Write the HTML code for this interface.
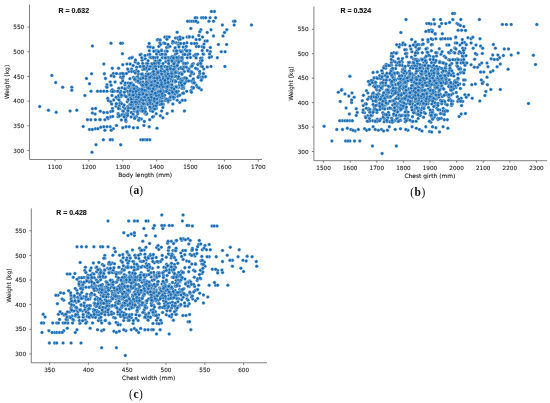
<!DOCTYPE html>
<html lang="en"><head><meta charset="utf-8"><title>Scatter plots of weight against body measurements</title>
<style>
html,body{margin:0;padding:0;background:#fff}
body{width:550px;height:403px;overflow:hidden}
svg{display:block}
.pt circle{fill:#186cb4;stroke:#fff;stroke-width:.3}
.ax{fill:none;stroke:#727272;stroke-width:.9}
.tk text{font-family:"DejaVu Sans","Liberation Sans",sans-serif;font-size:5.7px;fill:#222;stroke:#222;stroke-width:.1}
.tk text.lb{font-size:5.95px}
.r{font-family:"Liberation Sans","DejaVu Sans",sans-serif;font-weight:bold;font-size:7px;fill:#111;stroke:#111;stroke-width:.12}
.cap{font-family:"Liberation Serif","DejaVu Serif",serif;font-size:11.5px;fill:#111}
</style></head><body>
<svg width="550" height="403" viewBox="0 0 550 403">
<rect width="550" height="403" fill="#fff"/>
<g class="pl" id="plot-a">
<g class="pt">
<circle cx="175.5" cy="65.6" r="1.73"/><circle cx="174.3" cy="95.2" r="1.73"/><circle cx="136.5" cy="107.6" r="1.73"/><circle cx="155.4" cy="88.7" r="1.73"/><circle cx="179.8" cy="102.4" r="1.73"/><circle cx="152.2" cy="107.0" r="1.73"/><circle cx="164.8" cy="74.0" r="1.73"/><circle cx="163.5" cy="57.5" r="1.73"/><circle cx="129.2" cy="126.7" r="1.73"/><circle cx="158.4" cy="66.6" r="1.73"/><circle cx="159.9" cy="71.5" r="1.73"/><circle cx="171.2" cy="57.3" r="1.73"/><circle cx="143.4" cy="96.7" r="1.73"/><circle cx="120.7" cy="91.2" r="1.73"/><circle cx="164.8" cy="37.1" r="1.73"/><circle cx="160.2" cy="80.9" r="1.73"/><circle cx="161.1" cy="82.9" r="1.73"/><circle cx="149.5" cy="86.5" r="1.73"/><circle cx="166.7" cy="47.4" r="1.73"/><circle cx="139.7" cy="96.9" r="1.73"/><circle cx="189.0" cy="51.3" r="1.73"/><circle cx="152.2" cy="57.2" r="1.73"/><circle cx="148.1" cy="54.7" r="1.73"/><circle cx="162.0" cy="84.8" r="1.73"/><circle cx="170.1" cy="100.0" r="1.73"/><circle cx="168.6" cy="47.0" r="1.73"/><circle cx="192.8" cy="82.7" r="1.73"/><circle cx="142.9" cy="104.3" r="1.73"/><circle cx="39.7" cy="106.6" r="1.73"/><circle cx="103.8" cy="64.1" r="1.73"/><circle cx="153.3" cy="68.6" r="1.73"/><circle cx="146.0" cy="97.1" r="1.73"/><circle cx="217.3" cy="57.7" r="1.73"/><circle cx="159.7" cy="80.9" r="1.73"/><circle cx="152.2" cy="91.8" r="1.73"/><circle cx="162.9" cy="117.8" r="1.73"/><circle cx="174.8" cy="81.9" r="1.73"/><circle cx="138.3" cy="80.4" r="1.73"/><circle cx="168.9" cy="66.9" r="1.73"/><circle cx="137.2" cy="104.1" r="1.73"/><circle cx="171.2" cy="87.1" r="1.73"/><circle cx="153.3" cy="69.4" r="1.73"/><circle cx="150.2" cy="101.8" r="1.73"/><circle cx="130.2" cy="64.1" r="1.73"/><circle cx="168.9" cy="90.3" r="1.73"/><circle cx="191.1" cy="66.6" r="1.73"/><circle cx="175.5" cy="38.1" r="1.73"/><circle cx="135.0" cy="77.4" r="1.73"/><circle cx="120.4" cy="102.3" r="1.73"/><circle cx="135.2" cy="99.1" r="1.73"/><circle cx="118.2" cy="113.5" r="1.73"/><circle cx="112.0" cy="95.5" r="1.73"/><circle cx="168.4" cy="87.3" r="1.73"/><circle cx="175.5" cy="71.5" r="1.73"/><circle cx="125.9" cy="117.0" r="1.73"/><circle cx="165.9" cy="71.2" r="1.73"/><circle cx="172.6" cy="81.4" r="1.73"/><circle cx="164.6" cy="98.2" r="1.73"/><circle cx="153.2" cy="95.6" r="1.73"/><circle cx="119.8" cy="74.1" r="1.73"/><circle cx="127.0" cy="96.7" r="1.73"/><circle cx="161.4" cy="71.7" r="1.73"/><circle cx="136.6" cy="67.2" r="1.73"/><circle cx="86.5" cy="78.6" r="1.73"/><circle cx="147.7" cy="91.8" r="1.73"/><circle cx="176.4" cy="60.6" r="1.73"/><circle cx="157.8" cy="51.3" r="1.73"/><circle cx="48.4" cy="110.2" r="1.73"/><circle cx="177.3" cy="72.0" r="1.73"/><circle cx="180.0" cy="50.8" r="1.73"/><circle cx="136.6" cy="100.2" r="1.73"/><circle cx="162.2" cy="57.7" r="1.73"/><circle cx="200.3" cy="76.9" r="1.73"/><circle cx="173.8" cy="89.3" r="1.73"/><circle cx="143.8" cy="104.2" r="1.73"/><circle cx="97.5" cy="91.2" r="1.73"/><circle cx="129.9" cy="104.6" r="1.73"/><circle cx="177.8" cy="63.5" r="1.73"/><circle cx="134.7" cy="86.8" r="1.73"/><circle cx="164.1" cy="91.8" r="1.73"/><circle cx="143.9" cy="125.6" r="1.73"/><circle cx="151.8" cy="73.0" r="1.73"/><circle cx="152.5" cy="93.5" r="1.73"/><circle cx="201.9" cy="78.8" r="1.73"/><circle cx="137.8" cy="63.3" r="1.73"/><circle cx="110.2" cy="82.0" r="1.73"/><circle cx="163.5" cy="76.2" r="1.73"/><circle cx="151.5" cy="68.6" r="1.73"/><circle cx="135.0" cy="89.0" r="1.73"/><circle cx="152.0" cy="63.6" r="1.73"/><circle cx="168.1" cy="102.0" r="1.73"/><circle cx="181.7" cy="73.0" r="1.73"/><circle cx="169.6" cy="84.4" r="1.73"/><circle cx="182.9" cy="80.7" r="1.73"/><circle cx="135.1" cy="106.6" r="1.73"/><circle cx="189.9" cy="21.2" r="1.73"/><circle cx="148.2" cy="74.0" r="1.73"/><circle cx="149.6" cy="95.5" r="1.73"/><circle cx="113.7" cy="100.0" r="1.73"/><circle cx="113.3" cy="73.6" r="1.73"/><circle cx="146.3" cy="114.0" r="1.73"/><circle cx="181.8" cy="83.0" r="1.73"/><circle cx="199.8" cy="73.6" r="1.73"/><circle cx="185.5" cy="77.4" r="1.73"/><circle cx="142.2" cy="60.2" r="1.73"/><circle cx="107.3" cy="112.5" r="1.73"/><circle cx="124.8" cy="114.4" r="1.73"/><circle cx="183.5" cy="63.5" r="1.73"/><circle cx="147.9" cy="63.5" r="1.73"/><circle cx="154.8" cy="61.1" r="1.73"/><circle cx="215.6" cy="17.7" r="1.73"/><circle cx="142.9" cy="81.9" r="1.73"/><circle cx="154.4" cy="91.8" r="1.73"/><circle cx="173.7" cy="59.7" r="1.73"/><circle cx="161.8" cy="66.8" r="1.73"/><circle cx="142.5" cy="74.0" r="1.73"/><circle cx="169.5" cy="91.0" r="1.73"/><circle cx="202.2" cy="46.8" r="1.73"/><circle cx="180.2" cy="37.5" r="1.73"/><circle cx="160.6" cy="74.5" r="1.73"/><circle cx="224.5" cy="32.4" r="1.73"/><circle cx="176.3" cy="66.5" r="1.73"/><circle cx="138.0" cy="102.2" r="1.73"/><circle cx="154.4" cy="99.7" r="1.73"/><circle cx="148.7" cy="77.0" r="1.73"/><circle cx="159.5" cy="100.2" r="1.73"/><circle cx="196.6" cy="43.4" r="1.73"/><circle cx="145.0" cy="113.9" r="1.73"/><circle cx="224.9" cy="66.4" r="1.73"/><circle cx="169.9" cy="46.4" r="1.73"/><circle cx="150.4" cy="80.9" r="1.73"/><circle cx="153.6" cy="93.2" r="1.73"/><circle cx="169.7" cy="98.2" r="1.73"/><circle cx="144.9" cy="84.8" r="1.73"/><circle cx="100.3" cy="111.2" r="1.73"/><circle cx="107.7" cy="98.2" r="1.73"/><circle cx="139.0" cy="108.6" r="1.73"/><circle cx="132.8" cy="96.8" r="1.73"/><circle cx="56.2" cy="112.3" r="1.73"/><circle cx="127.8" cy="106.8" r="1.73"/><circle cx="165.8" cy="61.7" r="1.73"/><circle cx="162.6" cy="96.2" r="1.73"/><circle cx="131.3" cy="88.8" r="1.73"/><circle cx="192.4" cy="88.1" r="1.73"/><circle cx="174.6" cy="91.5" r="1.73"/><circle cx="141.2" cy="93.5" r="1.73"/><circle cx="175.1" cy="91.0" r="1.73"/><circle cx="165.1" cy="51.3" r="1.73"/><circle cx="158.3" cy="97.0" r="1.73"/><circle cx="156.5" cy="78.6" r="1.73"/><circle cx="173.4" cy="59.2" r="1.73"/><circle cx="159.8" cy="85.0" r="1.73"/><circle cx="140.7" cy="103.9" r="1.73"/><circle cx="143.0" cy="102.6" r="1.73"/><circle cx="218.4" cy="44.5" r="1.73"/><circle cx="177.6" cy="38.1" r="1.73"/><circle cx="131.4" cy="93.1" r="1.73"/><circle cx="160.0" cy="54.2" r="1.73"/><circle cx="124.6" cy="95.5" r="1.73"/><circle cx="156.3" cy="84.9" r="1.73"/><circle cx="163.9" cy="87.1" r="1.73"/><circle cx="140.8" cy="139.8" r="1.73"/><circle cx="137.9" cy="91.1" r="1.73"/><circle cx="166.5" cy="82.9" r="1.73"/><circle cx="153.4" cy="58.1" r="1.73"/><circle cx="104.3" cy="73.8" r="1.73"/><circle cx="172.0" cy="61.7" r="1.73"/><circle cx="173.3" cy="79.9" r="1.73"/><circle cx="175.1" cy="76.6" r="1.73"/><circle cx="155.1" cy="74.1" r="1.73"/><circle cx="137.9" cy="99.7" r="1.73"/><circle cx="201.5" cy="17.7" r="1.73"/><circle cx="107.0" cy="91.2" r="1.73"/><circle cx="173.0" cy="94.7" r="1.73"/><circle cx="153.3" cy="87.3" r="1.73"/><circle cx="151.9" cy="86.8" r="1.73"/><circle cx="116.5" cy="125.6" r="1.73"/><circle cx="131.6" cy="69.1" r="1.73"/><circle cx="160.4" cy="83.1" r="1.73"/><circle cx="143.0" cy="96.7" r="1.73"/><circle cx="182.3" cy="51.1" r="1.73"/><circle cx="105.5" cy="78.4" r="1.73"/><circle cx="145.2" cy="58.7" r="1.73"/><circle cx="151.2" cy="66.6" r="1.73"/><circle cx="132.3" cy="106.4" r="1.73"/><circle cx="142.8" cy="69.5" r="1.73"/><circle cx="151.8" cy="95.2" r="1.73"/><circle cx="180.3" cy="78.4" r="1.73"/><circle cx="164.4" cy="76.7" r="1.73"/><circle cx="183.8" cy="87.0" r="1.73"/><circle cx="181.7" cy="68.1" r="1.73"/><circle cx="151.5" cy="93.3" r="1.73"/><circle cx="156.4" cy="85.8" r="1.73"/><circle cx="91.0" cy="91.2" r="1.73"/><circle cx="187.3" cy="63.1" r="1.73"/><circle cx="156.2" cy="50.7" r="1.73"/><circle cx="156.5" cy="83.3" r="1.73"/><circle cx="188.1" cy="68.7" r="1.73"/><circle cx="251.5" cy="25.0" r="1.73"/><circle cx="172.4" cy="71.5" r="1.73"/><circle cx="175.0" cy="69.1" r="1.73"/><circle cx="166.5" cy="80.6" r="1.73"/><circle cx="149.5" cy="106.7" r="1.73"/><circle cx="163.7" cy="82.9" r="1.73"/><circle cx="173.5" cy="69.5" r="1.73"/><circle cx="190.8" cy="28.4" r="1.73"/><circle cx="158.3" cy="76.5" r="1.73"/><circle cx="162.9" cy="91.4" r="1.73"/><circle cx="157.2" cy="78.2" r="1.73"/><circle cx="139.9" cy="103.6" r="1.73"/><circle cx="170.7" cy="70.0" r="1.73"/><circle cx="103.8" cy="126.7" r="1.73"/><circle cx="202.1" cy="57.9" r="1.73"/><circle cx="147.9" cy="91.2" r="1.73"/><circle cx="108.1" cy="118.7" r="1.73"/><circle cx="159.7" cy="99.7" r="1.73"/><circle cx="138.5" cy="82.6" r="1.73"/><circle cx="146.8" cy="97.6" r="1.73"/><circle cx="177.2" cy="32.3" r="1.73"/><circle cx="149.6" cy="94.2" r="1.73"/><circle cx="157.7" cy="83.2" r="1.73"/><circle cx="181.3" cy="85.0" r="1.73"/><circle cx="145.9" cy="84.5" r="1.73"/><circle cx="153.5" cy="69.2" r="1.73"/><circle cx="174.4" cy="97.3" r="1.73"/><circle cx="145.5" cy="113.6" r="1.73"/><circle cx="149.8" cy="91.3" r="1.73"/><circle cx="127.4" cy="110.5" r="1.73"/><circle cx="156.4" cy="99.9" r="1.73"/><circle cx="134.3" cy="110.9" r="1.73"/><circle cx="146.5" cy="114.0" r="1.73"/><circle cx="136.3" cy="81.4" r="1.73"/><circle cx="154.1" cy="72.1" r="1.73"/><circle cx="84.9" cy="95.5" r="1.73"/><circle cx="133.7" cy="95.8" r="1.73"/><circle cx="149.1" cy="80.9" r="1.73"/><circle cx="210.3" cy="47.6" r="1.73"/><circle cx="144.5" cy="66.9" r="1.73"/><circle cx="153.7" cy="93.6" r="1.73"/><circle cx="161.6" cy="98.2" r="1.73"/><circle cx="135.2" cy="62.1" r="1.73"/><circle cx="141.4" cy="118.9" r="1.73"/><circle cx="161.6" cy="50.0" r="1.73"/><circle cx="150.1" cy="57.2" r="1.73"/><circle cx="143.5" cy="108.5" r="1.73"/><circle cx="126.4" cy="113.5" r="1.73"/><circle cx="155.2" cy="96.7" r="1.73"/><circle cx="226.8" cy="29.7" r="1.73"/><circle cx="190.3" cy="75.7" r="1.73"/><circle cx="150.1" cy="104.2" r="1.73"/><circle cx="103.8" cy="112.5" r="1.73"/><circle cx="129.5" cy="58.2" r="1.73"/><circle cx="121.1" cy="73.6" r="1.73"/><circle cx="110.8" cy="111.5" r="1.73"/><circle cx="126.0" cy="90.8" r="1.73"/><circle cx="142.0" cy="97.7" r="1.73"/><circle cx="193.3" cy="63.7" r="1.73"/><circle cx="162.7" cy="66.1" r="1.73"/><circle cx="167.0" cy="84.9" r="1.73"/><circle cx="184.3" cy="54.2" r="1.73"/><circle cx="163.1" cy="83.2" r="1.73"/><circle cx="148.0" cy="95.3" r="1.73"/><circle cx="119.9" cy="108.7" r="1.73"/><circle cx="162.4" cy="69.5" r="1.73"/><circle cx="172.0" cy="78.7" r="1.73"/><circle cx="192.0" cy="21.2" r="1.73"/><circle cx="148.7" cy="81.4" r="1.73"/><circle cx="147.4" cy="78.7" r="1.73"/><circle cx="124.8" cy="108.4" r="1.73"/><circle cx="183.4" cy="85.0" r="1.73"/><circle cx="104.9" cy="130.3" r="1.73"/><circle cx="165.5" cy="71.0" r="1.73"/><circle cx="120.9" cy="96.7" r="1.73"/><circle cx="175.0" cy="91.3" r="1.73"/><circle cx="122.4" cy="43.2" r="1.73"/><circle cx="70.1" cy="111.1" r="1.73"/><circle cx="170.3" cy="93.2" r="1.73"/><circle cx="143.0" cy="75.5" r="1.73"/><circle cx="166.8" cy="100.6" r="1.73"/><circle cx="106.3" cy="86.8" r="1.73"/><circle cx="158.6" cy="66.6" r="1.73"/><circle cx="126.0" cy="126.7" r="1.73"/><circle cx="158.9" cy="71.0" r="1.73"/><circle cx="166.1" cy="51.0" r="1.73"/><circle cx="189.9" cy="50.7" r="1.73"/><circle cx="203.7" cy="54.2" r="1.73"/><circle cx="152.4" cy="95.2" r="1.73"/><circle cx="164.7" cy="54.3" r="1.73"/><circle cx="156.9" cy="102.2" r="1.73"/><circle cx="143.5" cy="86.9" r="1.73"/><circle cx="139.8" cy="95.2" r="1.73"/><circle cx="165.3" cy="74.0" r="1.73"/><circle cx="149.2" cy="126.7" r="1.73"/><circle cx="167.4" cy="71.5" r="1.73"/><circle cx="162.2" cy="76.0" r="1.73"/><circle cx="160.3" cy="94.7" r="1.73"/><circle cx="136.2" cy="106.4" r="1.73"/><circle cx="153.1" cy="84.4" r="1.73"/><circle cx="108.3" cy="100.6" r="1.73"/><circle cx="120.7" cy="77.2" r="1.73"/><circle cx="132.9" cy="91.4" r="1.73"/><circle cx="163.7" cy="93.1" r="1.73"/><circle cx="152.7" cy="87.8" r="1.73"/><circle cx="138.0" cy="106.6" r="1.73"/><circle cx="91.6" cy="73.8" r="1.73"/><circle cx="155.2" cy="93.1" r="1.73"/><circle cx="151.4" cy="81.0" r="1.73"/><circle cx="173.6" cy="64.0" r="1.73"/><circle cx="95.4" cy="128.8" r="1.73"/><circle cx="176.0" cy="86.6" r="1.73"/><circle cx="157.7" cy="80.4" r="1.73"/><circle cx="149.0" cy="99.2" r="1.73"/><circle cx="143.6" cy="110.5" r="1.73"/><circle cx="157.1" cy="100.0" r="1.73"/><circle cx="160.2" cy="89.8" r="1.73"/><circle cx="153.5" cy="116.6" r="1.73"/><circle cx="210.3" cy="51.8" r="1.73"/><circle cx="145.0" cy="55.6" r="1.73"/><circle cx="123.4" cy="106.8" r="1.73"/><circle cx="213.5" cy="21.2" r="1.73"/><circle cx="155.6" cy="60.9" r="1.73"/><circle cx="124.9" cy="84.9" r="1.73"/><circle cx="135.9" cy="78.8" r="1.73"/><circle cx="142.1" cy="76.6" r="1.73"/><circle cx="174.0" cy="50.8" r="1.73"/><circle cx="158.2" cy="97.2" r="1.73"/><circle cx="95.1" cy="114.1" r="1.73"/><circle cx="116.3" cy="103.9" r="1.73"/><circle cx="163.7" cy="42.9" r="1.73"/><circle cx="149.5" cy="100.2" r="1.73"/><circle cx="155.7" cy="98.7" r="1.73"/><circle cx="201.3" cy="89.8" r="1.73"/><circle cx="113.3" cy="128.8" r="1.73"/><circle cx="124.4" cy="116.9" r="1.73"/><circle cx="177.1" cy="60.5" r="1.73"/><circle cx="142.7" cy="63.6" r="1.73"/><circle cx="76.8" cy="110.2" r="1.73"/><circle cx="147.8" cy="93.2" r="1.73"/><circle cx="153.5" cy="104.4" r="1.73"/><circle cx="157.3" cy="57.5" r="1.73"/><circle cx="182.9" cy="38.1" r="1.73"/><circle cx="193.9" cy="55.7" r="1.73"/><circle cx="122.6" cy="111.0" r="1.73"/><circle cx="168.4" cy="85.0" r="1.73"/><circle cx="158.5" cy="101.7" r="1.73"/><circle cx="159.1" cy="83.9" r="1.73"/><circle cx="170.1" cy="74.0" r="1.73"/><circle cx="199.7" cy="71.4" r="1.73"/><circle cx="172.0" cy="75.5" r="1.73"/><circle cx="111.1" cy="85.3" r="1.73"/><circle cx="145.0" cy="107.5" r="1.73"/><circle cx="221.3" cy="51.8" r="1.73"/><circle cx="135.6" cy="78.4" r="1.73"/><circle cx="151.7" cy="84.9" r="1.73"/><circle cx="183.5" cy="54.1" r="1.73"/><circle cx="173.7" cy="98.7" r="1.73"/><circle cx="173.4" cy="93.7" r="1.73"/><circle cx="132.9" cy="87.1" r="1.73"/><circle cx="170.7" cy="96.2" r="1.73"/><circle cx="150.1" cy="94.8" r="1.73"/><circle cx="197.3" cy="69.0" r="1.73"/><circle cx="169.6" cy="92.9" r="1.73"/><circle cx="142.5" cy="66.5" r="1.73"/><circle cx="119.4" cy="115.5" r="1.73"/><circle cx="161.7" cy="84.9" r="1.73"/><circle cx="177.2" cy="76.6" r="1.73"/><circle cx="166.7" cy="76.8" r="1.73"/><circle cx="141.7" cy="74.1" r="1.73"/><circle cx="122.0" cy="87.8" r="1.73"/><circle cx="146.4" cy="63.5" r="1.73"/><circle cx="159.7" cy="102.4" r="1.73"/><circle cx="170.5" cy="77.9" r="1.73"/><circle cx="150.6" cy="110.7" r="1.73"/><circle cx="156.3" cy="88.1" r="1.73"/><circle cx="182.0" cy="60.7" r="1.73"/><circle cx="140.5" cy="107.1" r="1.73"/><circle cx="160.7" cy="54.6" r="1.73"/><circle cx="144.9" cy="92.3" r="1.73"/><circle cx="192.8" cy="37.1" r="1.73"/><circle cx="157.2" cy="39.9" r="1.73"/><circle cx="146.6" cy="102.3" r="1.73"/><circle cx="117.8" cy="98.7" r="1.73"/><circle cx="151.9" cy="102.3" r="1.73"/><circle cx="161.2" cy="88.8" r="1.73"/><circle cx="146.5" cy="91.3" r="1.73"/><circle cx="157.6" cy="80.4" r="1.73"/><circle cx="127.8" cy="87.2" r="1.73"/><circle cx="178.9" cy="68.8" r="1.73"/><circle cx="167.1" cy="69.5" r="1.73"/><circle cx="167.1" cy="37.1" r="1.73"/><circle cx="194.1" cy="21.2" r="1.73"/><circle cx="177.9" cy="96.2" r="1.73"/><circle cx="156.2" cy="113.7" r="1.73"/><circle cx="203.4" cy="17.7" r="1.73"/><circle cx="156.4" cy="78.9" r="1.73"/><circle cx="167.1" cy="81.9" r="1.73"/><circle cx="118.6" cy="68.3" r="1.73"/><circle cx="158.1" cy="39.5" r="1.73"/><circle cx="210.1" cy="17.7" r="1.73"/><circle cx="199.6" cy="39.4" r="1.73"/><circle cx="157.2" cy="89.8" r="1.73"/><circle cx="182.6" cy="67.1" r="1.73"/><circle cx="172.3" cy="90.8" r="1.73"/><circle cx="173.8" cy="74.5" r="1.73"/><circle cx="182.5" cy="57.5" r="1.73"/><circle cx="198.8" cy="63.5" r="1.73"/><circle cx="139.2" cy="99.6" r="1.73"/><circle cx="169.2" cy="37.1" r="1.73"/><circle cx="137.7" cy="76.6" r="1.73"/><circle cx="123.3" cy="111.3" r="1.73"/><circle cx="125.8" cy="89.0" r="1.73"/><circle cx="185.0" cy="100.3" r="1.73"/><circle cx="211.0" cy="29.7" r="1.73"/><circle cx="179.8" cy="78.3" r="1.73"/><circle cx="193.6" cy="73.8" r="1.73"/><circle cx="120.1" cy="92.7" r="1.73"/><circle cx="155.2" cy="66.6" r="1.73"/><circle cx="148.8" cy="102.1" r="1.73"/><circle cx="173.0" cy="76.2" r="1.73"/><circle cx="140.3" cy="81.9" r="1.73"/><circle cx="133.4" cy="77.4" r="1.73"/><circle cx="142.3" cy="106.6" r="1.73"/><circle cx="195.6" cy="54.4" r="1.73"/><circle cx="139.8" cy="103.5" r="1.73"/><circle cx="133.1" cy="99.7" r="1.73"/><circle cx="127.3" cy="101.7" r="1.73"/><circle cx="128.8" cy="93.2" r="1.73"/><circle cx="125.8" cy="117.9" r="1.73"/><circle cx="162.3" cy="90.8" r="1.73"/><circle cx="111.2" cy="130.3" r="1.73"/><circle cx="62.7" cy="87.3" r="1.73"/><circle cx="163.3" cy="104.0" r="1.73"/><circle cx="178.5" cy="60.2" r="1.73"/><circle cx="112.5" cy="108.5" r="1.73"/><circle cx="170.5" cy="58.1" r="1.73"/><circle cx="176.1" cy="42.8" r="1.73"/><circle cx="154.2" cy="102.4" r="1.73"/><circle cx="122.4" cy="53.7" r="1.73"/><circle cx="141.8" cy="78.2" r="1.73"/><circle cx="151.2" cy="57.7" r="1.73"/><circle cx="133.1" cy="102.4" r="1.73"/><circle cx="185.7" cy="78.5" r="1.73"/><circle cx="103.4" cy="139.8" r="1.73"/><circle cx="128.9" cy="95.2" r="1.73"/><circle cx="183.2" cy="54.5" r="1.73"/><circle cx="138.4" cy="80.6" r="1.73"/><circle cx="187.1" cy="37.1" r="1.73"/><circle cx="159.5" cy="79.1" r="1.73"/><circle cx="187.3" cy="50.5" r="1.73"/><circle cx="200.9" cy="29.7" r="1.73"/><circle cx="156.0" cy="92.7" r="1.73"/><circle cx="165.5" cy="75.0" r="1.73"/><circle cx="179.0" cy="73.5" r="1.73"/><circle cx="168.3" cy="81.4" r="1.73"/><circle cx="128.9" cy="71.4" r="1.73"/><circle cx="136.4" cy="70.5" r="1.73"/><circle cx="156.2" cy="95.4" r="1.73"/><circle cx="165.6" cy="78.4" r="1.73"/><circle cx="156.2" cy="104.1" r="1.73"/><circle cx="145.3" cy="76.5" r="1.73"/><circle cx="174.7" cy="63.1" r="1.73"/><circle cx="125.3" cy="82.9" r="1.73"/><circle cx="142.5" cy="74.2" r="1.73"/><circle cx="136.0" cy="97.2" r="1.73"/><circle cx="180.1" cy="58.0" r="1.73"/><circle cx="132.3" cy="57.3" r="1.73"/><circle cx="178.7" cy="39.4" r="1.73"/><circle cx="174.8" cy="71.7" r="1.73"/><circle cx="209.5" cy="54.1" r="1.73"/><circle cx="133.2" cy="97.1" r="1.73"/><circle cx="190.4" cy="57.5" r="1.73"/><circle cx="153.8" cy="85.0" r="1.73"/><circle cx="156.3" cy="102.1" r="1.73"/><circle cx="156.3" cy="63.6" r="1.73"/><circle cx="162.9" cy="94.7" r="1.73"/><circle cx="161.4" cy="102.1" r="1.73"/><circle cx="147.5" cy="63.5" r="1.73"/><circle cx="146.8" cy="87.0" r="1.73"/><circle cx="139.1" cy="98.2" r="1.73"/><circle cx="134.7" cy="90.8" r="1.73"/><circle cx="186.7" cy="91.3" r="1.73"/><circle cx="166.7" cy="76.4" r="1.73"/><circle cx="100.0" cy="119.6" r="1.73"/><circle cx="111.2" cy="91.2" r="1.73"/><circle cx="137.9" cy="104.0" r="1.73"/><circle cx="172.0" cy="77.0" r="1.73"/><circle cx="163.9" cy="85.3" r="1.73"/><circle cx="122.8" cy="78.8" r="1.73"/><circle cx="181.3" cy="60.8" r="1.73"/><circle cx="120.7" cy="43.2" r="1.73"/><circle cx="165.1" cy="100.4" r="1.73"/><circle cx="133.9" cy="93.3" r="1.73"/><circle cx="133.5" cy="87.0" r="1.73"/><circle cx="162.3" cy="89.8" r="1.73"/><circle cx="158.8" cy="46.4" r="1.73"/><circle cx="142.4" cy="95.1" r="1.73"/><circle cx="192.7" cy="88.5" r="1.73"/><circle cx="168.0" cy="81.1" r="1.73"/><circle cx="179.8" cy="37.1" r="1.73"/><circle cx="171.5" cy="93.2" r="1.73"/><circle cx="178.6" cy="87.3" r="1.73"/><circle cx="122.7" cy="114.3" r="1.73"/><circle cx="170.5" cy="97.0" r="1.73"/><circle cx="222.4" cy="25.0" r="1.73"/><circle cx="161.5" cy="69.1" r="1.73"/><circle cx="153.2" cy="99.7" r="1.73"/><circle cx="132.7" cy="104.4" r="1.73"/><circle cx="182.4" cy="93.4" r="1.73"/><circle cx="171.3" cy="75.9" r="1.73"/><circle cx="175.6" cy="50.8" r="1.73"/><circle cx="136.8" cy="80.7" r="1.73"/><circle cx="140.8" cy="101.6" r="1.73"/><circle cx="146.1" cy="92.9" r="1.73"/><circle cx="146.4" cy="80.9" r="1.73"/><circle cx="172.5" cy="43.1" r="1.73"/><circle cx="183.2" cy="47.1" r="1.73"/><circle cx="178.7" cy="43.0" r="1.73"/><circle cx="178.9" cy="56.7" r="1.73"/><circle cx="168.0" cy="44.4" r="1.73"/><circle cx="178.2" cy="44.9" r="1.73"/><circle cx="118.8" cy="97.2" r="1.73"/><circle cx="112.7" cy="111.0" r="1.73"/><circle cx="169.7" cy="81.2" r="1.73"/><circle cx="197.5" cy="54.2" r="1.73"/><circle cx="145.0" cy="139.8" r="1.73"/><circle cx="136.8" cy="111.5" r="1.73"/><circle cx="141.0" cy="54.3" r="1.73"/><circle cx="158.4" cy="104.1" r="1.73"/><circle cx="147.4" cy="66.4" r="1.73"/><circle cx="146.7" cy="113.7" r="1.73"/><circle cx="194.5" cy="43.4" r="1.73"/><circle cx="175.4" cy="54.2" r="1.73"/><circle cx="149.1" cy="91.8" r="1.73"/><circle cx="90.8" cy="119.7" r="1.73"/><circle cx="180.6" cy="57.9" r="1.73"/><circle cx="202.2" cy="50.6" r="1.73"/><circle cx="174.3" cy="87.3" r="1.73"/><circle cx="176.8" cy="50.8" r="1.73"/><circle cx="124.1" cy="74.0" r="1.73"/><circle cx="174.3" cy="66.7" r="1.73"/><circle cx="152.7" cy="99.6" r="1.73"/><circle cx="116.1" cy="106.3" r="1.73"/><circle cx="141.2" cy="109.5" r="1.73"/><circle cx="148.2" cy="46.8" r="1.73"/><circle cx="183.8" cy="83.9" r="1.73"/><circle cx="180.4" cy="79.4" r="1.73"/><circle cx="155.1" cy="78.2" r="1.73"/><circle cx="149.7" cy="119.8" r="1.73"/><circle cx="183.8" cy="63.2" r="1.73"/><circle cx="180.3" cy="73.0" r="1.73"/><circle cx="150.5" cy="91.6" r="1.73"/><circle cx="170.3" cy="57.7" r="1.73"/><circle cx="203.8" cy="69.0" r="1.73"/><circle cx="207.3" cy="50.5" r="1.73"/><circle cx="153.0" cy="66.3" r="1.73"/><circle cx="153.7" cy="57.9" r="1.73"/><circle cx="180.7" cy="67.6" r="1.73"/><circle cx="141.8" cy="106.5" r="1.73"/><circle cx="155.7" cy="88.6" r="1.73"/><circle cx="147.0" cy="70.5" r="1.73"/><circle cx="177.2" cy="100.3" r="1.73"/><circle cx="186.9" cy="42.8" r="1.73"/><circle cx="144.3" cy="67.6" r="1.73"/><circle cx="92.4" cy="108.8" r="1.73"/><circle cx="149.8" cy="139.8" r="1.73"/><circle cx="151.2" cy="97.4" r="1.73"/><circle cx="145.5" cy="108.8" r="1.73"/><circle cx="156.4" cy="74.1" r="1.73"/><circle cx="121.6" cy="115.0" r="1.73"/><circle cx="159.1" cy="63.6" r="1.73"/><circle cx="157.6" cy="79.4" r="1.73"/><circle cx="149.8" cy="83.1" r="1.73"/><circle cx="119.9" cy="103.6" r="1.73"/><circle cx="184.3" cy="71.5" r="1.73"/><circle cx="152.9" cy="91.0" r="1.73"/><circle cx="165.6" cy="57.4" r="1.73"/><circle cx="159.1" cy="95.3" r="1.73"/><circle cx="170.6" cy="93.2" r="1.73"/><circle cx="122.4" cy="77.9" r="1.73"/><circle cx="171.2" cy="66.1" r="1.73"/><circle cx="150.1" cy="81.4" r="1.73"/><circle cx="175.0" cy="93.7" r="1.73"/><circle cx="141.7" cy="91.3" r="1.73"/><circle cx="207.3" cy="67.1" r="1.73"/><circle cx="131.0" cy="100.2" r="1.73"/><circle cx="158.4" cy="60.5" r="1.73"/><circle cx="151.6" cy="99.7" r="1.73"/><circle cx="112.3" cy="139.8" r="1.73"/><circle cx="107.0" cy="84.7" r="1.73"/><circle cx="191.2" cy="80.9" r="1.73"/><circle cx="100.7" cy="91.2" r="1.73"/><circle cx="170.8" cy="80.7" r="1.73"/><circle cx="183.6" cy="78.3" r="1.73"/><circle cx="110.6" cy="116.9" r="1.73"/><circle cx="165.0" cy="57.5" r="1.73"/><circle cx="203.0" cy="76.7" r="1.73"/><circle cx="176.8" cy="53.3" r="1.73"/><circle cx="131.3" cy="112.5" r="1.73"/><circle cx="163.0" cy="63.6" r="1.73"/><circle cx="175.5" cy="81.4" r="1.73"/><circle cx="169.6" cy="93.2" r="1.73"/><circle cx="158.5" cy="73.0" r="1.73"/><circle cx="155.1" cy="94.2" r="1.73"/><circle cx="177.9" cy="78.5" r="1.73"/><circle cx="193.5" cy="80.9" r="1.73"/><circle cx="190.1" cy="71.5" r="1.73"/><circle cx="128.1" cy="82.9" r="1.73"/><circle cx="139.1" cy="110.0" r="1.73"/><circle cx="147.1" cy="139.8" r="1.73"/><circle cx="107.0" cy="87.3" r="1.73"/><circle cx="147.0" cy="94.2" r="1.73"/><circle cx="148.6" cy="79.9" r="1.73"/><circle cx="200.6" cy="58.2" r="1.73"/><circle cx="146.0" cy="69.0" r="1.73"/><circle cx="139.3" cy="118.4" r="1.73"/><circle cx="176.5" cy="50.9" r="1.73"/><circle cx="138.4" cy="74.0" r="1.73"/><circle cx="154.3" cy="71.2" r="1.73"/><circle cx="160.3" cy="115.7" r="1.73"/><circle cx="71.8" cy="87.3" r="1.73"/><circle cx="150.3" cy="47.0" r="1.73"/><circle cx="156.6" cy="71.3" r="1.73"/><circle cx="174.1" cy="62.6" r="1.73"/><circle cx="169.6" cy="66.6" r="1.73"/><circle cx="135.5" cy="59.9" r="1.73"/><circle cx="138.2" cy="108.1" r="1.73"/><circle cx="128.8" cy="87.3" r="1.73"/><circle cx="136.4" cy="116.4" r="1.73"/><circle cx="127.6" cy="113.5" r="1.73"/><circle cx="124.8" cy="88.8" r="1.73"/><circle cx="143.6" cy="76.5" r="1.73"/><circle cx="194.9" cy="83.0" r="1.73"/><circle cx="137.9" cy="107.0" r="1.73"/><circle cx="148.9" cy="78.6" r="1.73"/><circle cx="156.7" cy="102.1" r="1.73"/><circle cx="157.9" cy="51.0" r="1.73"/><circle cx="173.4" cy="97.2" r="1.73"/><circle cx="155.1" cy="80.7" r="1.73"/><circle cx="167.8" cy="81.0" r="1.73"/><circle cx="152.8" cy="77.9" r="1.73"/><circle cx="158.0" cy="91.0" r="1.73"/><circle cx="160.1" cy="78.9" r="1.73"/><circle cx="168.4" cy="61.0" r="1.73"/><circle cx="168.5" cy="60.6" r="1.73"/><circle cx="181.3" cy="68.6" r="1.73"/><circle cx="154.4" cy="75.5" r="1.73"/><circle cx="144.5" cy="91.3" r="1.73"/><circle cx="201.3" cy="66.2" r="1.73"/><circle cx="138.3" cy="63.6" r="1.73"/><circle cx="145.6" cy="99.6" r="1.73"/><circle cx="183.5" cy="88.4" r="1.73"/><circle cx="166.7" cy="88.6" r="1.73"/><circle cx="173.1" cy="80.8" r="1.73"/><circle cx="178.7" cy="62.1" r="1.73"/><circle cx="182.0" cy="88.3" r="1.73"/><circle cx="164.7" cy="84.8" r="1.73"/><circle cx="139.5" cy="82.6" r="1.73"/><circle cx="139.0" cy="78.7" r="1.73"/><circle cx="149.2" cy="78.9" r="1.73"/><circle cx="153.8" cy="98.2" r="1.73"/><circle cx="175.1" cy="47.8" r="1.73"/><circle cx="173.8" cy="42.3" r="1.73"/><circle cx="157.6" cy="78.9" r="1.73"/><circle cx="147.4" cy="104.3" r="1.73"/><circle cx="129.3" cy="85.8" r="1.73"/><circle cx="179.4" cy="84.9" r="1.73"/><circle cx="163.3" cy="90.8" r="1.73"/><circle cx="124.5" cy="115.5" r="1.73"/><circle cx="203.1" cy="54.1" r="1.73"/><circle cx="176.1" cy="86.3" r="1.73"/><circle cx="168.1" cy="86.3" r="1.73"/><circle cx="197.7" cy="22.3" r="1.73"/><circle cx="172.0" cy="71.9" r="1.73"/><circle cx="127.7" cy="69.1" r="1.73"/><circle cx="118.0" cy="116.8" r="1.73"/><circle cx="196.6" cy="85.5" r="1.73"/><circle cx="135.6" cy="91.1" r="1.73"/><circle cx="188.9" cy="69.0" r="1.73"/><circle cx="160.0" cy="97.1" r="1.73"/><circle cx="156.7" cy="81.0" r="1.73"/><circle cx="149.6" cy="78.1" r="1.73"/><circle cx="146.3" cy="96.7" r="1.73"/><circle cx="185.7" cy="81.9" r="1.73"/><circle cx="127.9" cy="91.3" r="1.73"/><circle cx="161.6" cy="84.4" r="1.73"/><circle cx="155.8" cy="66.4" r="1.73"/><circle cx="156.8" cy="102.6" r="1.73"/><circle cx="163.6" cy="80.9" r="1.73"/><circle cx="163.0" cy="76.9" r="1.73"/><circle cx="141.8" cy="74.2" r="1.73"/><circle cx="178.2" cy="57.5" r="1.73"/><circle cx="161.4" cy="50.8" r="1.73"/><circle cx="173.9" cy="63.8" r="1.73"/><circle cx="156.8" cy="97.0" r="1.73"/><circle cx="182.3" cy="58.7" r="1.73"/><circle cx="147.7" cy="83.4" r="1.73"/><circle cx="156.6" cy="78.6" r="1.73"/><circle cx="148.5" cy="97.5" r="1.73"/><circle cx="136.6" cy="87.0" r="1.73"/><circle cx="201.3" cy="80.3" r="1.73"/><circle cx="192.1" cy="87.3" r="1.73"/><circle cx="137.8" cy="113.8" r="1.73"/><circle cx="174.8" cy="76.5" r="1.73"/><circle cx="100.7" cy="127.3" r="1.73"/><circle cx="142.1" cy="103.1" r="1.73"/><circle cx="100.0" cy="119.7" r="1.73"/><circle cx="169.1" cy="66.7" r="1.73"/><circle cx="182.0" cy="74.2" r="1.73"/><circle cx="187.6" cy="21.2" r="1.73"/><circle cx="233.6" cy="21.2" r="1.73"/><circle cx="140.8" cy="78.9" r="1.73"/><circle cx="96.0" cy="144.8" r="1.73"/><circle cx="195.8" cy="56.7" r="1.73"/><circle cx="137.6" cy="88.6" r="1.73"/><circle cx="167.0" cy="81.4" r="1.73"/><circle cx="153.0" cy="104.2" r="1.73"/><circle cx="171.7" cy="90.8" r="1.73"/><circle cx="170.3" cy="78.9" r="1.73"/><circle cx="141.1" cy="91.3" r="1.73"/><circle cx="121.8" cy="103.7" r="1.73"/><circle cx="139.1" cy="101.6" r="1.73"/><circle cx="203.4" cy="73.6" r="1.73"/><circle cx="126.0" cy="121.4" r="1.73"/><circle cx="137.6" cy="127.7" r="1.73"/><circle cx="122.8" cy="127.7" r="1.73"/><circle cx="187.2" cy="57.8" r="1.73"/><circle cx="182.5" cy="86.8" r="1.73"/><circle cx="176.9" cy="87.3" r="1.73"/><circle cx="144.5" cy="109.0" r="1.73"/><circle cx="133.3" cy="93.2" r="1.73"/><circle cx="132.6" cy="85.3" r="1.73"/><circle cx="158.6" cy="91.2" r="1.73"/><circle cx="159.7" cy="60.7" r="1.73"/><circle cx="158.5" cy="86.8" r="1.73"/><circle cx="159.8" cy="42.7" r="1.73"/><circle cx="146.1" cy="68.1" r="1.73"/><circle cx="124.3" cy="92.3" r="1.73"/><circle cx="161.6" cy="111.0" r="1.73"/><circle cx="138.0" cy="95.2" r="1.73"/><circle cx="159.2" cy="90.8" r="1.73"/><circle cx="120.7" cy="144.8" r="1.73"/><circle cx="131.6" cy="84.9" r="1.73"/><circle cx="198.8" cy="35.5" r="1.73"/><circle cx="156.7" cy="85.3" r="1.73"/><circle cx="152.0" cy="108.1" r="1.73"/><circle cx="142.3" cy="87.1" r="1.73"/><circle cx="154.5" cy="80.9" r="1.73"/><circle cx="158.7" cy="76.0" r="1.73"/><circle cx="159.4" cy="77.9" r="1.73"/><circle cx="156.8" cy="77.0" r="1.73"/><circle cx="150.0" cy="102.6" r="1.73"/><circle cx="110.7" cy="101.7" r="1.73"/><circle cx="133.1" cy="114.2" r="1.73"/><circle cx="177.0" cy="86.9" r="1.73"/><circle cx="151.2" cy="91.5" r="1.73"/><circle cx="133.8" cy="89.1" r="1.73"/><circle cx="150.3" cy="66.2" r="1.73"/><circle cx="192.2" cy="64.6" r="1.73"/><circle cx="175.3" cy="81.3" r="1.73"/><circle cx="184.9" cy="78.1" r="1.73"/><circle cx="142.3" cy="88.7" r="1.73"/><circle cx="146.6" cy="96.2" r="1.73"/><circle cx="152.3" cy="83.6" r="1.73"/><circle cx="110.2" cy="126.7" r="1.73"/><circle cx="156.2" cy="78.6" r="1.73"/><circle cx="153.8" cy="71.5" r="1.73"/><circle cx="114.4" cy="91.2" r="1.73"/><circle cx="180.2" cy="50.9" r="1.73"/><circle cx="118.8" cy="88.3" r="1.73"/><circle cx="161.6" cy="71.7" r="1.73"/><circle cx="143.3" cy="104.2" r="1.73"/><circle cx="156.6" cy="84.6" r="1.73"/><circle cx="130.8" cy="91.3" r="1.73"/><circle cx="155.5" cy="88.7" r="1.73"/><circle cx="131.7" cy="57.8" r="1.73"/><circle cx="197.7" cy="87.3" r="1.73"/><circle cx="136.3" cy="102.1" r="1.73"/><circle cx="160.2" cy="39.9" r="1.73"/><circle cx="187.8" cy="54.7" r="1.73"/><circle cx="173.7" cy="56.7" r="1.73"/><circle cx="175.3" cy="80.7" r="1.73"/><circle cx="179.1" cy="44.9" r="1.73"/><circle cx="143.1" cy="93.2" r="1.73"/><circle cx="165.3" cy="86.9" r="1.73"/><circle cx="189.8" cy="54.0" r="1.73"/><circle cx="151.8" cy="86.3" r="1.73"/><circle cx="172.0" cy="60.8" r="1.73"/><circle cx="166.1" cy="99.2" r="1.73"/><circle cx="134.8" cy="117.0" r="1.73"/><circle cx="167.1" cy="113.6" r="1.73"/><circle cx="131.7" cy="83.1" r="1.73"/><circle cx="141.8" cy="57.7" r="1.73"/><circle cx="146.4" cy="73.9" r="1.73"/><circle cx="154.6" cy="83.1" r="1.73"/><circle cx="129.9" cy="78.7" r="1.73"/><circle cx="190.9" cy="90.8" r="1.73"/><circle cx="129.7" cy="95.0" r="1.73"/><circle cx="103.8" cy="91.2" r="1.73"/><circle cx="205.1" cy="40.9" r="1.73"/><circle cx="136.2" cy="104.1" r="1.73"/><circle cx="199.8" cy="31.8" r="1.73"/><circle cx="136.6" cy="99.7" r="1.73"/><circle cx="147.7" cy="95.4" r="1.73"/><circle cx="148.1" cy="60.8" r="1.73"/><circle cx="168.6" cy="63.5" r="1.73"/><circle cx="172.8" cy="41.4" r="1.73"/><circle cx="135.9" cy="93.5" r="1.73"/><circle cx="181.8" cy="57.8" r="1.73"/><circle cx="154.0" cy="101.8" r="1.73"/><circle cx="112.3" cy="68.3" r="1.73"/><circle cx="155.1" cy="57.6" r="1.73"/><circle cx="149.9" cy="86.3" r="1.73"/><circle cx="126.5" cy="73.5" r="1.73"/><circle cx="157.9" cy="96.9" r="1.73"/><circle cx="156.4" cy="85.0" r="1.73"/><circle cx="153.2" cy="47.8" r="1.73"/><circle cx="181.9" cy="74.0" r="1.73"/><circle cx="207.2" cy="40.9" r="1.73"/><circle cx="126.1" cy="96.7" r="1.73"/><circle cx="149.4" cy="96.9" r="1.73"/><circle cx="136.7" cy="95.3" r="1.73"/><circle cx="179.4" cy="82.6" r="1.73"/><circle cx="114.0" cy="76.5" r="1.73"/><circle cx="131.6" cy="96.8" r="1.73"/><circle cx="153.6" cy="71.4" r="1.73"/><circle cx="92.0" cy="152.2" r="1.73"/><circle cx="118.3" cy="114.5" r="1.73"/><circle cx="170.6" cy="78.4" r="1.73"/><circle cx="141.4" cy="84.6" r="1.73"/><circle cx="186.3" cy="46.4" r="1.73"/><circle cx="148.0" cy="99.3" r="1.73"/><circle cx="134.7" cy="118.4" r="1.73"/><circle cx="132.9" cy="84.7" r="1.73"/><circle cx="167.8" cy="57.6" r="1.73"/><circle cx="154.6" cy="85.1" r="1.73"/><circle cx="133.2" cy="65.6" r="1.73"/><circle cx="160.9" cy="102.1" r="1.73"/><circle cx="150.2" cy="93.7" r="1.73"/><circle cx="165.3" cy="66.7" r="1.73"/><circle cx="116.5" cy="73.6" r="1.73"/><circle cx="148.4" cy="98.2" r="1.73"/><circle cx="155.0" cy="88.8" r="1.73"/><circle cx="110.2" cy="139.8" r="1.73"/><circle cx="92.4" cy="113.0" r="1.73"/><circle cx="71.8" cy="90.2" r="1.73"/><circle cx="185.4" cy="49.8" r="1.73"/><circle cx="234.2" cy="25.0" r="1.73"/><circle cx="141.1" cy="98.7" r="1.73"/><circle cx="146.0" cy="95.2" r="1.73"/><circle cx="188.1" cy="70.9" r="1.73"/><circle cx="144.9" cy="112.5" r="1.73"/><circle cx="142.9" cy="139.8" r="1.73"/><circle cx="95.6" cy="108.4" r="1.73"/><circle cx="175.6" cy="71.4" r="1.73"/><circle cx="157.4" cy="95.3" r="1.73"/><circle cx="191.6" cy="73.5" r="1.73"/><circle cx="191.4" cy="43.4" r="1.73"/><circle cx="149.1" cy="94.7" r="1.73"/><circle cx="153.0" cy="87.3" r="1.73"/><circle cx="134.8" cy="78.4" r="1.73"/><circle cx="145.7" cy="78.4" r="1.73"/><circle cx="150.3" cy="108.5" r="1.73"/><circle cx="145.9" cy="90.3" r="1.73"/><circle cx="163.1" cy="78.9" r="1.73"/><circle cx="186.7" cy="80.9" r="1.73"/><circle cx="164.7" cy="95.3" r="1.73"/><circle cx="203.9" cy="47.4" r="1.73"/><circle cx="132.8" cy="91.5" r="1.73"/><circle cx="189.0" cy="36.5" r="1.73"/><circle cx="157.7" cy="87.1" r="1.73"/><circle cx="127.0" cy="64.1" r="1.73"/><circle cx="136.3" cy="97.0" r="1.73"/><circle cx="175.6" cy="72.5" r="1.73"/><circle cx="186.6" cy="50.9" r="1.73"/><circle cx="156.5" cy="54.1" r="1.73"/><circle cx="144.3" cy="121.4" r="1.73"/><circle cx="172.1" cy="56.7" r="1.73"/><circle cx="154.3" cy="105.6" r="1.73"/><circle cx="166.5" cy="69.5" r="1.73"/><circle cx="152.0" cy="63.9" r="1.73"/><circle cx="196.4" cy="46.6" r="1.73"/><circle cx="155.2" cy="82.9" r="1.73"/><circle cx="169.4" cy="93.7" r="1.73"/><circle cx="181.8" cy="80.8" r="1.73"/><circle cx="150.8" cy="66.5" r="1.73"/><circle cx="149.9" cy="73.9" r="1.73"/><circle cx="163.9" cy="91.8" r="1.73"/><circle cx="172.3" cy="69.2" r="1.73"/><circle cx="141.8" cy="94.2" r="1.73"/><circle cx="167.0" cy="67.1" r="1.73"/><circle cx="172.0" cy="76.3" r="1.73"/><circle cx="127.6" cy="115.5" r="1.73"/><circle cx="211.0" cy="66.4" r="1.73"/><circle cx="202.5" cy="37.1" r="1.73"/><circle cx="104.9" cy="119.7" r="1.73"/><circle cx="183.4" cy="93.1" r="1.73"/><circle cx="176.2" cy="76.3" r="1.73"/><circle cx="160.1" cy="103.1" r="1.73"/><circle cx="134.7" cy="108.7" r="1.73"/><circle cx="183.0" cy="69.1" r="1.73"/><circle cx="111.2" cy="75.7" r="1.73"/><circle cx="161.2" cy="66.4" r="1.73"/><circle cx="180.9" cy="82.7" r="1.73"/><circle cx="133.7" cy="85.3" r="1.73"/><circle cx="130.3" cy="83.4" r="1.73"/><circle cx="168.1" cy="74.1" r="1.73"/><circle cx="148.7" cy="76.5" r="1.73"/><circle cx="119.3" cy="106.1" r="1.73"/><circle cx="154.1" cy="106.3" r="1.73"/><circle cx="130.6" cy="98.2" r="1.73"/><circle cx="160.1" cy="101.8" r="1.73"/><circle cx="128.3" cy="99.6" r="1.73"/><circle cx="158.2" cy="91.6" r="1.73"/><circle cx="154.4" cy="63.4" r="1.73"/><circle cx="180.8" cy="43.4" r="1.73"/><circle cx="196.1" cy="58.0" r="1.73"/><circle cx="176.0" cy="86.9" r="1.73"/><circle cx="138.6" cy="120.2" r="1.73"/><circle cx="155.3" cy="66.8" r="1.73"/><circle cx="151.8" cy="82.4" r="1.73"/><circle cx="147.1" cy="95.2" r="1.73"/><circle cx="149.9" cy="74.2" r="1.73"/><circle cx="162.1" cy="74.5" r="1.73"/><circle cx="155.0" cy="85.1" r="1.73"/><circle cx="130.1" cy="90.8" r="1.73"/><circle cx="139.2" cy="93.0" r="1.73"/><circle cx="124.1" cy="105.1" r="1.73"/><circle cx="200.5" cy="60.8" r="1.73"/><circle cx="205.5" cy="76.7" r="1.73"/><circle cx="177.1" cy="93.0" r="1.73"/><circle cx="131.8" cy="71.5" r="1.73"/><circle cx="139.4" cy="94.8" r="1.73"/><circle cx="205.7" cy="17.7" r="1.73"/><circle cx="156.5" cy="108.1" r="1.73"/><circle cx="151.7" cy="88.9" r="1.73"/><circle cx="149.8" cy="54.3" r="1.73"/><circle cx="142.6" cy="91.8" r="1.73"/><circle cx="166.8" cy="89.0" r="1.73"/><circle cx="112.3" cy="89.8" r="1.73"/><circle cx="152.1" cy="91.8" r="1.73"/><circle cx="138.5" cy="110.8" r="1.73"/><circle cx="160.6" cy="71.5" r="1.73"/><circle cx="51.9" cy="75.5" r="1.73"/><circle cx="159.5" cy="94.7" r="1.73"/><circle cx="124.1" cy="116.8" r="1.73"/><circle cx="183.4" cy="93.3" r="1.73"/><circle cx="144.3" cy="90.3" r="1.73"/><circle cx="198.5" cy="76.3" r="1.73"/><circle cx="156.8" cy="99.1" r="1.73"/><circle cx="156.8" cy="81.1" r="1.73"/><circle cx="141.7" cy="108.7" r="1.73"/><circle cx="165.1" cy="57.7" r="1.73"/><circle cx="150.0" cy="107.1" r="1.73"/><circle cx="160.3" cy="90.8" r="1.73"/><circle cx="141.7" cy="111.3" r="1.73"/><circle cx="166.7" cy="99.2" r="1.73"/><circle cx="197.8" cy="64.6" r="1.73"/><circle cx="195.6" cy="68.3" r="1.73"/><circle cx="157.2" cy="57.3" r="1.73"/><circle cx="142.7" cy="111.3" r="1.73"/><circle cx="121.1" cy="83.1" r="1.73"/><circle cx="141.3" cy="99.6" r="1.73"/><circle cx="151.7" cy="76.3" r="1.73"/><circle cx="168.1" cy="100.6" r="1.73"/><circle cx="161.3" cy="81.9" r="1.73"/><circle cx="130.8" cy="108.1" r="1.73"/><circle cx="152.1" cy="94.7" r="1.73"/><circle cx="136.1" cy="103.8" r="1.73"/><circle cx="145.1" cy="104.0" r="1.73"/><circle cx="122.7" cy="81.1" r="1.73"/><circle cx="134.1" cy="71.6" r="1.73"/><circle cx="226.6" cy="44.5" r="1.73"/><circle cx="167.4" cy="69.5" r="1.73"/><circle cx="171.8" cy="87.8" r="1.73"/><circle cx="165.6" cy="54.5" r="1.73"/><circle cx="158.6" cy="51.8" r="1.73"/><circle cx="144.4" cy="84.4" r="1.73"/><circle cx="149.2" cy="43.4" r="1.73"/><circle cx="144.2" cy="69.1" r="1.73"/><circle cx="162.4" cy="95.7" r="1.73"/><circle cx="184.4" cy="110.9" r="1.73"/><circle cx="151.0" cy="95.1" r="1.73"/><circle cx="168.3" cy="78.4" r="1.73"/><circle cx="139.3" cy="89.3" r="1.73"/><circle cx="177.3" cy="65.6" r="1.73"/><circle cx="196.0" cy="21.2" r="1.73"/><circle cx="160.3" cy="104.6" r="1.73"/><circle cx="214.4" cy="11.5" r="1.73"/><circle cx="172.0" cy="76.4" r="1.73"/><circle cx="131.4" cy="99.4" r="1.73"/><circle cx="111.7" cy="104.1" r="1.73"/><circle cx="146.3" cy="76.0" r="1.73"/><circle cx="159.3" cy="85.0" r="1.73"/><circle cx="89.5" cy="129.4" r="1.73"/><circle cx="184.5" cy="66.9" r="1.73"/><circle cx="191.8" cy="72.0" r="1.73"/><circle cx="141.9" cy="89.4" r="1.73"/><circle cx="211.4" cy="11.5" r="1.73"/><circle cx="181.1" cy="51.8" r="1.73"/><circle cx="225.1" cy="51.8" r="1.73"/><circle cx="175.8" cy="81.4" r="1.73"/><circle cx="152.7" cy="111.5" r="1.73"/><circle cx="160.6" cy="80.4" r="1.73"/><circle cx="115.1" cy="81.9" r="1.73"/><circle cx="235.0" cy="21.2" r="1.73"/><circle cx="167.2" cy="81.1" r="1.73"/><circle cx="172.5" cy="92.3" r="1.73"/><circle cx="97.9" cy="128.8" r="1.73"/><circle cx="157.0" cy="86.3" r="1.73"/><circle cx="169.6" cy="76.3" r="1.73"/><circle cx="194.2" cy="82.8" r="1.73"/><circle cx="146.5" cy="82.4" r="1.73"/><circle cx="154.6" cy="78.0" r="1.73"/><circle cx="164.4" cy="71.5" r="1.73"/><circle cx="167.8" cy="78.5" r="1.73"/><circle cx="152.3" cy="88.8" r="1.73"/><circle cx="152.9" cy="84.8" r="1.73"/><circle cx="178.6" cy="76.7" r="1.73"/><circle cx="158.6" cy="95.3" r="1.73"/><circle cx="171.9" cy="76.4" r="1.73"/><circle cx="95.4" cy="119.7" r="1.73"/><circle cx="107.0" cy="126.7" r="1.73"/><circle cx="134.3" cy="88.8" r="1.73"/><circle cx="144.7" cy="97.1" r="1.73"/><circle cx="182.3" cy="100.3" r="1.73"/><circle cx="119.3" cy="115.9" r="1.73"/><circle cx="207.2" cy="32.4" r="1.73"/><circle cx="137.7" cy="90.3" r="1.73"/><circle cx="151.3" cy="97.2" r="1.73"/><circle cx="112.7" cy="116.6" r="1.73"/><circle cx="151.3" cy="76.3" r="1.73"/><circle cx="184.6" cy="83.4" r="1.73"/><circle cx="145.3" cy="111.5" r="1.73"/><circle cx="119.0" cy="99.9" r="1.73"/><circle cx="131.2" cy="104.5" r="1.73"/><circle cx="136.8" cy="102.4" r="1.73"/><circle cx="138.2" cy="71.5" r="1.73"/><circle cx="157.0" cy="128.2" r="1.73"/><circle cx="153.7" cy="89.8" r="1.73"/><circle cx="156.2" cy="95.4" r="1.73"/><circle cx="178.9" cy="46.9" r="1.73"/><circle cx="174.0" cy="89.0" r="1.73"/><circle cx="111.0" cy="43.2" r="1.73"/><circle cx="167.2" cy="86.8" r="1.73"/><circle cx="137.9" cy="81.1" r="1.73"/><circle cx="157.1" cy="92.7" r="1.73"/><circle cx="123.2" cy="76.5" r="1.73"/><circle cx="143.2" cy="100.6" r="1.73"/><circle cx="133.9" cy="102.2" r="1.73"/><circle cx="149.8" cy="88.8" r="1.73"/><circle cx="166.1" cy="57.7" r="1.73"/><circle cx="150.1" cy="66.7" r="1.73"/><circle cx="125.7" cy="120.0" r="1.73"/><circle cx="165.3" cy="58.0" r="1.73"/><circle cx="182.0" cy="85.3" r="1.73"/><circle cx="135.5" cy="101.9" r="1.73"/><circle cx="132.1" cy="95.4" r="1.73"/><circle cx="179.6" cy="95.3" r="1.73"/><circle cx="158.7" cy="62.6" r="1.73"/><circle cx="128.4" cy="108.3" r="1.73"/><circle cx="165.8" cy="82.7" r="1.73"/><circle cx="158.6" cy="91.5" r="1.73"/><circle cx="121.4" cy="119.9" r="1.73"/><circle cx="156.8" cy="87.0" r="1.73"/><circle cx="149.3" cy="69.0" r="1.73"/><circle cx="155.3" cy="102.1" r="1.73"/><circle cx="159.5" cy="86.5" r="1.73"/><circle cx="87.4" cy="119.7" r="1.73"/><circle cx="155.2" cy="93.2" r="1.73"/><circle cx="122.7" cy="73.5" r="1.73"/><circle cx="142.6" cy="85.2" r="1.73"/><circle cx="92.4" cy="46.1" r="1.73"/><circle cx="171.9" cy="84.8" r="1.73"/><circle cx="143.7" cy="66.2" r="1.73"/><circle cx="146.5" cy="94.8" r="1.73"/><circle cx="154.2" cy="100.6" r="1.73"/><circle cx="154.0" cy="86.8" r="1.73"/><circle cx="137.3" cy="111.1" r="1.73"/><circle cx="165.5" cy="91.2" r="1.73"/><circle cx="154.9" cy="57.8" r="1.73"/><circle cx="159.2" cy="77.4" r="1.73"/><circle cx="156.0" cy="108.5" r="1.73"/><circle cx="189.2" cy="37.1" r="1.73"/><circle cx="186.6" cy="78.4" r="1.73"/><circle cx="166.6" cy="91.5" r="1.73"/><circle cx="117.6" cy="91.2" r="1.73"/><circle cx="153.8" cy="80.9" r="1.73"/><circle cx="155.7" cy="84.6" r="1.73"/><circle cx="160.9" cy="71.3" r="1.73"/><circle cx="173.5" cy="69.2" r="1.73"/><circle cx="184.0" cy="43.4" r="1.73"/><circle cx="153.8" cy="51.3" r="1.73"/><circle cx="135.9" cy="91.3" r="1.73"/><circle cx="160.4" cy="101.6" r="1.73"/><circle cx="133.3" cy="95.1" r="1.73"/><circle cx="161.8" cy="74.3" r="1.73"/><circle cx="163.3" cy="84.5" r="1.73"/><circle cx="196.1" cy="39.6" r="1.73"/><circle cx="135.3" cy="73.0" r="1.73"/><circle cx="213.5" cy="36.0" r="1.73"/><circle cx="107.4" cy="117.4" r="1.73"/><circle cx="162.1" cy="93.6" r="1.73"/><circle cx="153.7" cy="74.1" r="1.73"/><circle cx="162.0" cy="101.6" r="1.73"/><circle cx="163.0" cy="104.3" r="1.73"/><circle cx="118.7" cy="95.7" r="1.73"/><circle cx="191.4" cy="92.3" r="1.73"/><circle cx="196.8" cy="17.7" r="1.73"/><circle cx="83.2" cy="126.5" r="1.73"/><circle cx="128.1" cy="110.8" r="1.73"/><circle cx="165.3" cy="82.9" r="1.73"/><circle cx="148.4" cy="88.3" r="1.73"/><circle cx="167.1" cy="51.3" r="1.73"/><circle cx="133.4" cy="127.7" r="1.73"/><circle cx="144.6" cy="104.1" r="1.73"/><circle cx="140.0" cy="66.6" r="1.73"/><circle cx="157.2" cy="83.2" r="1.73"/><circle cx="143.0" cy="93.7" r="1.73"/><circle cx="155.0" cy="81.2" r="1.73"/><circle cx="195.2" cy="17.7" r="1.73"/><circle cx="133.6" cy="109.0" r="1.73"/><circle cx="178.1" cy="91.3" r="1.73"/><circle cx="157.7" cy="83.0" r="1.73"/><circle cx="176.6" cy="57.6" r="1.73"/><circle cx="162.9" cy="107.6" r="1.73"/><circle cx="142.6" cy="110.8" r="1.73"/><circle cx="192.2" cy="66.1" r="1.73"/><circle cx="200.8" cy="63.4" r="1.73"/><circle cx="89.5" cy="83.7" r="1.73"/><circle cx="153.1" cy="88.9" r="1.73"/><circle cx="202.4" cy="66.8" r="1.73"/><circle cx="149.5" cy="100.2" r="1.73"/><circle cx="138.4" cy="97.3" r="1.73"/><circle cx="160.4" cy="91.4" r="1.73"/><circle cx="162.7" cy="86.7" r="1.73"/><circle cx="188.7" cy="80.9" r="1.73"/><circle cx="156.4" cy="103.9" r="1.73"/><circle cx="171.7" cy="73.5" r="1.73"/><circle cx="112.7" cy="91.6" r="1.73"/><circle cx="121.1" cy="96.2" r="1.73"/><circle cx="170.3" cy="68.6" r="1.73"/><circle cx="208.9" cy="21.2" r="1.73"/><circle cx="156.0" cy="68.9" r="1.73"/><circle cx="157.2" cy="78.3" r="1.73"/><circle cx="165.0" cy="80.4" r="1.73"/><circle cx="204.0" cy="44.0" r="1.73"/><circle cx="186.3" cy="67.1" r="1.73"/><circle cx="149.1" cy="69.1" r="1.73"/><circle cx="156.3" cy="105.6" r="1.73"/><circle cx="161.6" cy="82.7" r="1.73"/><circle cx="157.9" cy="72.5" r="1.73"/><circle cx="55.7" cy="82.6" r="1.73"/><circle cx="176.5" cy="91.6" r="1.73"/><circle cx="160.0" cy="60.3" r="1.73"/><circle cx="162.1" cy="54.2" r="1.73"/><circle cx="193.5" cy="87.8" r="1.73"/><circle cx="143.4" cy="103.7" r="1.73"/><circle cx="153.3" cy="57.4" r="1.73"/><circle cx="180.2" cy="39.3" r="1.73"/><circle cx="169.0" cy="93.3" r="1.73"/><circle cx="168.1" cy="82.4" r="1.73"/><circle cx="153.4" cy="71.5" r="1.73"/><circle cx="172.9" cy="104.1" r="1.73"/><circle cx="151.5" cy="85.1" r="1.73"/><circle cx="173.3" cy="57.9" r="1.73"/><circle cx="172.4" cy="110.9" r="1.73"/><circle cx="116.1" cy="97.2" r="1.73"/><circle cx="148.2" cy="74.3" r="1.73"/><circle cx="161.7" cy="104.0" r="1.73"/><circle cx="211.4" cy="56.7" r="1.73"/><circle cx="160.6" cy="44.4" r="1.73"/><circle cx="156.7" cy="85.8" r="1.73"/><circle cx="209.3" cy="57.6" r="1.73"/><circle cx="140.1" cy="54.8" r="1.73"/><circle cx="166.9" cy="39.3" r="1.73"/><circle cx="152.5" cy="116.9" r="1.73"/><circle cx="134.6" cy="79.4" r="1.73"/><circle cx="92.4" cy="129.4" r="1.73"/><circle cx="165.0" cy="43.4" r="1.73"/><circle cx="161.6" cy="73.9" r="1.73"/><circle cx="146.3" cy="84.7" r="1.73"/><circle cx="122.8" cy="64.7" r="1.73"/><circle cx="154.6" cy="109.0" r="1.73"/><circle cx="154.3" cy="98.7" r="1.73"/><circle cx="143.0" cy="78.0" r="1.73"/><circle cx="137.5" cy="112.0" r="1.73"/><circle cx="121.4" cy="95.1" r="1.73"/><circle cx="223.0" cy="36.0" r="1.73"/><circle cx="118.6" cy="108.1" r="1.73"/><circle cx="198.8" cy="46.5" r="1.73"/><circle cx="199.2" cy="88.1" r="1.73"/><circle cx="150.0" cy="77.4" r="1.73"/><circle cx="202.1" cy="60.5" r="1.73"/><circle cx="198.1" cy="77.4" r="1.73"/><circle cx="152.0" cy="91.4" r="1.73"/><circle cx="116.4" cy="103.7" r="1.73"/><circle cx="131.1" cy="116.9" r="1.73"/><circle cx="185.7" cy="63.4" r="1.73"/><circle cx="157.2" cy="103.1" r="1.73"/><circle cx="184.8" cy="54.5" r="1.73"/><circle cx="118.5" cy="108.5" r="1.73"/><circle cx="193.3" cy="78.9" r="1.73"/><circle cx="149.3" cy="50.7" r="1.73"/><circle cx="143.3" cy="103.7" r="1.73"/><circle cx="161.4" cy="84.6" r="1.73"/><circle cx="131.7" cy="102.2" r="1.73"/><circle cx="134.2" cy="108.6" r="1.73"/>
</g>
<path class="ax" d="M29.5 4.6V159.5H262.0M55.00 159.5v2M88.88 159.5v2M122.76 159.5v2M156.64 159.5v2M190.52 159.5v2M224.40 159.5v2M258.28 159.5v2M29.5 150.50h-2M29.5 125.82h-2M29.5 101.14h-2M29.5 76.46h-2M29.5 51.78h-2M29.5 27.10h-2"/>
<g class="tk">
<text x="55.0" y="168.8" text-anchor="middle">1100</text>
<text x="88.9" y="168.8" text-anchor="middle">1200</text>
<text x="122.8" y="168.8" text-anchor="middle">1300</text>
<text x="156.6" y="168.8" text-anchor="middle">1400</text>
<text x="190.5" y="168.8" text-anchor="middle">1500</text>
<text x="224.4" y="168.8" text-anchor="middle">1600</text>
<text x="258.3" y="168.8" text-anchor="middle">1700</text>
<text x="24.2" y="152.6" text-anchor="end">300</text>
<text x="24.2" y="127.9" text-anchor="end">350</text>
<text x="24.2" y="103.2" text-anchor="end">400</text>
<text x="24.2" y="78.6" text-anchor="end">450</text>
<text x="24.2" y="53.9" text-anchor="end">500</text>
<text x="24.2" y="29.2" text-anchor="end">550</text>
<text class="lb" x="145.2" y="176.8" text-anchor="middle">Body length (mm)</text>
<text class="lb" transform="translate(8.7 82.0) rotate(-90)" text-anchor="middle">Weight (kg)</text>
</g>
<text class="r" x="58.5" y="13.2">R = 0.632</text>
<text class="cap" x="136.3" y="194.1" text-anchor="middle" letter-spacing="0">(<tspan font-weight="bold">a</tspan>)</text>
</g>
<g class="pl" id="plot-b">
<g class="pt">
<circle cx="381.1" cy="84.0" r="1.73"/><circle cx="453.1" cy="73.3" r="1.73"/><circle cx="444.4" cy="75.9" r="1.73"/><circle cx="421.6" cy="91.4" r="1.73"/><circle cx="460.8" cy="19.6" r="1.73"/><circle cx="413.2" cy="86.6" r="1.73"/><circle cx="412.6" cy="88.4" r="1.73"/><circle cx="393.1" cy="85.0" r="1.73"/><circle cx="396.8" cy="112.1" r="1.73"/><circle cx="446.5" cy="74.8" r="1.73"/><circle cx="391.2" cy="84.4" r="1.73"/><circle cx="432.3" cy="44.4" r="1.73"/><circle cx="384.8" cy="75.7" r="1.73"/><circle cx="499.6" cy="57.7" r="1.73"/><circle cx="374.2" cy="107.0" r="1.73"/><circle cx="380.5" cy="119.3" r="1.73"/><circle cx="416.8" cy="113.9" r="1.73"/><circle cx="428.0" cy="52.4" r="1.73"/><circle cx="456.7" cy="82.5" r="1.73"/><circle cx="448.8" cy="84.3" r="1.73"/><circle cx="383.7" cy="80.1" r="1.73"/><circle cx="391.7" cy="118.3" r="1.73"/><circle cx="367.7" cy="115.8" r="1.73"/><circle cx="430.1" cy="88.2" r="1.73"/><circle cx="418.4" cy="112.5" r="1.73"/><circle cx="394.9" cy="73.0" r="1.73"/><circle cx="388.6" cy="97.1" r="1.73"/><circle cx="389.1" cy="97.2" r="1.73"/><circle cx="400.5" cy="63.1" r="1.73"/><circle cx="406.5" cy="98.7" r="1.73"/><circle cx="438.0" cy="103.6" r="1.73"/><circle cx="414.2" cy="75.8" r="1.73"/><circle cx="400.6" cy="64.5" r="1.73"/><circle cx="391.3" cy="69.4" r="1.73"/><circle cx="434.0" cy="96.6" r="1.73"/><circle cx="419.5" cy="110.1" r="1.73"/><circle cx="434.4" cy="70.8" r="1.73"/><circle cx="437.0" cy="84.3" r="1.73"/><circle cx="409.3" cy="72.8" r="1.73"/><circle cx="354.1" cy="97.2" r="1.73"/><circle cx="408.8" cy="90.2" r="1.73"/><circle cx="456.8" cy="65.4" r="1.73"/><circle cx="414.3" cy="84.5" r="1.73"/><circle cx="422.7" cy="88.4" r="1.73"/><circle cx="458.9" cy="53.3" r="1.73"/><circle cx="471.8" cy="84.7" r="1.73"/><circle cx="382.1" cy="153.5" r="1.73"/><circle cx="458.7" cy="68.4" r="1.73"/><circle cx="415.2" cy="55.2" r="1.73"/><circle cx="438.7" cy="97.1" r="1.73"/><circle cx="456.2" cy="92.6" r="1.73"/><circle cx="426.9" cy="23.6" r="1.73"/><circle cx="422.6" cy="86.5" r="1.73"/><circle cx="426.8" cy="90.4" r="1.73"/><circle cx="346.1" cy="108.1" r="1.73"/><circle cx="460.2" cy="60.0" r="1.73"/><circle cx="446.1" cy="68.4" r="1.73"/><circle cx="450.6" cy="88.5" r="1.73"/><circle cx="428.0" cy="41.7" r="1.73"/><circle cx="411.6" cy="86.7" r="1.73"/><circle cx="422.3" cy="52.8" r="1.73"/><circle cx="383.4" cy="96.5" r="1.73"/><circle cx="416.6" cy="92.7" r="1.73"/><circle cx="383.2" cy="85.5" r="1.73"/><circle cx="396.9" cy="90.4" r="1.73"/><circle cx="424.3" cy="112.4" r="1.73"/><circle cx="381.0" cy="106.5" r="1.73"/><circle cx="482.3" cy="53.5" r="1.73"/><circle cx="443.1" cy="113.6" r="1.73"/><circle cx="393.9" cy="76.2" r="1.73"/><circle cx="425.8" cy="126.7" r="1.73"/><circle cx="440.5" cy="62.5" r="1.73"/><circle cx="413.8" cy="80.4" r="1.73"/><circle cx="422.2" cy="59.6" r="1.73"/><circle cx="425.2" cy="93.1" r="1.73"/><circle cx="411.6" cy="73.3" r="1.73"/><circle cx="386.6" cy="64.5" r="1.73"/><circle cx="373.6" cy="111.4" r="1.73"/><circle cx="413.9" cy="86.1" r="1.73"/><circle cx="406.5" cy="83.6" r="1.73"/><circle cx="383.8" cy="98.8" r="1.73"/><circle cx="427.5" cy="65.5" r="1.73"/><circle cx="425.8" cy="69.4" r="1.73"/><circle cx="461.6" cy="30.3" r="1.73"/><circle cx="411.7" cy="92.8" r="1.73"/><circle cx="416.5" cy="98.6" r="1.73"/><circle cx="415.3" cy="102.1" r="1.73"/><circle cx="476.0" cy="45.1" r="1.73"/><circle cx="404.9" cy="75.8" r="1.73"/><circle cx="368.8" cy="121.2" r="1.73"/><circle cx="400.5" cy="76.1" r="1.73"/><circle cx="408.3" cy="65.5" r="1.73"/><circle cx="447.5" cy="82.2" r="1.73"/><circle cx="375.2" cy="120.8" r="1.73"/><circle cx="412.0" cy="121.4" r="1.73"/><circle cx="425.0" cy="104.1" r="1.73"/><circle cx="414.1" cy="78.2" r="1.73"/><circle cx="417.8" cy="103.3" r="1.73"/><circle cx="535.5" cy="64.5" r="1.73"/><circle cx="419.5" cy="129.4" r="1.73"/><circle cx="400.6" cy="97.2" r="1.73"/><circle cx="391.5" cy="73.5" r="1.73"/><circle cx="445.8" cy="23.6" r="1.73"/><circle cx="430.2" cy="115.3" r="1.73"/><circle cx="379.0" cy="86.6" r="1.73"/><circle cx="444.4" cy="56.3" r="1.73"/><circle cx="409.2" cy="72.3" r="1.73"/><circle cx="445.9" cy="78.4" r="1.73"/><circle cx="399.7" cy="44.7" r="1.73"/><circle cx="436.5" cy="56.1" r="1.73"/><circle cx="445.9" cy="92.4" r="1.73"/><circle cx="414.6" cy="97.7" r="1.73"/><circle cx="434.2" cy="117.3" r="1.73"/><circle cx="351.6" cy="102.4" r="1.73"/><circle cx="422.7" cy="105.5" r="1.73"/><circle cx="442.4" cy="82.4" r="1.73"/><circle cx="457.0" cy="23.6" r="1.73"/><circle cx="443.7" cy="100.7" r="1.73"/><circle cx="458.4" cy="68.8" r="1.73"/><circle cx="378.9" cy="98.9" r="1.73"/><circle cx="454.8" cy="47.9" r="1.73"/><circle cx="426.3" cy="98.1" r="1.73"/><circle cx="426.8" cy="67.9" r="1.73"/><circle cx="443.1" cy="82.4" r="1.73"/><circle cx="428.6" cy="82.3" r="1.73"/><circle cx="385.8" cy="101.0" r="1.73"/><circle cx="358.3" cy="129.4" r="1.73"/><circle cx="389.3" cy="126.7" r="1.73"/><circle cx="431.4" cy="84.4" r="1.73"/><circle cx="428.2" cy="90.3" r="1.73"/><circle cx="386.9" cy="103.6" r="1.73"/><circle cx="447.9" cy="38.8" r="1.73"/><circle cx="418.8" cy="44.5" r="1.73"/><circle cx="428.1" cy="103.8" r="1.73"/><circle cx="445.6" cy="104.1" r="1.73"/><circle cx="409.5" cy="70.9" r="1.73"/><circle cx="369.3" cy="84.7" r="1.73"/><circle cx="435.4" cy="105.1" r="1.73"/><circle cx="420.5" cy="68.6" r="1.73"/><circle cx="463.5" cy="56.3" r="1.73"/><circle cx="437.1" cy="86.0" r="1.73"/><circle cx="336.8" cy="129.4" r="1.73"/><circle cx="423.9" cy="98.6" r="1.73"/><circle cx="385.8" cy="85.0" r="1.73"/><circle cx="460.1" cy="67.9" r="1.73"/><circle cx="450.0" cy="65.0" r="1.73"/><circle cx="405.8" cy="94.8" r="1.73"/><circle cx="448.2" cy="72.3" r="1.73"/><circle cx="474.7" cy="59.2" r="1.73"/><circle cx="452.8" cy="101.3" r="1.73"/><circle cx="406.0" cy="104.0" r="1.73"/><circle cx="385.1" cy="105.9" r="1.73"/><circle cx="429.8" cy="82.7" r="1.73"/><circle cx="411.7" cy="39.4" r="1.73"/><circle cx="431.8" cy="117.3" r="1.73"/><circle cx="383.8" cy="99.0" r="1.73"/><circle cx="406.0" cy="19.6" r="1.73"/><circle cx="384.1" cy="66.4" r="1.73"/><circle cx="412.0" cy="106.0" r="1.73"/><circle cx="382.0" cy="88.8" r="1.73"/><circle cx="423.1" cy="82.4" r="1.73"/><circle cx="394.2" cy="74.8" r="1.73"/><circle cx="398.2" cy="96.6" r="1.73"/><circle cx="413.5" cy="86.4" r="1.73"/><circle cx="428.3" cy="88.9" r="1.73"/><circle cx="430.7" cy="84.5" r="1.73"/><circle cx="429.7" cy="80.6" r="1.73"/><circle cx="430.9" cy="122.2" r="1.73"/><circle cx="471.1" cy="43.0" r="1.73"/><circle cx="416.1" cy="105.6" r="1.73"/><circle cx="424.6" cy="105.5" r="1.73"/><circle cx="392.4" cy="95.3" r="1.73"/><circle cx="449.8" cy="53.1" r="1.73"/><circle cx="414.8" cy="44.7" r="1.73"/><circle cx="386.3" cy="94.6" r="1.73"/><circle cx="438.8" cy="91.9" r="1.73"/><circle cx="441.0" cy="54.2" r="1.73"/><circle cx="487.0" cy="77.2" r="1.73"/><circle cx="429.8" cy="73.3" r="1.73"/><circle cx="433.4" cy="82.6" r="1.73"/><circle cx="409.7" cy="62.2" r="1.73"/><circle cx="399.3" cy="91.4" r="1.73"/><circle cx="452.1" cy="84.7" r="1.73"/><circle cx="415.6" cy="101.1" r="1.73"/><circle cx="412.5" cy="74.8" r="1.73"/><circle cx="402.6" cy="44.7" r="1.73"/><circle cx="375.7" cy="82.3" r="1.73"/><circle cx="457.7" cy="101.6" r="1.73"/><circle cx="439.2" cy="78.7" r="1.73"/><circle cx="483.2" cy="82.0" r="1.73"/><circle cx="413.1" cy="65.4" r="1.73"/><circle cx="400.7" cy="105.1" r="1.73"/><circle cx="387.4" cy="130.3" r="1.73"/><circle cx="417.6" cy="101.5" r="1.73"/><circle cx="427.6" cy="71.0" r="1.73"/><circle cx="409.0" cy="79.6" r="1.73"/><circle cx="412.7" cy="63.0" r="1.73"/><circle cx="435.4" cy="78.7" r="1.73"/><circle cx="458.5" cy="24.4" r="1.73"/><circle cx="426.1" cy="65.5" r="1.73"/><circle cx="389.5" cy="96.6" r="1.73"/><circle cx="422.3" cy="84.7" r="1.73"/><circle cx="406.2" cy="82.6" r="1.73"/><circle cx="425.7" cy="71.0" r="1.73"/><circle cx="408.5" cy="62.4" r="1.73"/><circle cx="455.3" cy="48.2" r="1.73"/><circle cx="416.4" cy="66.0" r="1.73"/><circle cx="393.6" cy="110.0" r="1.73"/><circle cx="428.4" cy="75.4" r="1.73"/><circle cx="422.9" cy="68.6" r="1.73"/><circle cx="473.2" cy="48.2" r="1.73"/><circle cx="415.9" cy="73.2" r="1.73"/><circle cx="406.8" cy="53.5" r="1.73"/><circle cx="415.2" cy="90.4" r="1.73"/><circle cx="442.7" cy="38.8" r="1.73"/><circle cx="431.5" cy="99.1" r="1.73"/><circle cx="402.2" cy="82.5" r="1.73"/><circle cx="432.5" cy="119.2" r="1.73"/><circle cx="460.5" cy="72.8" r="1.73"/><circle cx="429.9" cy="56.1" r="1.73"/><circle cx="425.6" cy="92.8" r="1.73"/><circle cx="428.6" cy="55.2" r="1.73"/><circle cx="418.7" cy="108.0" r="1.73"/><circle cx="347.3" cy="128.2" r="1.73"/><circle cx="403.6" cy="81.1" r="1.73"/><circle cx="443.0" cy="82.7" r="1.73"/><circle cx="380.8" cy="103.2" r="1.73"/><circle cx="427.8" cy="91.9" r="1.73"/><circle cx="443.4" cy="79.2" r="1.73"/><circle cx="407.9" cy="130.3" r="1.73"/><circle cx="479.6" cy="64.7" r="1.73"/><circle cx="405.5" cy="53.7" r="1.73"/><circle cx="497.1" cy="66.8" r="1.73"/><circle cx="430.1" cy="86.4" r="1.73"/><circle cx="390.2" cy="96.9" r="1.73"/><circle cx="435.5" cy="96.6" r="1.73"/><circle cx="423.9" cy="84.6" r="1.73"/><circle cx="422.1" cy="89.4" r="1.73"/><circle cx="430.3" cy="77.7" r="1.73"/><circle cx="372.6" cy="94.5" r="1.73"/><circle cx="441.9" cy="62.5" r="1.73"/><circle cx="402.2" cy="62.3" r="1.73"/><circle cx="428.4" cy="92.9" r="1.73"/><circle cx="462.3" cy="39.6" r="1.73"/><circle cx="401.8" cy="105.6" r="1.73"/><circle cx="435.2" cy="103.1" r="1.73"/><circle cx="420.5" cy="80.3" r="1.73"/><circle cx="411.7" cy="66.4" r="1.73"/><circle cx="419.6" cy="104.2" r="1.73"/><circle cx="433.5" cy="80.1" r="1.73"/><circle cx="444.9" cy="78.2" r="1.73"/><circle cx="418.3" cy="96.7" r="1.73"/><circle cx="450.0" cy="99.2" r="1.73"/><circle cx="476.8" cy="54.6" r="1.73"/><circle cx="518.2" cy="53.1" r="1.73"/><circle cx="435.4" cy="79.9" r="1.73"/><circle cx="432.1" cy="67.4" r="1.73"/><circle cx="410.3" cy="98.4" r="1.73"/><circle cx="415.6" cy="92.4" r="1.73"/><circle cx="431.1" cy="24.0" r="1.73"/><circle cx="429.0" cy="23.6" r="1.73"/><circle cx="401.6" cy="60.9" r="1.73"/><circle cx="440.8" cy="84.7" r="1.73"/><circle cx="415.4" cy="83.1" r="1.73"/><circle cx="418.0" cy="97.7" r="1.73"/><circle cx="379.0" cy="94.3" r="1.73"/><circle cx="405.8" cy="91.4" r="1.73"/><circle cx="412.0" cy="98.2" r="1.73"/><circle cx="448.7" cy="52.5" r="1.73"/><circle cx="404.8" cy="69.9" r="1.73"/><circle cx="397.2" cy="97.1" r="1.73"/><circle cx="482.3" cy="83.4" r="1.73"/><circle cx="399.3" cy="109.8" r="1.73"/><circle cx="418.7" cy="100.2" r="1.73"/><circle cx="435.6" cy="86.3" r="1.73"/><circle cx="377.9" cy="96.7" r="1.73"/><circle cx="425.1" cy="90.7" r="1.73"/><circle cx="418.1" cy="68.4" r="1.73"/><circle cx="401.4" cy="93.8" r="1.73"/><circle cx="451.3" cy="100.9" r="1.73"/><circle cx="434.9" cy="68.3" r="1.73"/><circle cx="376.3" cy="101.5" r="1.73"/><circle cx="389.9" cy="96.8" r="1.73"/><circle cx="373.1" cy="80.1" r="1.73"/><circle cx="395.3" cy="103.3" r="1.73"/><circle cx="432.6" cy="62.5" r="1.73"/><circle cx="399.8" cy="75.2" r="1.73"/><circle cx="452.4" cy="84.6" r="1.73"/><circle cx="364.4" cy="112.7" r="1.73"/><circle cx="424.9" cy="58.1" r="1.73"/><circle cx="437.3" cy="70.8" r="1.73"/><circle cx="410.2" cy="95.0" r="1.73"/><circle cx="363.3" cy="105.6" r="1.73"/><circle cx="438.3" cy="88.2" r="1.73"/><circle cx="397.0" cy="109.9" r="1.73"/><circle cx="384.7" cy="105.4" r="1.73"/><circle cx="431.7" cy="95.8" r="1.73"/><circle cx="379.5" cy="90.4" r="1.73"/><circle cx="444.6" cy="77.7" r="1.73"/><circle cx="400.7" cy="80.1" r="1.73"/><circle cx="392.6" cy="69.9" r="1.73"/><circle cx="391.7" cy="92.8" r="1.73"/><circle cx="423.5" cy="117.3" r="1.73"/><circle cx="384.3" cy="118.6" r="1.73"/><circle cx="405.2" cy="121.7" r="1.73"/><circle cx="413.0" cy="62.3" r="1.73"/><circle cx="388.6" cy="89.9" r="1.73"/><circle cx="424.1" cy="112.4" r="1.73"/><circle cx="411.9" cy="103.1" r="1.73"/><circle cx="421.2" cy="109.5" r="1.73"/><circle cx="403.7" cy="90.2" r="1.73"/><circle cx="409.7" cy="101.2" r="1.73"/><circle cx="397.9" cy="89.0" r="1.73"/><circle cx="405.9" cy="114.9" r="1.73"/><circle cx="404.4" cy="97.2" r="1.73"/><circle cx="420.7" cy="78.1" r="1.73"/><circle cx="408.8" cy="88.7" r="1.73"/><circle cx="436.4" cy="79.8" r="1.73"/><circle cx="381.6" cy="78.2" r="1.73"/><circle cx="366.4" cy="90.7" r="1.73"/><circle cx="414.8" cy="112.6" r="1.73"/><circle cx="396.7" cy="44.7" r="1.73"/><circle cx="492.7" cy="55.0" r="1.73"/><circle cx="415.5" cy="93.3" r="1.73"/><circle cx="420.9" cy="81.1" r="1.73"/><circle cx="402.5" cy="58.6" r="1.73"/><circle cx="380.2" cy="86.3" r="1.73"/><circle cx="407.5" cy="119.7" r="1.73"/><circle cx="449.5" cy="22.5" r="1.73"/><circle cx="418.2" cy="118.4" r="1.73"/><circle cx="399.9" cy="84.5" r="1.73"/><circle cx="393.3" cy="60.9" r="1.73"/><circle cx="363.0" cy="112.3" r="1.73"/><circle cx="393.8" cy="115.3" r="1.73"/><circle cx="429.6" cy="131.5" r="1.73"/><circle cx="465.4" cy="113.6" r="1.73"/><circle cx="446.8" cy="82.1" r="1.73"/><circle cx="480.6" cy="46.1" r="1.73"/><circle cx="445.0" cy="94.7" r="1.73"/><circle cx="446.9" cy="45.1" r="1.73"/><circle cx="440.7" cy="100.9" r="1.73"/><circle cx="404.5" cy="78.3" r="1.73"/><circle cx="396.5" cy="65.3" r="1.73"/><circle cx="456.0" cy="87.5" r="1.73"/><circle cx="431.1" cy="96.3" r="1.73"/><circle cx="453.9" cy="83.6" r="1.73"/><circle cx="455.3" cy="86.1" r="1.73"/><circle cx="437.9" cy="70.7" r="1.73"/><circle cx="401.0" cy="77.2" r="1.73"/><circle cx="381.3" cy="97.0" r="1.73"/><circle cx="385.7" cy="97.7" r="1.73"/><circle cx="444.7" cy="111.9" r="1.73"/><circle cx="432.5" cy="110.2" r="1.73"/><circle cx="441.7" cy="79.9" r="1.73"/><circle cx="398.5" cy="90.5" r="1.73"/><circle cx="341.8" cy="89.4" r="1.73"/><circle cx="351.6" cy="99.9" r="1.73"/><circle cx="431.4" cy="96.7" r="1.73"/><circle cx="427.1" cy="48.2" r="1.73"/><circle cx="433.8" cy="19.6" r="1.73"/><circle cx="370.1" cy="111.4" r="1.73"/><circle cx="399.5" cy="107.7" r="1.73"/><circle cx="411.3" cy="88.5" r="1.73"/><circle cx="407.5" cy="98.5" r="1.73"/><circle cx="465.2" cy="79.9" r="1.73"/><circle cx="421.9" cy="79.9" r="1.73"/><circle cx="352.0" cy="92.9" r="1.73"/><circle cx="375.6" cy="84.5" r="1.73"/><circle cx="394.3" cy="78.3" r="1.73"/><circle cx="383.9" cy="99.0" r="1.73"/><circle cx="398.5" cy="88.6" r="1.73"/><circle cx="448.7" cy="59.8" r="1.73"/><circle cx="397.0" cy="106.0" r="1.73"/><circle cx="440.2" cy="94.3" r="1.73"/><circle cx="377.3" cy="119.3" r="1.73"/><circle cx="324.1" cy="126.3" r="1.73"/><circle cx="383.8" cy="107.0" r="1.73"/><circle cx="404.8" cy="78.7" r="1.73"/><circle cx="392.7" cy="75.7" r="1.73"/><circle cx="456.7" cy="80.1" r="1.73"/><circle cx="439.8" cy="110.1" r="1.73"/><circle cx="382.1" cy="105.3" r="1.73"/><circle cx="415.8" cy="88.3" r="1.73"/><circle cx="395.7" cy="105.6" r="1.73"/><circle cx="372.6" cy="120.8" r="1.73"/><circle cx="382.0" cy="108.3" r="1.73"/><circle cx="433.4" cy="56.7" r="1.73"/><circle cx="436.4" cy="73.6" r="1.73"/><circle cx="421.9" cy="98.2" r="1.73"/><circle cx="432.8" cy="112.5" r="1.73"/><circle cx="440.7" cy="100.2" r="1.73"/><circle cx="403.5" cy="88.4" r="1.73"/><circle cx="365.3" cy="116.8" r="1.73"/><circle cx="426.6" cy="94.8" r="1.73"/><circle cx="405.8" cy="98.5" r="1.73"/><circle cx="464.9" cy="48.6" r="1.73"/><circle cx="436.3" cy="115.1" r="1.73"/><circle cx="381.5" cy="129.4" r="1.73"/><circle cx="376.9" cy="89.9" r="1.73"/><circle cx="455.9" cy="48.9" r="1.73"/><circle cx="449.7" cy="70.5" r="1.73"/><circle cx="418.1" cy="90.0" r="1.73"/><circle cx="457.2" cy="59.1" r="1.73"/><circle cx="449.7" cy="65.7" r="1.73"/><circle cx="444.7" cy="101.6" r="1.73"/><circle cx="438.5" cy="85.5" r="1.73"/><circle cx="396.0" cy="102.6" r="1.73"/><circle cx="425.0" cy="65.5" r="1.73"/><circle cx="377.0" cy="121.4" r="1.73"/><circle cx="394.0" cy="80.6" r="1.73"/><circle cx="401.2" cy="101.0" r="1.73"/><circle cx="404.5" cy="88.6" r="1.73"/><circle cx="451.5" cy="105.6" r="1.73"/><circle cx="423.0" cy="95.8" r="1.73"/><circle cx="488.0" cy="66.8" r="1.73"/><circle cx="424.7" cy="93.8" r="1.73"/><circle cx="369.9" cy="120.8" r="1.73"/><circle cx="426.7" cy="92.4" r="1.73"/><circle cx="502.4" cy="24.4" r="1.73"/><circle cx="400.9" cy="32.6" r="1.73"/><circle cx="414.9" cy="109.0" r="1.73"/><circle cx="400.4" cy="86.2" r="1.73"/><circle cx="380.8" cy="105.7" r="1.73"/><circle cx="438.0" cy="119.7" r="1.73"/><circle cx="436.5" cy="103.5" r="1.73"/><circle cx="416.1" cy="66.9" r="1.73"/><circle cx="423.9" cy="62.2" r="1.73"/><circle cx="418.5" cy="70.4" r="1.73"/><circle cx="427.2" cy="96.7" r="1.73"/><circle cx="365.4" cy="103.8" r="1.73"/><circle cx="463.8" cy="50.4" r="1.73"/><circle cx="383.4" cy="101.3" r="1.73"/><circle cx="380.9" cy="86.5" r="1.73"/><circle cx="401.9" cy="86.5" r="1.73"/><circle cx="463.4" cy="56.3" r="1.73"/><circle cx="436.9" cy="84.0" r="1.73"/><circle cx="376.2" cy="88.6" r="1.73"/><circle cx="401.0" cy="83.6" r="1.73"/><circle cx="387.5" cy="120.9" r="1.73"/><circle cx="431.7" cy="132.0" r="1.73"/><circle cx="450.1" cy="85.5" r="1.73"/><circle cx="414.6" cy="44.9" r="1.73"/><circle cx="424.3" cy="91.4" r="1.73"/><circle cx="399.5" cy="75.9" r="1.73"/><circle cx="409.3" cy="100.7" r="1.73"/><circle cx="407.3" cy="118.8" r="1.73"/><circle cx="437.9" cy="103.6" r="1.73"/><circle cx="397.5" cy="117.9" r="1.73"/><circle cx="392.9" cy="90.8" r="1.73"/><circle cx="436.9" cy="108.2" r="1.73"/><circle cx="348.8" cy="96.1" r="1.73"/><circle cx="443.1" cy="126.7" r="1.73"/><circle cx="439.8" cy="79.2" r="1.73"/><circle cx="403.7" cy="88.5" r="1.73"/><circle cx="424.4" cy="83.6" r="1.73"/><circle cx="372.4" cy="146.1" r="1.73"/><circle cx="372.0" cy="115.3" r="1.73"/><circle cx="399.8" cy="116.3" r="1.73"/><circle cx="400.9" cy="105.6" r="1.73"/><circle cx="380.4" cy="78.7" r="1.73"/><circle cx="455.3" cy="43.0" r="1.73"/><circle cx="415.7" cy="46.9" r="1.73"/><circle cx="398.2" cy="103.4" r="1.73"/><circle cx="377.2" cy="105.1" r="1.73"/><circle cx="431.1" cy="29.9" r="1.73"/><circle cx="414.6" cy="96.3" r="1.73"/><circle cx="408.9" cy="75.7" r="1.73"/><circle cx="416.8" cy="59.2" r="1.73"/><circle cx="487.4" cy="84.7" r="1.73"/><circle cx="393.8" cy="52.7" r="1.73"/><circle cx="417.1" cy="68.9" r="1.73"/><circle cx="364.6" cy="128.8" r="1.73"/><circle cx="393.7" cy="100.2" r="1.73"/><circle cx="465.1" cy="63.0" r="1.73"/><circle cx="349.9" cy="120.8" r="1.73"/><circle cx="461.7" cy="60.6" r="1.73"/><circle cx="403.9" cy="68.5" r="1.73"/><circle cx="445.6" cy="66.4" r="1.73"/><circle cx="406.0" cy="85.5" r="1.73"/><circle cx="437.9" cy="118.5" r="1.73"/><circle cx="392.0" cy="101.0" r="1.73"/><circle cx="369.3" cy="118.5" r="1.73"/><circle cx="493.3" cy="44.5" r="1.73"/><circle cx="414.1" cy="91.4" r="1.73"/><circle cx="448.7" cy="100.2" r="1.73"/><circle cx="477.5" cy="67.2" r="1.73"/><circle cx="413.3" cy="45.0" r="1.73"/><circle cx="447.1" cy="82.5" r="1.73"/><circle cx="405.1" cy="99.7" r="1.73"/><circle cx="372.6" cy="95.3" r="1.73"/><circle cx="420.0" cy="82.4" r="1.73"/><circle cx="380.8" cy="108.1" r="1.73"/><circle cx="407.3" cy="94.7" r="1.73"/><circle cx="394.2" cy="90.6" r="1.73"/><circle cx="472.2" cy="98.2" r="1.73"/><circle cx="396.2" cy="90.1" r="1.73"/><circle cx="398.2" cy="83.1" r="1.73"/><circle cx="449.0" cy="45.1" r="1.73"/><circle cx="442.3" cy="68.6" r="1.73"/><circle cx="448.7" cy="86.6" r="1.73"/><circle cx="420.6" cy="102.6" r="1.73"/><circle cx="415.3" cy="42.0" r="1.73"/><circle cx="421.7" cy="94.9" r="1.73"/><circle cx="446.1" cy="78.3" r="1.73"/><circle cx="445.4" cy="68.4" r="1.73"/><circle cx="394.1" cy="93.8" r="1.73"/><circle cx="435.3" cy="34.1" r="1.73"/><circle cx="412.9" cy="121.4" r="1.73"/><circle cx="441.8" cy="86.6" r="1.73"/><circle cx="402.6" cy="88.5" r="1.73"/><circle cx="414.5" cy="89.9" r="1.73"/><circle cx="390.0" cy="121.7" r="1.73"/><circle cx="430.6" cy="74.8" r="1.73"/><circle cx="426.4" cy="68.5" r="1.73"/><circle cx="385.4" cy="101.0" r="1.73"/><circle cx="387.0" cy="104.1" r="1.73"/><circle cx="452.7" cy="93.8" r="1.73"/><circle cx="462.5" cy="72.3" r="1.73"/><circle cx="460.3" cy="25.4" r="1.73"/><circle cx="398.4" cy="58.8" r="1.73"/><circle cx="386.1" cy="64.5" r="1.73"/><circle cx="421.8" cy="101.4" r="1.73"/><circle cx="454.9" cy="80.7" r="1.73"/><circle cx="443.7" cy="88.8" r="1.73"/><circle cx="418.5" cy="92.8" r="1.73"/><circle cx="440.5" cy="113.6" r="1.73"/><circle cx="426.2" cy="61.1" r="1.73"/><circle cx="392.7" cy="105.1" r="1.73"/><circle cx="420.7" cy="88.3" r="1.73"/><circle cx="342.5" cy="120.8" r="1.73"/><circle cx="410.5" cy="68.1" r="1.73"/><circle cx="403.3" cy="100.2" r="1.73"/><circle cx="382.6" cy="73.3" r="1.73"/><circle cx="428.6" cy="85.5" r="1.73"/><circle cx="384.5" cy="113.9" r="1.73"/><circle cx="425.5" cy="89.9" r="1.73"/><circle cx="382.8" cy="112.7" r="1.73"/><circle cx="445.2" cy="38.8" r="1.73"/><circle cx="441.5" cy="88.2" r="1.73"/><circle cx="418.4" cy="84.0" r="1.73"/><circle cx="429.4" cy="121.2" r="1.73"/><circle cx="425.3" cy="73.8" r="1.73"/><circle cx="374.1" cy="77.8" r="1.73"/><circle cx="396.8" cy="92.4" r="1.73"/><circle cx="331.9" cy="141.0" r="1.73"/><circle cx="430.4" cy="112.8" r="1.73"/><circle cx="437.9" cy="105.5" r="1.73"/><circle cx="394.6" cy="108.4" r="1.73"/><circle cx="415.8" cy="82.6" r="1.73"/><circle cx="393.7" cy="81.6" r="1.73"/><circle cx="437.6" cy="82.7" r="1.73"/><circle cx="431.4" cy="84.5" r="1.73"/><circle cx="405.8" cy="129.4" r="1.73"/><circle cx="462.7" cy="48.2" r="1.73"/><circle cx="434.5" cy="80.1" r="1.73"/><circle cx="458.1" cy="30.3" r="1.73"/><circle cx="386.8" cy="115.4" r="1.73"/><circle cx="441.8" cy="86.0" r="1.73"/><circle cx="462.1" cy="60.0" r="1.73"/><circle cx="382.9" cy="95.3" r="1.73"/><circle cx="431.6" cy="115.8" r="1.73"/><circle cx="419.2" cy="115.3" r="1.73"/><circle cx="457.3" cy="96.8" r="1.73"/><circle cx="389.7" cy="86.7" r="1.73"/><circle cx="492.9" cy="70.8" r="1.73"/><circle cx="419.0" cy="92.4" r="1.73"/><circle cx="452.4" cy="104.0" r="1.73"/><circle cx="396.6" cy="105.8" r="1.73"/><circle cx="434.0" cy="72.8" r="1.73"/><circle cx="383.2" cy="105.9" r="1.73"/><circle cx="418.3" cy="110.9" r="1.73"/><circle cx="480.0" cy="38.8" r="1.73"/><circle cx="379.7" cy="75.7" r="1.73"/><circle cx="393.9" cy="78.5" r="1.73"/><circle cx="436.4" cy="99.0" r="1.73"/><circle cx="418.2" cy="79.9" r="1.73"/><circle cx="451.7" cy="63.5" r="1.73"/><circle cx="366.7" cy="130.3" r="1.73"/><circle cx="429.3" cy="80.1" r="1.73"/><circle cx="465.5" cy="30.4" r="1.73"/><circle cx="389.7" cy="101.2" r="1.73"/><circle cx="414.1" cy="110.9" r="1.73"/><circle cx="446.5" cy="94.8" r="1.73"/><circle cx="457.9" cy="74.3" r="1.73"/><circle cx="405.3" cy="98.2" r="1.73"/><circle cx="378.3" cy="130.3" r="1.73"/><circle cx="436.9" cy="78.1" r="1.73"/><circle cx="436.9" cy="52.5" r="1.73"/><circle cx="450.9" cy="94.9" r="1.73"/><circle cx="508.5" cy="48.9" r="1.73"/><circle cx="435.9" cy="38.8" r="1.73"/><circle cx="459.6" cy="84.1" r="1.73"/><circle cx="368.5" cy="108.5" r="1.73"/><circle cx="409.9" cy="76.2" r="1.73"/><circle cx="426.2" cy="92.9" r="1.73"/><circle cx="441.8" cy="76.7" r="1.73"/><circle cx="419.3" cy="98.2" r="1.73"/><circle cx="391.6" cy="53.5" r="1.73"/><circle cx="442.3" cy="33.7" r="1.73"/><circle cx="391.7" cy="75.7" r="1.73"/><circle cx="374.0" cy="109.5" r="1.73"/><circle cx="455.7" cy="37.7" r="1.73"/><circle cx="458.1" cy="101.1" r="1.73"/><circle cx="391.3" cy="62.7" r="1.73"/><circle cx="443.2" cy="88.4" r="1.73"/><circle cx="441.4" cy="68.4" r="1.73"/><circle cx="365.8" cy="117.7" r="1.73"/><circle cx="428.1" cy="101.4" r="1.73"/><circle cx="416.8" cy="66.0" r="1.73"/><circle cx="425.4" cy="103.4" r="1.73"/><circle cx="422.9" cy="82.4" r="1.73"/><circle cx="434.5" cy="102.6" r="1.73"/><circle cx="415.8" cy="97.1" r="1.73"/><circle cx="484.9" cy="95.5" r="1.73"/><circle cx="401.4" cy="101.1" r="1.73"/><circle cx="441.7" cy="85.5" r="1.73"/><circle cx="436.7" cy="53.0" r="1.73"/><circle cx="424.8" cy="104.6" r="1.73"/><circle cx="413.3" cy="95.1" r="1.73"/><circle cx="427.2" cy="82.8" r="1.73"/><circle cx="399.8" cy="115.2" r="1.73"/><circle cx="422.3" cy="65.5" r="1.73"/><circle cx="391.4" cy="56.2" r="1.73"/><circle cx="457.9" cy="79.2" r="1.73"/><circle cx="366.4" cy="104.1" r="1.73"/><circle cx="407.6" cy="115.9" r="1.73"/><circle cx="402.1" cy="71.8" r="1.73"/><circle cx="451.4" cy="104.0" r="1.73"/><circle cx="432.5" cy="30.6" r="1.73"/><circle cx="425.9" cy="48.9" r="1.73"/><circle cx="401.6" cy="75.7" r="1.73"/><circle cx="349.4" cy="114.0" r="1.73"/><circle cx="432.6" cy="39.5" r="1.73"/><circle cx="401.8" cy="65.5" r="1.73"/><circle cx="421.1" cy="59.1" r="1.73"/><circle cx="445.2" cy="68.4" r="1.73"/><circle cx="462.4" cy="56.1" r="1.73"/><circle cx="432.4" cy="62.5" r="1.73"/><circle cx="391.7" cy="90.4" r="1.73"/><circle cx="413.3" cy="112.1" r="1.73"/><circle cx="468.0" cy="37.7" r="1.73"/><circle cx="460.6" cy="68.9" r="1.73"/><circle cx="356.2" cy="108.8" r="1.73"/><circle cx="440.7" cy="39.1" r="1.73"/><circle cx="413.1" cy="68.3" r="1.73"/><circle cx="393.0" cy="86.0" r="1.73"/><circle cx="391.6" cy="73.2" r="1.73"/><circle cx="396.6" cy="118.8" r="1.73"/><circle cx="406.3" cy="115.2" r="1.73"/><circle cx="411.5" cy="57.2" r="1.73"/><circle cx="391.2" cy="59.4" r="1.73"/><circle cx="374.5" cy="83.6" r="1.73"/><circle cx="447.3" cy="105.1" r="1.73"/><circle cx="405.0" cy="118.8" r="1.73"/><circle cx="372.6" cy="93.8" r="1.73"/><circle cx="395.3" cy="109.9" r="1.73"/><circle cx="443.2" cy="108.5" r="1.73"/><circle cx="398.6" cy="107.5" r="1.73"/><circle cx="400.3" cy="115.8" r="1.73"/><circle cx="385.7" cy="82.8" r="1.73"/><circle cx="448.7" cy="96.9" r="1.73"/><circle cx="462.7" cy="101.4" r="1.73"/><circle cx="411.7" cy="107.5" r="1.73"/><circle cx="397.1" cy="73.3" r="1.73"/><circle cx="432.3" cy="70.5" r="1.73"/><circle cx="386.8" cy="77.7" r="1.73"/><circle cx="471.1" cy="64.7" r="1.73"/><circle cx="457.5" cy="66.4" r="1.73"/><circle cx="412.8" cy="77.7" r="1.73"/><circle cx="497.5" cy="59.4" r="1.73"/><circle cx="339.7" cy="120.8" r="1.73"/><circle cx="417.2" cy="108.4" r="1.73"/><circle cx="379.7" cy="103.6" r="1.73"/><circle cx="405.9" cy="73.5" r="1.73"/><circle cx="446.2" cy="80.2" r="1.73"/><circle cx="445.9" cy="110.3" r="1.73"/><circle cx="373.1" cy="104.6" r="1.73"/><circle cx="419.6" cy="96.3" r="1.73"/><circle cx="398.5" cy="94.6" r="1.73"/><circle cx="439.7" cy="61.6" r="1.73"/><circle cx="373.0" cy="100.9" r="1.73"/><circle cx="454.5" cy="13.4" r="1.73"/><circle cx="373.4" cy="92.9" r="1.73"/><circle cx="442.3" cy="96.6" r="1.73"/><circle cx="425.3" cy="100.2" r="1.73"/><circle cx="417.4" cy="49.7" r="1.73"/><circle cx="426.1" cy="70.4" r="1.73"/><circle cx="406.2" cy="49.8" r="1.73"/><circle cx="437.9" cy="78.2" r="1.73"/><circle cx="379.5" cy="120.7" r="1.73"/><circle cx="420.7" cy="112.4" r="1.73"/><circle cx="400.6" cy="110.0" r="1.73"/><circle cx="419.6" cy="85.0" r="1.73"/><circle cx="377.3" cy="72.1" r="1.73"/><circle cx="422.1" cy="44.7" r="1.73"/><circle cx="400.7" cy="120.2" r="1.73"/><circle cx="340.2" cy="101.4" r="1.73"/><circle cx="417.6" cy="79.6" r="1.73"/><circle cx="415.3" cy="77.8" r="1.73"/><circle cx="420.9" cy="112.9" r="1.73"/><circle cx="382.1" cy="70.9" r="1.73"/><circle cx="511.2" cy="55.0" r="1.73"/><circle cx="373.8" cy="86.2" r="1.73"/><circle cx="427.1" cy="92.9" r="1.73"/><circle cx="409.7" cy="79.6" r="1.73"/><circle cx="415.0" cy="105.5" r="1.73"/><circle cx="396.1" cy="93.3" r="1.73"/><circle cx="411.7" cy="81.6" r="1.73"/><circle cx="440.5" cy="19.6" r="1.73"/><circle cx="354.5" cy="141.0" r="1.73"/><circle cx="406.3" cy="90.4" r="1.73"/><circle cx="442.1" cy="51.8" r="1.73"/><circle cx="443.2" cy="82.6" r="1.73"/><circle cx="383.3" cy="105.6" r="1.73"/><circle cx="408.1" cy="95.3" r="1.73"/><circle cx="421.7" cy="109.5" r="1.73"/><circle cx="431.2" cy="71.8" r="1.73"/><circle cx="432.0" cy="113.9" r="1.73"/><circle cx="385.7" cy="68.3" r="1.73"/><circle cx="420.4" cy="65.0" r="1.73"/><circle cx="383.5" cy="114.8" r="1.73"/><circle cx="349.9" cy="141.0" r="1.73"/><circle cx="461.2" cy="53.0" r="1.73"/><circle cx="397.7" cy="111.9" r="1.73"/><circle cx="412.0" cy="51.8" r="1.73"/><circle cx="433.8" cy="85.0" r="1.73"/><circle cx="395.2" cy="129.4" r="1.73"/><circle cx="456.9" cy="43.0" r="1.73"/><circle cx="435.0" cy="61.1" r="1.73"/><circle cx="468.6" cy="95.0" r="1.73"/><circle cx="471.1" cy="38.8" r="1.73"/><circle cx="429.5" cy="100.2" r="1.73"/><circle cx="393.2" cy="90.9" r="1.73"/><circle cx="504.3" cy="48.9" r="1.73"/><circle cx="439.3" cy="48.8" r="1.73"/><circle cx="409.0" cy="101.5" r="1.73"/><circle cx="536.8" cy="24.4" r="1.73"/><circle cx="394.5" cy="73.2" r="1.73"/><circle cx="457.2" cy="82.6" r="1.73"/><circle cx="395.8" cy="84.5" r="1.73"/><circle cx="408.1" cy="115.3" r="1.73"/><circle cx="439.0" cy="80.6" r="1.73"/><circle cx="413.5" cy="59.1" r="1.73"/><circle cx="443.7" cy="88.9" r="1.73"/><circle cx="432.5" cy="126.7" r="1.73"/><circle cx="395.2" cy="88.2" r="1.73"/><circle cx="428.6" cy="98.6" r="1.73"/><circle cx="385.5" cy="75.5" r="1.73"/><circle cx="447.3" cy="119.7" r="1.73"/><circle cx="394.6" cy="110.5" r="1.73"/><circle cx="391.6" cy="83.6" r="1.73"/><circle cx="406.7" cy="56.8" r="1.73"/><circle cx="382.9" cy="101.2" r="1.73"/><circle cx="449.9" cy="65.5" r="1.73"/><circle cx="455.8" cy="37.1" r="1.73"/><circle cx="430.2" cy="59.6" r="1.73"/><circle cx="382.2" cy="104.6" r="1.73"/><circle cx="409.6" cy="75.0" r="1.73"/><circle cx="437.5" cy="85.5" r="1.73"/><circle cx="511.2" cy="24.4" r="1.73"/><circle cx="423.4" cy="73.8" r="1.73"/><circle cx="402.3" cy="84.9" r="1.73"/><circle cx="403.7" cy="98.8" r="1.73"/><circle cx="390.9" cy="108.4" r="1.73"/><circle cx="431.5" cy="62.7" r="1.73"/><circle cx="368.5" cy="110.1" r="1.73"/><circle cx="408.5" cy="103.1" r="1.73"/><circle cx="405.6" cy="92.8" r="1.73"/><circle cx="444.2" cy="63.0" r="1.73"/><circle cx="431.1" cy="38.8" r="1.73"/><circle cx="435.2" cy="91.9" r="1.73"/><circle cx="384.1" cy="121.7" r="1.73"/><circle cx="423.0" cy="104.1" r="1.73"/><circle cx="341.4" cy="90.2" r="1.73"/><circle cx="388.1" cy="92.6" r="1.73"/><circle cx="357.2" cy="112.6" r="1.73"/><circle cx="416.1" cy="121.3" r="1.73"/><circle cx="406.4" cy="96.3" r="1.73"/><circle cx="399.3" cy="96.8" r="1.73"/><circle cx="396.0" cy="115.3" r="1.73"/><circle cx="416.7" cy="107.7" r="1.73"/><circle cx="375.2" cy="129.4" r="1.73"/><circle cx="434.9" cy="87.5" r="1.73"/><circle cx="388.8" cy="91.4" r="1.73"/><circle cx="412.1" cy="88.0" r="1.73"/><circle cx="420.7" cy="80.6" r="1.73"/><circle cx="399.7" cy="108.0" r="1.73"/><circle cx="394.5" cy="120.7" r="1.73"/><circle cx="401.9" cy="75.8" r="1.73"/><circle cx="403.5" cy="79.6" r="1.73"/><circle cx="427.3" cy="96.8" r="1.73"/><circle cx="402.5" cy="115.4" r="1.73"/><circle cx="429.0" cy="31.4" r="1.73"/><circle cx="495.4" cy="48.2" r="1.73"/><circle cx="398.5" cy="78.7" r="1.73"/><circle cx="394.5" cy="107.8" r="1.73"/><circle cx="385.9" cy="90.9" r="1.73"/><circle cx="452.6" cy="13.4" r="1.73"/><circle cx="391.5" cy="71.2" r="1.73"/><circle cx="443.1" cy="110.9" r="1.73"/><circle cx="435.0" cy="95.0" r="1.73"/><circle cx="433.4" cy="59.6" r="1.73"/><circle cx="422.0" cy="130.9" r="1.73"/><circle cx="432.1" cy="31.8" r="1.73"/><circle cx="422.1" cy="82.8" r="1.73"/><circle cx="386.1" cy="66.0" r="1.73"/><circle cx="433.3" cy="71.4" r="1.73"/><circle cx="422.1" cy="81.1" r="1.73"/><circle cx="345.0" cy="120.8" r="1.73"/><circle cx="490.5" cy="72.1" r="1.73"/><circle cx="410.0" cy="120.2" r="1.73"/><circle cx="461.0" cy="63.0" r="1.73"/><circle cx="403.2" cy="86.5" r="1.73"/><circle cx="398.0" cy="121.5" r="1.73"/><circle cx="398.2" cy="73.3" r="1.73"/><circle cx="430.1" cy="96.6" r="1.73"/><circle cx="403.7" cy="107.5" r="1.73"/><circle cx="412.3" cy="103.6" r="1.73"/><circle cx="422.3" cy="79.2" r="1.73"/><circle cx="403.8" cy="86.6" r="1.73"/><circle cx="413.7" cy="112.7" r="1.73"/><circle cx="431.8" cy="112.2" r="1.73"/><circle cx="429.0" cy="84.5" r="1.73"/><circle cx="384.8" cy="98.3" r="1.73"/><circle cx="533.4" cy="55.2" r="1.73"/><circle cx="387.9" cy="90.4" r="1.73"/><circle cx="388.1" cy="108.5" r="1.73"/><circle cx="445.0" cy="111.4" r="1.73"/><circle cx="419.8" cy="81.1" r="1.73"/><circle cx="435.1" cy="33.7" r="1.73"/><circle cx="416.2" cy="68.8" r="1.73"/><circle cx="392.1" cy="84.7" r="1.73"/><circle cx="426.0" cy="85.0" r="1.73"/><circle cx="389.7" cy="108.0" r="1.73"/><circle cx="408.4" cy="77.2" r="1.73"/><circle cx="481.7" cy="63.0" r="1.73"/><circle cx="464.4" cy="42.5" r="1.73"/><circle cx="427.9" cy="39.8" r="1.73"/><circle cx="421.6" cy="76.2" r="1.73"/><circle cx="426.2" cy="75.5" r="1.73"/><circle cx="460.0" cy="45.1" r="1.73"/><circle cx="415.5" cy="99.7" r="1.73"/><circle cx="376.6" cy="77.7" r="1.73"/><circle cx="431.4" cy="74.3" r="1.73"/><circle cx="465.0" cy="65.3" r="1.73"/><circle cx="421.9" cy="90.9" r="1.73"/><circle cx="403.4" cy="115.3" r="1.73"/><circle cx="379.0" cy="86.5" r="1.73"/><circle cx="439.5" cy="132.0" r="1.73"/><circle cx="412.8" cy="86.7" r="1.73"/><circle cx="388.3" cy="86.2" r="1.73"/><circle cx="424.1" cy="59.9" r="1.73"/><circle cx="423.3" cy="103.1" r="1.73"/><circle cx="409.9" cy="80.1" r="1.73"/><circle cx="404.6" cy="81.6" r="1.73"/><circle cx="422.3" cy="90.2" r="1.73"/><circle cx="435.5" cy="94.8" r="1.73"/><circle cx="371.2" cy="80.6" r="1.73"/><circle cx="428.1" cy="68.4" r="1.73"/><circle cx="422.1" cy="94.6" r="1.73"/><circle cx="416.3" cy="128.2" r="1.73"/><circle cx="400.6" cy="85.5" r="1.73"/><circle cx="414.8" cy="82.1" r="1.73"/><circle cx="399.3" cy="90.4" r="1.73"/><circle cx="451.9" cy="70.8" r="1.73"/><circle cx="428.7" cy="30.4" r="1.73"/><circle cx="452.8" cy="87.0" r="1.73"/><circle cx="418.4" cy="76.2" r="1.73"/><circle cx="403.1" cy="43.0" r="1.73"/><circle cx="500.3" cy="89.4" r="1.73"/><circle cx="388.1" cy="93.3" r="1.73"/><circle cx="389.1" cy="115.1" r="1.73"/><circle cx="448.2" cy="75.3" r="1.73"/><circle cx="387.0" cy="91.9" r="1.73"/><circle cx="463.8" cy="59.6" r="1.73"/><circle cx="424.6" cy="80.1" r="1.73"/><circle cx="338.3" cy="92.3" r="1.73"/><circle cx="423.7" cy="95.8" r="1.73"/><circle cx="387.5" cy="76.7" r="1.73"/><circle cx="446.5" cy="82.2" r="1.73"/><circle cx="441.3" cy="118.2" r="1.73"/><circle cx="431.8" cy="104.0" r="1.73"/><circle cx="479.8" cy="100.9" r="1.73"/><circle cx="396.3" cy="88.3" r="1.73"/><circle cx="345.6" cy="141.0" r="1.73"/><circle cx="425.2" cy="90.4" r="1.73"/><circle cx="403.9" cy="87.5" r="1.73"/><circle cx="437.9" cy="96.9" r="1.73"/><circle cx="528.5" cy="103.5" r="1.73"/><circle cx="386.3" cy="80.2" r="1.73"/><circle cx="418.0" cy="90.9" r="1.73"/><circle cx="417.6" cy="84.8" r="1.73"/><circle cx="411.9" cy="101.2" r="1.73"/><circle cx="350.9" cy="129.4" r="1.73"/><circle cx="404.3" cy="83.1" r="1.73"/><circle cx="414.6" cy="65.6" r="1.73"/><circle cx="387.6" cy="96.8" r="1.73"/><circle cx="396.9" cy="52.7" r="1.73"/><circle cx="491.2" cy="58.8" r="1.73"/><circle cx="399.6" cy="115.2" r="1.73"/><circle cx="437.9" cy="95.2" r="1.73"/><circle cx="431.5" cy="90.2" r="1.73"/><circle cx="454.7" cy="81.6" r="1.73"/><circle cx="425.0" cy="73.0" r="1.73"/><circle cx="387.7" cy="103.5" r="1.73"/><circle cx="386.0" cy="103.1" r="1.73"/><circle cx="398.2" cy="73.4" r="1.73"/><circle cx="402.1" cy="115.6" r="1.73"/><circle cx="417.7" cy="85.0" r="1.73"/><circle cx="438.0" cy="109.7" r="1.73"/><circle cx="418.5" cy="60.6" r="1.73"/><circle cx="410.5" cy="94.3" r="1.73"/><circle cx="479.4" cy="19.6" r="1.73"/><circle cx="363.4" cy="95.3" r="1.73"/><circle cx="423.9" cy="96.8" r="1.73"/><circle cx="416.7" cy="94.9" r="1.73"/><circle cx="435.0" cy="62.5" r="1.73"/><circle cx="415.6" cy="98.8" r="1.73"/><circle cx="382.1" cy="87.0" r="1.73"/><circle cx="436.0" cy="95.1" r="1.73"/><circle cx="399.4" cy="88.6" r="1.73"/><circle cx="381.1" cy="88.0" r="1.73"/><circle cx="391.5" cy="65.3" r="1.73"/><circle cx="403.2" cy="99.0" r="1.73"/><circle cx="395.5" cy="62.0" r="1.73"/><circle cx="433.7" cy="75.8" r="1.73"/><circle cx="416.7" cy="51.3" r="1.73"/><circle cx="393.2" cy="121.2" r="1.73"/><circle cx="464.9" cy="94.7" r="1.73"/><circle cx="395.6" cy="80.1" r="1.73"/><circle cx="420.6" cy="73.2" r="1.73"/><circle cx="383.6" cy="130.9" r="1.73"/><circle cx="482.7" cy="48.2" r="1.73"/><circle cx="389.8" cy="96.9" r="1.73"/><circle cx="356.2" cy="115.5" r="1.73"/><circle cx="463.2" cy="62.7" r="1.73"/><circle cx="466.0" cy="55.7" r="1.73"/><circle cx="371.8" cy="115.8" r="1.73"/><circle cx="386.9" cy="73.3" r="1.73"/><circle cx="382.0" cy="76.7" r="1.73"/><circle cx="411.6" cy="73.7" r="1.73"/><circle cx="409.8" cy="93.2" r="1.73"/><circle cx="439.5" cy="90.3" r="1.73"/><circle cx="410.9" cy="48.9" r="1.73"/><circle cx="414.0" cy="88.6" r="1.73"/><circle cx="426.3" cy="62.6" r="1.73"/><circle cx="396.9" cy="103.6" r="1.73"/><circle cx="487.0" cy="63.0" r="1.73"/><circle cx="362.3" cy="100.7" r="1.73"/><circle cx="420.3" cy="82.6" r="1.73"/><circle cx="397.4" cy="92.8" r="1.73"/><circle cx="463.8" cy="72.9" r="1.73"/><circle cx="400.3" cy="78.6" r="1.73"/><circle cx="441.7" cy="103.8" r="1.73"/><circle cx="500.3" cy="64.1" r="1.73"/><circle cx="390.1" cy="65.6" r="1.73"/><circle cx="375.5" cy="109.0" r="1.73"/><circle cx="407.3" cy="94.9" r="1.73"/><circle cx="410.1" cy="73.5" r="1.73"/><circle cx="373.1" cy="72.5" r="1.73"/><circle cx="441.9" cy="75.2" r="1.73"/><circle cx="402.1" cy="65.5" r="1.73"/><circle cx="425.9" cy="101.0" r="1.73"/><circle cx="475.4" cy="84.1" r="1.73"/><circle cx="429.8" cy="75.9" r="1.73"/><circle cx="438.9" cy="97.0" r="1.73"/><circle cx="429.0" cy="73.7" r="1.73"/><circle cx="441.6" cy="23.6" r="1.73"/><circle cx="379.8" cy="109.4" r="1.73"/><circle cx="388.4" cy="112.4" r="1.73"/><circle cx="430.2" cy="66.0" r="1.73"/><circle cx="434.8" cy="98.9" r="1.73"/><circle cx="444.5" cy="75.2" r="1.73"/><circle cx="387.8" cy="117.7" r="1.73"/><circle cx="415.5" cy="78.2" r="1.73"/><circle cx="399.5" cy="62.7" r="1.73"/><circle cx="450.0" cy="68.2" r="1.73"/><circle cx="432.6" cy="77.9" r="1.73"/><circle cx="451.2" cy="75.2" r="1.73"/><circle cx="390.9" cy="71.1" r="1.73"/><circle cx="440.1" cy="94.3" r="1.73"/><circle cx="405.9" cy="110.1" r="1.73"/><circle cx="452.8" cy="19.6" r="1.73"/><circle cx="445.8" cy="57.7" r="1.73"/><circle cx="415.6" cy="84.0" r="1.73"/><circle cx="416.6" cy="71.3" r="1.73"/><circle cx="397.8" cy="63.0" r="1.73"/><circle cx="376.8" cy="86.6" r="1.73"/><circle cx="383.7" cy="92.8" r="1.73"/><circle cx="435.4" cy="83.0" r="1.73"/><circle cx="395.5" cy="88.5" r="1.73"/><circle cx="427.0" cy="77.9" r="1.73"/><circle cx="421.3" cy="78.7" r="1.73"/><circle cx="453.9" cy="52.5" r="1.73"/><circle cx="378.2" cy="93.8" r="1.73"/><circle cx="379.6" cy="99.7" r="1.73"/><circle cx="506.4" cy="24.4" r="1.73"/><circle cx="446.2" cy="92.7" r="1.73"/><circle cx="483.8" cy="72.1" r="1.73"/><circle cx="363.2" cy="110.1" r="1.73"/><circle cx="453.5" cy="88.9" r="1.73"/><circle cx="369.1" cy="97.2" r="1.73"/><circle cx="431.3" cy="44.7" r="1.73"/><circle cx="417.7" cy="53.0" r="1.73"/><circle cx="447.5" cy="95.1" r="1.73"/><circle cx="376.9" cy="112.4" r="1.73"/><circle cx="421.1" cy="67.4" r="1.73"/><circle cx="413.2" cy="62.4" r="1.73"/><circle cx="449.4" cy="80.1" r="1.73"/><circle cx="424.6" cy="90.4" r="1.73"/><circle cx="399.7" cy="65.2" r="1.73"/><circle cx="410.0" cy="92.9" r="1.73"/><circle cx="435.8" cy="52.7" r="1.73"/><circle cx="458.0" cy="85.1" r="1.73"/><circle cx="402.5" cy="69.4" r="1.73"/><circle cx="398.7" cy="94.8" r="1.73"/><circle cx="445.5" cy="71.0" r="1.73"/><circle cx="388.5" cy="91.9" r="1.73"/><circle cx="404.3" cy="68.2" r="1.73"/><circle cx="439.0" cy="82.5" r="1.73"/><circle cx="378.4" cy="78.2" r="1.73"/><circle cx="431.6" cy="93.8" r="1.73"/><circle cx="461.2" cy="98.2" r="1.73"/><circle cx="433.8" cy="106.5" r="1.73"/><circle cx="393.3" cy="88.2" r="1.73"/><circle cx="437.9" cy="75.7" r="1.73"/><circle cx="389.8" cy="80.0" r="1.73"/><circle cx="393.7" cy="113.9" r="1.73"/><circle cx="386.5" cy="89.9" r="1.73"/><circle cx="419.5" cy="48.2" r="1.73"/><circle cx="408.0" cy="112.1" r="1.73"/><circle cx="407.1" cy="80.4" r="1.73"/><circle cx="426.4" cy="93.0" r="1.73"/><circle cx="449.9" cy="60.1" r="1.73"/><circle cx="403.1" cy="99.2" r="1.73"/><circle cx="394.0" cy="79.7" r="1.73"/><circle cx="400.9" cy="101.5" r="1.73"/><circle cx="417.8" cy="86.5" r="1.73"/><circle cx="439.3" cy="67.4" r="1.73"/><circle cx="392.8" cy="56.5" r="1.73"/><circle cx="392.6" cy="77.2" r="1.73"/><circle cx="430.1" cy="82.4" r="1.73"/><circle cx="395.3" cy="103.6" r="1.73"/><circle cx="406.0" cy="86.5" r="1.73"/><circle cx="427.7" cy="68.2" r="1.73"/><circle cx="381.8" cy="70.7" r="1.73"/><circle cx="463.7" cy="80.1" r="1.73"/><circle cx="434.5" cy="81.1" r="1.73"/><circle cx="369.8" cy="109.6" r="1.73"/><circle cx="425.3" cy="60.6" r="1.73"/><circle cx="451.1" cy="50.4" r="1.73"/><circle cx="406.1" cy="107.9" r="1.73"/><circle cx="413.8" cy="62.7" r="1.73"/><circle cx="402.0" cy="115.3" r="1.73"/><circle cx="453.9" cy="76.1" r="1.73"/><circle cx="412.6" cy="91.4" r="1.73"/><circle cx="349.9" cy="76.3" r="1.73"/><circle cx="421.7" cy="74.8" r="1.73"/><circle cx="412.5" cy="116.8" r="1.73"/><circle cx="426.4" cy="78.4" r="1.73"/><circle cx="367.7" cy="99.2" r="1.73"/><circle cx="425.9" cy="72.3" r="1.73"/><circle cx="383.0" cy="108.5" r="1.73"/><circle cx="412.1" cy="126.7" r="1.73"/><circle cx="442.2" cy="72.3" r="1.73"/><circle cx="454.9" cy="59.7" r="1.73"/><circle cx="391.7" cy="75.2" r="1.73"/><circle cx="432.6" cy="91.9" r="1.73"/><circle cx="446.1" cy="64.0" r="1.73"/><circle cx="410.7" cy="101.6" r="1.73"/><circle cx="404.7" cy="49.7" r="1.73"/><circle cx="383.2" cy="117.3" r="1.73"/><circle cx="410.9" cy="94.6" r="1.73"/><circle cx="420.1" cy="80.3" r="1.73"/><circle cx="367.9" cy="92.9" r="1.73"/><circle cx="399.7" cy="86.5" r="1.73"/><circle cx="410.0" cy="94.3" r="1.73"/><circle cx="380.5" cy="99.2" r="1.73"/><circle cx="377.2" cy="78.3" r="1.73"/><circle cx="415.4" cy="52.9" r="1.73"/><circle cx="371.3" cy="98.4" r="1.73"/><circle cx="431.5" cy="70.7" r="1.73"/><circle cx="405.2" cy="111.9" r="1.73"/><circle cx="366.3" cy="108.3" r="1.73"/><circle cx="410.0" cy="46.1" r="1.73"/><circle cx="451.2" cy="87.0" r="1.73"/><circle cx="421.5" cy="73.8" r="1.73"/><circle cx="368.4" cy="81.4" r="1.73"/><circle cx="369.9" cy="84.3" r="1.73"/><circle cx="426.2" cy="104.1" r="1.73"/><circle cx="377.0" cy="110.2" r="1.73"/><circle cx="419.6" cy="64.5" r="1.73"/><circle cx="412.1" cy="110.0" r="1.73"/><circle cx="466.3" cy="97.2" r="1.73"/><circle cx="347.8" cy="141.0" r="1.73"/><circle cx="423.9" cy="84.7" r="1.73"/><circle cx="419.9" cy="67.9" r="1.73"/><circle cx="411.1" cy="88.3" r="1.73"/><circle cx="407.1" cy="77.9" r="1.73"/><circle cx="401.8" cy="98.4" r="1.73"/><circle cx="376.1" cy="95.1" r="1.73"/><circle cx="405.4" cy="115.7" r="1.73"/><circle cx="393.8" cy="100.7" r="1.73"/><circle cx="359.8" cy="141.0" r="1.73"/><circle cx="447.5" cy="110.9" r="1.73"/><circle cx="435.2" cy="115.1" r="1.73"/><circle cx="406.3" cy="120.7" r="1.73"/><circle cx="450.6" cy="89.9" r="1.73"/><circle cx="417.8" cy="103.6" r="1.73"/><circle cx="405.1" cy="44.7" r="1.73"/><circle cx="416.3" cy="77.7" r="1.73"/><circle cx="447.9" cy="128.2" r="1.73"/><circle cx="456.8" cy="62.5" r="1.73"/><circle cx="392.3" cy="122.2" r="1.73"/><circle cx="352.4" cy="120.8" r="1.73"/><circle cx="426.3" cy="98.7" r="1.73"/><circle cx="434.6" cy="68.9" r="1.73"/><circle cx="409.9" cy="103.9" r="1.73"/><circle cx="418.4" cy="87.5" r="1.73"/><circle cx="435.9" cy="127.7" r="1.73"/><circle cx="431.5" cy="84.6" r="1.73"/><circle cx="434.3" cy="73.2" r="1.73"/><circle cx="439.5" cy="118.7" r="1.73"/><circle cx="409.0" cy="93.1" r="1.73"/><circle cx="431.1" cy="115.2" r="1.73"/><circle cx="450.5" cy="38.8" r="1.73"/><circle cx="406.4" cy="107.0" r="1.73"/><circle cx="398.4" cy="98.7" r="1.73"/><circle cx="408.2" cy="100.6" r="1.73"/><circle cx="435.6" cy="84.9" r="1.73"/><circle cx="411.9" cy="91.4" r="1.73"/><circle cx="409.1" cy="62.7" r="1.73"/><circle cx="414.9" cy="59.4" r="1.73"/><circle cx="426.2" cy="56.3" r="1.73"/><circle cx="439.5" cy="62.4" r="1.73"/><circle cx="380.9" cy="83.1" r="1.73"/><circle cx="407.7" cy="81.1" r="1.73"/><circle cx="461.6" cy="105.6" r="1.73"/><circle cx="472.8" cy="37.3" r="1.73"/><circle cx="466.9" cy="63.0" r="1.73"/><circle cx="420.2" cy="115.5" r="1.73"/><circle cx="385.0" cy="114.4" r="1.73"/><circle cx="435.4" cy="88.4" r="1.73"/><circle cx="433.5" cy="71.3" r="1.73"/><circle cx="433.7" cy="65.5" r="1.73"/><circle cx="379.8" cy="106.5" r="1.73"/><circle cx="437.4" cy="67.9" r="1.73"/><circle cx="386.4" cy="114.7" r="1.73"/><circle cx="407.8" cy="96.7" r="1.73"/><circle cx="427.2" cy="52.3" r="1.73"/><circle cx="426.5" cy="93.8" r="1.73"/><circle cx="430.3" cy="90.4" r="1.73"/><circle cx="418.3" cy="114.4" r="1.73"/><circle cx="387.1" cy="121.4" r="1.73"/><circle cx="399.5" cy="76.1" r="1.73"/><circle cx="409.6" cy="92.7" r="1.73"/><circle cx="435.6" cy="87.5" r="1.73"/><circle cx="452.9" cy="59.6" r="1.73"/><circle cx="401.2" cy="115.8" r="1.73"/><circle cx="400.4" cy="101.2" r="1.73"/><circle cx="367.3" cy="121.2" r="1.73"/><circle cx="480.6" cy="72.1" r="1.73"/><circle cx="419.4" cy="83.6" r="1.73"/><circle cx="399.4" cy="62.0" r="1.73"/><circle cx="490.8" cy="89.4" r="1.73"/><circle cx="441.7" cy="78.2" r="1.73"/><circle cx="443.3" cy="70.9" r="1.73"/><circle cx="451.4" cy="90.3" r="1.73"/><circle cx="370.8" cy="115.4" r="1.73"/><circle cx="436.7" cy="66.4" r="1.73"/><circle cx="481.3" cy="79.9" r="1.73"/><circle cx="413.9" cy="90.9" r="1.73"/><circle cx="438.7" cy="74.3" r="1.73"/><circle cx="402.0" cy="98.9" r="1.73"/><circle cx="422.1" cy="108.0" r="1.73"/><circle cx="406.2" cy="72.8" r="1.73"/><circle cx="440.1" cy="82.1" r="1.73"/><circle cx="375.2" cy="121.4" r="1.73"/><circle cx="369.3" cy="129.4" r="1.73"/><circle cx="400.0" cy="82.4" r="1.73"/><circle cx="400.1" cy="120.2" r="1.73"/><circle cx="459.0" cy="99.3" r="1.73"/><circle cx="441.9" cy="101.3" r="1.73"/><circle cx="415.3" cy="88.4" r="1.73"/><circle cx="485.9" cy="91.5" r="1.73"/><circle cx="425.2" cy="82.8" r="1.73"/><circle cx="373.1" cy="126.7" r="1.73"/><circle cx="421.2" cy="96.3" r="1.73"/><circle cx="424.0" cy="108.5" r="1.73"/><circle cx="405.2" cy="82.3" r="1.73"/><circle cx="402.8" cy="102.6" r="1.73"/><circle cx="425.9" cy="71.3" r="1.73"/><circle cx="422.6" cy="39.8" r="1.73"/><circle cx="448.8" cy="94.7" r="1.73"/><circle cx="376.2" cy="98.7" r="1.73"/><circle cx="395.6" cy="68.6" r="1.73"/><circle cx="463.6" cy="52.7" r="1.73"/><circle cx="394.7" cy="103.8" r="1.73"/><circle cx="355.1" cy="130.9" r="1.73"/><circle cx="436.3" cy="83.1" r="1.73"/><circle cx="460.4" cy="88.4" r="1.73"/><circle cx="413.8" cy="96.8" r="1.73"/><circle cx="417.2" cy="92.7" r="1.73"/><circle cx="440.9" cy="83.1" r="1.73"/><circle cx="438.1" cy="73.6" r="1.73"/><circle cx="372.9" cy="112.4" r="1.73"/><circle cx="417.4" cy="44.7" r="1.73"/><circle cx="369.8" cy="112.3" r="1.73"/><circle cx="403.8" cy="73.1" r="1.73"/><circle cx="445.6" cy="83.6" r="1.73"/><circle cx="404.1" cy="103.2" r="1.73"/><circle cx="444.2" cy="95.3" r="1.73"/><circle cx="406.2" cy="96.3" r="1.73"/><circle cx="412.7" cy="85.1" r="1.73"/><circle cx="409.6" cy="96.7" r="1.73"/><circle cx="417.9" cy="93.8" r="1.73"/><circle cx="406.1" cy="90.3" r="1.73"/><circle cx="457.1" cy="63.0" r="1.73"/><circle cx="424.7" cy="65.5" r="1.73"/><circle cx="347.3" cy="120.8" r="1.73"/><circle cx="425.3" cy="113.4" r="1.73"/><circle cx="422.1" cy="87.0" r="1.73"/><circle cx="392.1" cy="120.4" r="1.73"/><circle cx="388.8" cy="65.4" r="1.73"/><circle cx="400.4" cy="107.9" r="1.73"/><circle cx="494.3" cy="59.4" r="1.73"/><circle cx="397.6" cy="72.8" r="1.73"/><circle cx="460.6" cy="101.3" r="1.73"/><circle cx="390.6" cy="96.7" r="1.73"/><circle cx="428.4" cy="107.5" r="1.73"/><circle cx="405.7" cy="86.7" r="1.73"/><circle cx="382.5" cy="82.8" r="1.73"/><circle cx="403.8" cy="93.3" r="1.73"/><circle cx="433.2" cy="92.8" r="1.73"/><circle cx="395.4" cy="90.9" r="1.73"/><circle cx="424.0" cy="94.6" r="1.73"/><circle cx="450.9" cy="82.4" r="1.73"/><circle cx="433.2" cy="90.6" r="1.73"/><circle cx="430.1" cy="110.0" r="1.73"/><circle cx="458.1" cy="59.6" r="1.73"/><circle cx="403.5" cy="98.4" r="1.73"/><circle cx="353.0" cy="130.3" r="1.73"/><circle cx="410.3" cy="101.4" r="1.73"/><circle cx="387.7" cy="89.9" r="1.73"/><circle cx="405.2" cy="66.4" r="1.73"/><circle cx="395.7" cy="98.7" r="1.73"/><circle cx="392.5" cy="68.4" r="1.73"/><circle cx="402.4" cy="108.1" r="1.73"/><circle cx="398.1" cy="84.5" r="1.73"/><circle cx="375.5" cy="82.4" r="1.73"/><circle cx="416.6" cy="79.5" r="1.73"/><circle cx="459.5" cy="51.8" r="1.73"/><circle cx="436.0" cy="60.6" r="1.73"/><circle cx="417.4" cy="63.2" r="1.73"/><circle cx="423.5" cy="103.5" r="1.73"/><circle cx="497.9" cy="55.0" r="1.73"/><circle cx="462.1" cy="43.0" r="1.73"/><circle cx="439.5" cy="26.5" r="1.73"/><circle cx="440.8" cy="75.9" r="1.73"/><circle cx="433.8" cy="73.1" r="1.73"/><circle cx="377.0" cy="94.9" r="1.73"/><circle cx="389.9" cy="73.4" r="1.73"/><circle cx="444.9" cy="75.7" r="1.73"/><circle cx="422.7" cy="94.4" r="1.73"/><circle cx="429.4" cy="82.6" r="1.73"/><circle cx="459.3" cy="68.9" r="1.73"/><circle cx="400.9" cy="109.5" r="1.73"/><circle cx="438.7" cy="94.9" r="1.73"/><circle cx="463.9" cy="84.6" r="1.73"/><circle cx="415.2" cy="95.3" r="1.73"/><circle cx="437.2" cy="87.5" r="1.73"/><circle cx="455.8" cy="82.5" r="1.73"/><circle cx="422.8" cy="86.5" r="1.73"/><circle cx="414.6" cy="82.6" r="1.73"/><circle cx="371.5" cy="96.8" r="1.73"/><circle cx="384.7" cy="109.0" r="1.73"/><circle cx="386.8" cy="120.4" r="1.73"/><circle cx="383.7" cy="67.9" r="1.73"/><circle cx="454.9" cy="53.0" r="1.73"/><circle cx="508.1" cy="69.3" r="1.73"/><circle cx="396.2" cy="53.2" r="1.73"/><circle cx="423.3" cy="44.0" r="1.73"/><circle cx="433.7" cy="98.6" r="1.73"/><circle cx="428.4" cy="65.9" r="1.73"/><circle cx="415.8" cy="59.6" r="1.73"/><circle cx="345.0" cy="94.0" r="1.73"/><circle cx="417.1" cy="61.1" r="1.73"/><circle cx="418.7" cy="49.0" r="1.73"/><circle cx="395.4" cy="92.8" r="1.73"/><circle cx="438.0" cy="68.9" r="1.73"/><circle cx="418.1" cy="95.2" r="1.73"/><circle cx="410.1" cy="92.8" r="1.73"/><circle cx="449.1" cy="73.3" r="1.73"/><circle cx="399.1" cy="46.9" r="1.73"/><circle cx="463.8" cy="26.5" r="1.73"/><circle cx="432.7" cy="101.2" r="1.73"/><circle cx="401.4" cy="95.1" r="1.73"/><circle cx="374.0" cy="96.9" r="1.73"/><circle cx="466.3" cy="44.7" r="1.73"/><circle cx="372.2" cy="82.6" r="1.73"/><circle cx="421.8" cy="60.1" r="1.73"/><circle cx="431.4" cy="50.8" r="1.73"/><circle cx="411.7" cy="85.5" r="1.73"/><circle cx="503.4" cy="55.6" r="1.73"/><circle cx="398.4" cy="83.6" r="1.73"/><circle cx="475.4" cy="53.5" r="1.73"/><circle cx="440.3" cy="75.9" r="1.73"/><circle cx="376.0" cy="97.2" r="1.73"/><circle cx="444.2" cy="114.4" r="1.73"/><circle cx="403.4" cy="69.9" r="1.73"/><circle cx="416.3" cy="83.6" r="1.73"/><circle cx="342.5" cy="129.4" r="1.73"/><circle cx="391.2" cy="82.7" r="1.73"/><circle cx="403.3" cy="105.9" r="1.73"/><circle cx="421.7" cy="70.9" r="1.73"/><circle cx="419.2" cy="90.4" r="1.73"/><circle cx="426.8" cy="85.5" r="1.73"/><circle cx="425.8" cy="31.4" r="1.73"/><circle cx="443.2" cy="63.0" r="1.73"/><circle cx="459.1" cy="116.6" r="1.73"/><circle cx="375.4" cy="100.9" r="1.73"/><circle cx="422.2" cy="59.6" r="1.73"/><circle cx="415.6" cy="92.4" r="1.73"/><circle cx="404.8" cy="98.5" r="1.73"/><circle cx="430.1" cy="81.1" r="1.73"/><circle cx="422.4" cy="85.0" r="1.73"/><circle cx="421.8" cy="71.3" r="1.73"/><circle cx="461.2" cy="114.0" r="1.73"/><circle cx="418.2" cy="90.4" r="1.73"/><circle cx="450.7" cy="82.7" r="1.73"/><circle cx="444.3" cy="119.7" r="1.73"/><circle cx="474.3" cy="67.2" r="1.73"/><circle cx="463.5" cy="50.3" r="1.73"/><circle cx="411.3" cy="80.1" r="1.73"/><circle cx="434.6" cy="24.0" r="1.73"/><circle cx="398.6" cy="121.2" r="1.73"/><circle cx="404.9" cy="71.1" r="1.73"/><circle cx="375.8" cy="105.4" r="1.73"/><circle cx="375.1" cy="87.0" r="1.73"/><circle cx="391.8" cy="81.6" r="1.73"/><circle cx="423.3" cy="78.2" r="1.73"/><circle cx="396.3" cy="146.1" r="1.73"/><circle cx="400.5" cy="128.8" r="1.73"/><circle cx="464.5" cy="69.9" r="1.73"/><circle cx="458.0" cy="78.2" r="1.73"/>
</g>
<path class="ax" d="M313.9 6.6V160.7H547.0M323.60 160.7v2M350.20 160.7v2M376.80 160.7v2M403.40 160.7v2M430.00 160.7v2M456.60 160.7v2M483.20 160.7v2M509.80 160.7v2M536.40 160.7v2M313.9 151.50h-2M313.9 127.06h-2M313.9 102.62h-2M313.9 78.18h-2M313.9 53.74h-2M313.9 29.30h-2"/>
<g class="tk">
<text x="323.6" y="170.0" text-anchor="middle">1500</text>
<text x="350.2" y="170.0" text-anchor="middle">1600</text>
<text x="376.8" y="170.0" text-anchor="middle">1700</text>
<text x="403.4" y="170.0" text-anchor="middle">1800</text>
<text x="430.0" y="170.0" text-anchor="middle">1900</text>
<text x="456.6" y="170.0" text-anchor="middle">2000</text>
<text x="483.2" y="170.0" text-anchor="middle">2100</text>
<text x="509.8" y="170.0" text-anchor="middle">2200</text>
<text x="536.4" y="170.0" text-anchor="middle">2300</text>
<text x="308.6" y="153.6" text-anchor="end">300</text>
<text x="308.6" y="129.2" text-anchor="end">350</text>
<text x="308.6" y="104.7" text-anchor="end">400</text>
<text x="308.6" y="80.3" text-anchor="end">450</text>
<text x="308.6" y="55.8" text-anchor="end">500</text>
<text x="308.6" y="31.4" text-anchor="end">550</text>
<text class="lb" x="429.9" y="178.0" text-anchor="middle">Chest girth (mm)</text>
<text class="lb" transform="translate(293.1 83.6) rotate(-90)" text-anchor="middle">Weight (kg)</text>
</g>
<text class="r" x="340.5" y="13.2">R = 0.524</text>
<text class="cap" x="418.0" y="195.5" text-anchor="middle" letter-spacing="0.55">(<tspan font-weight="bold">b</tspan>)</text>
</g>
<g class="pl" id="plot-c">
<g class="pt">
<circle cx="159.5" cy="287.9" r="1.73"/><circle cx="116.0" cy="307.6" r="1.73"/><circle cx="118.7" cy="288.8" r="1.73"/><circle cx="123.1" cy="298.8" r="1.73"/><circle cx="162.8" cy="228.6" r="1.73"/><circle cx="187.7" cy="305.9" r="1.73"/><circle cx="123.3" cy="294.8" r="1.73"/><circle cx="100.8" cy="320.5" r="1.73"/><circle cx="149.0" cy="258.0" r="1.73"/><circle cx="178.2" cy="306.5" r="1.73"/><circle cx="151.6" cy="288.3" r="1.73"/><circle cx="176.1" cy="280.5" r="1.73"/><circle cx="142.5" cy="266.3" r="1.73"/><circle cx="163.3" cy="286.9" r="1.73"/><circle cx="105.5" cy="320.3" r="1.73"/><circle cx="126.3" cy="286.4" r="1.73"/><circle cx="153.5" cy="280.1" r="1.73"/><circle cx="139.3" cy="298.7" r="1.73"/><circle cx="99.1" cy="306.6" r="1.73"/><circle cx="179.7" cy="305.7" r="1.73"/><circle cx="127.4" cy="261.0" r="1.73"/><circle cx="181.6" cy="271.2" r="1.73"/><circle cx="152.9" cy="296.5" r="1.73"/><circle cx="110.2" cy="300.7" r="1.73"/><circle cx="134.3" cy="286.8" r="1.73"/><circle cx="95.3" cy="287.3" r="1.73"/><circle cx="137.5" cy="221.0" r="1.73"/><circle cx="134.4" cy="235.6" r="1.73"/><circle cx="153.3" cy="228.2" r="1.73"/><circle cx="144.2" cy="285.5" r="1.73"/><circle cx="101.2" cy="295.3" r="1.73"/><circle cx="169.1" cy="286.4" r="1.73"/><circle cx="116.1" cy="298.9" r="1.73"/><circle cx="141.0" cy="267.3" r="1.73"/><circle cx="135.3" cy="283.0" r="1.73"/><circle cx="151.6" cy="329.7" r="1.73"/><circle cx="94.4" cy="311.9" r="1.73"/><circle cx="172.6" cy="298.3" r="1.73"/><circle cx="139.6" cy="248.2" r="1.73"/><circle cx="188.8" cy="225.5" r="1.73"/><circle cx="100.7" cy="307.6" r="1.73"/><circle cx="121.8" cy="288.9" r="1.73"/><circle cx="124.4" cy="305.5" r="1.73"/><circle cx="107.0" cy="291.4" r="1.73"/><circle cx="194.5" cy="286.4" r="1.73"/><circle cx="79.4" cy="285.5" r="1.73"/><circle cx="89.9" cy="308.6" r="1.73"/><circle cx="135.2" cy="288.4" r="1.73"/><circle cx="191.9" cy="250.5" r="1.73"/><circle cx="146.5" cy="308.0" r="1.73"/><circle cx="143.4" cy="285.9" r="1.73"/><circle cx="89.0" cy="287.3" r="1.73"/><circle cx="141.2" cy="272.7" r="1.73"/><circle cx="167.4" cy="286.4" r="1.73"/><circle cx="144.6" cy="317.6" r="1.73"/><circle cx="71.3" cy="296.7" r="1.73"/><circle cx="154.2" cy="288.4" r="1.73"/><circle cx="78.3" cy="310.4" r="1.73"/><circle cx="131.3" cy="317.7" r="1.73"/><circle cx="171.3" cy="316.0" r="1.73"/><circle cx="150.7" cy="298.7" r="1.73"/><circle cx="209.2" cy="285.2" r="1.73"/><circle cx="153.3" cy="329.7" r="1.73"/><circle cx="72.6" cy="322.9" r="1.73"/><circle cx="139.2" cy="308.1" r="1.73"/><circle cx="108.7" cy="309.1" r="1.73"/><circle cx="118.7" cy="310.2" r="1.73"/><circle cx="169.2" cy="333.9" r="1.73"/><circle cx="138.7" cy="303.0" r="1.73"/><circle cx="108.6" cy="264.1" r="1.73"/><circle cx="182.9" cy="250.6" r="1.73"/><circle cx="45.1" cy="317.0" r="1.73"/><circle cx="128.6" cy="267.5" r="1.73"/><circle cx="138.3" cy="284.5" r="1.73"/><circle cx="147.2" cy="286.9" r="1.73"/><circle cx="222.5" cy="272.5" r="1.73"/><circle cx="119.0" cy="267.4" r="1.73"/><circle cx="176.5" cy="314.3" r="1.73"/><circle cx="182.9" cy="315.6" r="1.73"/><circle cx="183.1" cy="214.9" r="1.73"/><circle cx="243.6" cy="271.5" r="1.73"/><circle cx="94.6" cy="312.1" r="1.73"/><circle cx="155.8" cy="299.2" r="1.73"/><circle cx="146.6" cy="314.4" r="1.73"/><circle cx="149.7" cy="285.5" r="1.73"/><circle cx="168.3" cy="250.4" r="1.73"/><circle cx="210.3" cy="249.7" r="1.73"/><circle cx="154.3" cy="275.1" r="1.73"/><circle cx="175.9" cy="314.5" r="1.73"/><circle cx="113.4" cy="287.4" r="1.73"/><circle cx="196.3" cy="289.9" r="1.73"/><circle cx="140.4" cy="261.3" r="1.73"/><circle cx="120.9" cy="304.2" r="1.73"/><circle cx="168.9" cy="295.3" r="1.73"/><circle cx="173.6" cy="294.3" r="1.73"/><circle cx="98.1" cy="306.1" r="1.73"/><circle cx="180.6" cy="305.2" r="1.73"/><circle cx="136.3" cy="289.4" r="1.73"/><circle cx="137.4" cy="298.3" r="1.73"/><circle cx="108.8" cy="303.3" r="1.73"/><circle cx="76.4" cy="310.1" r="1.73"/><circle cx="87.5" cy="314.5" r="1.73"/><circle cx="105.0" cy="288.4" r="1.73"/><circle cx="134.2" cy="292.5" r="1.73"/><circle cx="141.9" cy="274.8" r="1.73"/><circle cx="96.6" cy="297.2" r="1.73"/><circle cx="123.4" cy="303.1" r="1.73"/><circle cx="173.6" cy="272.3" r="1.73"/><circle cx="93.9" cy="284.5" r="1.73"/><circle cx="168.1" cy="292.5" r="1.73"/><circle cx="153.5" cy="285.5" r="1.73"/><circle cx="129.6" cy="292.1" r="1.73"/><circle cx="161.8" cy="214.9" r="1.73"/><circle cx="85.3" cy="307.7" r="1.73"/><circle cx="118.1" cy="314.2" r="1.73"/><circle cx="70.0" cy="274.0" r="1.73"/><circle cx="132.5" cy="295.0" r="1.73"/><circle cx="88.9" cy="281.5" r="1.73"/><circle cx="189.2" cy="286.4" r="1.73"/><circle cx="247.2" cy="256.3" r="1.73"/><circle cx="190.2" cy="293.8" r="1.73"/><circle cx="146.3" cy="259.9" r="1.73"/><circle cx="146.0" cy="275.6" r="1.73"/><circle cx="117.9" cy="309.6" r="1.73"/><circle cx="164.3" cy="225.5" r="1.73"/><circle cx="123.2" cy="298.7" r="1.73"/><circle cx="129.8" cy="275.7" r="1.73"/><circle cx="96.4" cy="279.9" r="1.73"/><circle cx="102.3" cy="286.3" r="1.73"/><circle cx="199.3" cy="240.4" r="1.73"/><circle cx="230.3" cy="247.2" r="1.73"/><circle cx="121.5" cy="307.5" r="1.73"/><circle cx="153.7" cy="305.5" r="1.73"/><circle cx="87.9" cy="275.2" r="1.73"/><circle cx="104.9" cy="307.7" r="1.73"/><circle cx="167.5" cy="286.9" r="1.73"/><circle cx="80.7" cy="282.0" r="1.73"/><circle cx="151.4" cy="293.3" r="1.73"/><circle cx="71.1" cy="343.0" r="1.73"/><circle cx="175.3" cy="305.6" r="1.73"/><circle cx="179.8" cy="282.1" r="1.73"/><circle cx="169.8" cy="254.5" r="1.73"/><circle cx="82.7" cy="287.3" r="1.73"/><circle cx="99.6" cy="269.3" r="1.73"/><circle cx="111.6" cy="306.6" r="1.73"/><circle cx="178.7" cy="298.8" r="1.73"/><circle cx="122.4" cy="289.4" r="1.73"/><circle cx="144.1" cy="292.3" r="1.73"/><circle cx="187.0" cy="298.8" r="1.73"/><circle cx="98.4" cy="281.5" r="1.73"/><circle cx="94.2" cy="314.3" r="1.73"/><circle cx="121.8" cy="271.2" r="1.73"/><circle cx="92.6" cy="322.9" r="1.73"/><circle cx="104.6" cy="291.4" r="1.73"/><circle cx="170.5" cy="288.6" r="1.73"/><circle cx="201.9" cy="264.1" r="1.73"/><circle cx="163.9" cy="267.2" r="1.73"/><circle cx="175.7" cy="283.5" r="1.73"/><circle cx="128.4" cy="281.0" r="1.73"/><circle cx="146.0" cy="301.7" r="1.73"/><circle cx="63.1" cy="322.9" r="1.73"/><circle cx="179.2" cy="276.1" r="1.73"/><circle cx="138.8" cy="258.4" r="1.73"/><circle cx="125.9" cy="314.6" r="1.73"/><circle cx="114.0" cy="306.0" r="1.73"/><circle cx="74.6" cy="297.3" r="1.73"/><circle cx="175.2" cy="286.1" r="1.73"/><circle cx="129.1" cy="255.2" r="1.73"/><circle cx="96.4" cy="286.1" r="1.73"/><circle cx="84.8" cy="310.1" r="1.73"/><circle cx="70.9" cy="294.9" r="1.73"/><circle cx="84.8" cy="270.4" r="1.73"/><circle cx="183.2" cy="259.4" r="1.73"/><circle cx="119.7" cy="279.5" r="1.73"/><circle cx="166.1" cy="305.5" r="1.73"/><circle cx="163.4" cy="294.8" r="1.73"/><circle cx="175.5" cy="307.5" r="1.73"/><circle cx="132.7" cy="296.7" r="1.73"/><circle cx="143.8" cy="293.3" r="1.73"/><circle cx="100.7" cy="270.7" r="1.73"/><circle cx="159.7" cy="292.3" r="1.73"/><circle cx="77.8" cy="312.1" r="1.73"/><circle cx="215.6" cy="285.2" r="1.73"/><circle cx="173.0" cy="250.5" r="1.73"/><circle cx="169.1" cy="270.4" r="1.73"/><circle cx="131.5" cy="283.5" r="1.73"/><circle cx="167.5" cy="290.6" r="1.73"/><circle cx="83.7" cy="317.0" r="1.73"/><circle cx="104.8" cy="255.6" r="1.73"/><circle cx="79.0" cy="282.0" r="1.73"/><circle cx="76.9" cy="290.3" r="1.73"/><circle cx="160.4" cy="288.2" r="1.73"/><circle cx="132.4" cy="273.6" r="1.73"/><circle cx="118.2" cy="291.9" r="1.73"/><circle cx="119.8" cy="278.6" r="1.73"/><circle cx="116.4" cy="287.9" r="1.73"/><circle cx="182.4" cy="221.0" r="1.73"/><circle cx="158.4" cy="262.3" r="1.73"/><circle cx="54.6" cy="332.4" r="1.73"/><circle cx="124.1" cy="313.5" r="1.73"/><circle cx="105.2" cy="320.5" r="1.73"/><circle cx="58.0" cy="295.3" r="1.73"/><circle cx="217.0" cy="226.1" r="1.73"/><circle cx="146.2" cy="290.4" r="1.73"/><circle cx="202.0" cy="273.6" r="1.73"/><circle cx="134.4" cy="232.8" r="1.73"/><circle cx="150.4" cy="254.5" r="1.73"/><circle cx="148.6" cy="299.0" r="1.73"/><circle cx="99.2" cy="314.3" r="1.73"/><circle cx="77.7" cy="297.3" r="1.73"/><circle cx="105.5" cy="299.0" r="1.73"/><circle cx="108.0" cy="246.8" r="1.73"/><circle cx="87.3" cy="305.8" r="1.73"/><circle cx="156.1" cy="300.9" r="1.73"/><circle cx="115.9" cy="282.2" r="1.73"/><circle cx="179.2" cy="281.5" r="1.73"/><circle cx="181.8" cy="240.2" r="1.73"/><circle cx="67.3" cy="328.2" r="1.73"/><circle cx="100.6" cy="246.8" r="1.73"/><circle cx="92.6" cy="273.6" r="1.73"/><circle cx="170.6" cy="292.6" r="1.73"/><circle cx="174.7" cy="250.5" r="1.73"/><circle cx="126.5" cy="296.8" r="1.73"/><circle cx="171.6" cy="308.1" r="1.73"/><circle cx="141.8" cy="280.2" r="1.73"/><circle cx="150.3" cy="255.4" r="1.73"/><circle cx="162.0" cy="284.0" r="1.73"/><circle cx="145.0" cy="279.7" r="1.73"/><circle cx="88.3" cy="313.5" r="1.73"/><circle cx="80.2" cy="262.6" r="1.73"/><circle cx="179.3" cy="286.0" r="1.73"/><circle cx="240.9" cy="268.3" r="1.73"/><circle cx="121.1" cy="260.8" r="1.73"/><circle cx="104.7" cy="292.8" r="1.73"/><circle cx="188.1" cy="321.7" r="1.73"/><circle cx="192.7" cy="299.0" r="1.73"/><circle cx="136.3" cy="269.2" r="1.73"/><circle cx="111.5" cy="271.7" r="1.73"/><circle cx="90.5" cy="305.8" r="1.73"/><circle cx="89.9" cy="298.9" r="1.73"/><circle cx="106.9" cy="282.0" r="1.73"/><circle cx="129.4" cy="272.4" r="1.73"/><circle cx="104.8" cy="258.2" r="1.73"/><circle cx="75.3" cy="332.4" r="1.73"/><circle cx="83.8" cy="277.5" r="1.73"/><circle cx="162.9" cy="292.6" r="1.73"/><circle cx="128.0" cy="288.4" r="1.73"/><circle cx="70.6" cy="292.8" r="1.73"/><circle cx="144.2" cy="312.5" r="1.73"/><circle cx="156.4" cy="289.9" r="1.73"/><circle cx="134.2" cy="286.5" r="1.73"/><circle cx="103.1" cy="273.0" r="1.73"/><circle cx="113.0" cy="272.2" r="1.73"/><circle cx="135.3" cy="300.3" r="1.73"/><circle cx="158.9" cy="275.6" r="1.73"/><circle cx="119.7" cy="296.8" r="1.73"/><circle cx="79.9" cy="323.3" r="1.73"/><circle cx="125.9" cy="309.1" r="1.73"/><circle cx="192.4" cy="226.1" r="1.73"/><circle cx="183.9" cy="288.7" r="1.73"/><circle cx="162.2" cy="255.4" r="1.73"/><circle cx="156.2" cy="314.8" r="1.73"/><circle cx="140.4" cy="254.2" r="1.73"/><circle cx="107.7" cy="268.2" r="1.73"/><circle cx="100.6" cy="298.7" r="1.73"/><circle cx="98.4" cy="320.6" r="1.73"/><circle cx="79.3" cy="320.4" r="1.73"/><circle cx="152.4" cy="268.2" r="1.73"/><circle cx="164.8" cy="307.9" r="1.73"/><circle cx="120.1" cy="285.0" r="1.73"/><circle cx="116.3" cy="276.6" r="1.73"/><circle cx="85.9" cy="272.5" r="1.73"/><circle cx="179.8" cy="275.1" r="1.73"/><circle cx="104.7" cy="270.2" r="1.73"/><circle cx="85.3" cy="319.9" r="1.73"/><circle cx="174.5" cy="264.4" r="1.73"/><circle cx="75.8" cy="314.5" r="1.73"/><circle cx="99.8" cy="290.4" r="1.73"/><circle cx="119.3" cy="288.2" r="1.73"/><circle cx="69.6" cy="311.9" r="1.73"/><circle cx="67.9" cy="322.9" r="1.73"/><circle cx="100.6" cy="307.6" r="1.73"/><circle cx="171.2" cy="257.9" r="1.73"/><circle cx="137.8" cy="296.8" r="1.73"/><circle cx="98.6" cy="277.1" r="1.73"/><circle cx="148.1" cy="315.6" r="1.73"/><circle cx="140.7" cy="328.6" r="1.73"/><circle cx="163.6" cy="300.7" r="1.73"/><circle cx="222.5" cy="261.5" r="1.73"/><circle cx="158.2" cy="272.7" r="1.73"/><circle cx="58.4" cy="314.3" r="1.73"/><circle cx="87.0" cy="277.1" r="1.73"/><circle cx="126.4" cy="317.6" r="1.73"/><circle cx="106.0" cy="300.5" r="1.73"/><circle cx="113.9" cy="331.2" r="1.73"/><circle cx="97.3" cy="314.7" r="1.73"/><circle cx="156.6" cy="247.5" r="1.73"/><circle cx="57.4" cy="303.7" r="1.73"/><circle cx="71.1" cy="307.6" r="1.73"/><circle cx="81.6" cy="246.8" r="1.73"/><circle cx="126.3" cy="281.9" r="1.73"/><circle cx="102.1" cy="288.9" r="1.73"/><circle cx="172.5" cy="282.5" r="1.73"/><circle cx="216.2" cy="256.7" r="1.73"/><circle cx="158.8" cy="249.5" r="1.73"/><circle cx="173.4" cy="267.7" r="1.73"/><circle cx="123.3" cy="277.7" r="1.73"/><circle cx="111.0" cy="284.4" r="1.73"/><circle cx="163.3" cy="285.9" r="1.73"/><circle cx="147.5" cy="291.9" r="1.73"/><circle cx="78.9" cy="284.1" r="1.73"/><circle cx="147.6" cy="275.1" r="1.73"/><circle cx="107.0" cy="284.7" r="1.73"/><circle cx="133.3" cy="281.8" r="1.73"/><circle cx="158.1" cy="245.6" r="1.73"/><circle cx="134.5" cy="302.9" r="1.73"/><circle cx="102.7" cy="246.8" r="1.73"/><circle cx="151.7" cy="301.2" r="1.73"/><circle cx="123.6" cy="277.5" r="1.73"/><circle cx="75.6" cy="307.3" r="1.73"/><circle cx="104.9" cy="290.6" r="1.73"/><circle cx="128.3" cy="297.3" r="1.73"/><circle cx="158.1" cy="281.5" r="1.73"/><circle cx="134.4" cy="275.3" r="1.73"/><circle cx="243.0" cy="260.3" r="1.73"/><circle cx="209.2" cy="256.7" r="1.73"/><circle cx="104.7" cy="303.7" r="1.73"/><circle cx="123.4" cy="265.8" r="1.73"/><circle cx="133.5" cy="300.6" r="1.73"/><circle cx="189.3" cy="267.2" r="1.73"/><circle cx="169.5" cy="269.8" r="1.73"/><circle cx="144.9" cy="329.7" r="1.73"/><circle cx="102.7" cy="275.0" r="1.73"/><circle cx="158.1" cy="303.4" r="1.73"/><circle cx="115.8" cy="302.7" r="1.73"/><circle cx="101.8" cy="277.4" r="1.73"/><circle cx="133.4" cy="305.9" r="1.73"/><circle cx="120.1" cy="291.4" r="1.73"/><circle cx="121.2" cy="298.9" r="1.73"/><circle cx="89.6" cy="305.6" r="1.73"/><circle cx="131.2" cy="329.7" r="1.73"/><circle cx="100.7" cy="279.7" r="1.73"/><circle cx="114.4" cy="290.1" r="1.73"/><circle cx="112.3" cy="272.6" r="1.73"/><circle cx="111.9" cy="291.4" r="1.73"/><circle cx="189.6" cy="321.7" r="1.73"/><circle cx="136.1" cy="294.9" r="1.73"/><circle cx="188.8" cy="244.0" r="1.73"/><circle cx="141.2" cy="280.5" r="1.73"/><circle cx="176.5" cy="274.9" r="1.73"/><circle cx="158.6" cy="300.2" r="1.73"/><circle cx="127.5" cy="253.0" r="1.73"/><circle cx="118.2" cy="292.4" r="1.73"/><circle cx="108.0" cy="221.0" r="1.73"/><circle cx="152.2" cy="280.2" r="1.73"/><circle cx="131.2" cy="288.5" r="1.73"/><circle cx="140.3" cy="286.5" r="1.73"/><circle cx="103.2" cy="272.7" r="1.73"/><circle cx="104.1" cy="277.5" r="1.73"/><circle cx="150.6" cy="284.6" r="1.73"/><circle cx="72.3" cy="311.1" r="1.73"/><circle cx="48.9" cy="330.7" r="1.73"/><circle cx="227.2" cy="255.2" r="1.73"/><circle cx="138.9" cy="288.2" r="1.73"/><circle cx="106.8" cy="303.7" r="1.73"/><circle cx="128.1" cy="320.4" r="1.73"/><circle cx="192.4" cy="248.2" r="1.73"/><circle cx="105.4" cy="277.1" r="1.73"/><circle cx="83.6" cy="297.3" r="1.73"/><circle cx="134.9" cy="291.9" r="1.73"/><circle cx="189.6" cy="281.0" r="1.73"/><circle cx="256.3" cy="261.5" r="1.73"/><circle cx="140.2" cy="279.5" r="1.73"/><circle cx="174.7" cy="277.5" r="1.73"/><circle cx="84.2" cy="303.0" r="1.73"/><circle cx="72.1" cy="316.0" r="1.73"/><circle cx="87.9" cy="310.1" r="1.73"/><circle cx="112.5" cy="293.3" r="1.73"/><circle cx="95.0" cy="286.4" r="1.73"/><circle cx="79.1" cy="277.8" r="1.73"/><circle cx="121.2" cy="305.8" r="1.73"/><circle cx="130.7" cy="306.1" r="1.73"/><circle cx="170.6" cy="288.3" r="1.73"/><circle cx="145.7" cy="292.3" r="1.73"/><circle cx="152.7" cy="285.5" r="1.73"/><circle cx="121.6" cy="292.3" r="1.73"/><circle cx="78.5" cy="317.0" r="1.73"/><circle cx="101.7" cy="295.3" r="1.73"/><circle cx="68.8" cy="317.0" r="1.73"/><circle cx="125.9" cy="330.7" r="1.73"/><circle cx="152.7" cy="299.2" r="1.73"/><circle cx="136.5" cy="296.3" r="1.73"/><circle cx="195.4" cy="263.7" r="1.73"/><circle cx="86.8" cy="321.9" r="1.73"/><circle cx="112.0" cy="280.2" r="1.73"/><circle cx="200.9" cy="260.8" r="1.73"/><circle cx="148.3" cy="256.9" r="1.73"/><circle cx="104.1" cy="292.8" r="1.73"/><circle cx="151.1" cy="290.7" r="1.73"/><circle cx="171.1" cy="296.8" r="1.73"/><circle cx="104.6" cy="307.8" r="1.73"/><circle cx="71.1" cy="299.1" r="1.73"/><circle cx="171.3" cy="317.0" r="1.73"/><circle cx="127.9" cy="288.7" r="1.73"/><circle cx="132.8" cy="273.1" r="1.73"/><circle cx="111.5" cy="312.0" r="1.73"/><circle cx="151.9" cy="291.4" r="1.73"/><circle cx="214.5" cy="282.6" r="1.73"/><circle cx="125.5" cy="278.1" r="1.73"/><circle cx="207.1" cy="256.7" r="1.73"/><circle cx="90.1" cy="328.2" r="1.73"/><circle cx="139.6" cy="305.6" r="1.73"/><circle cx="151.2" cy="310.2" r="1.73"/><circle cx="193.7" cy="284.4" r="1.73"/><circle cx="149.7" cy="290.6" r="1.73"/><circle cx="99.3" cy="274.1" r="1.73"/><circle cx="154.3" cy="289.4" r="1.73"/><circle cx="123.8" cy="292.8" r="1.73"/><circle cx="116.6" cy="288.4" r="1.73"/><circle cx="180.8" cy="253.0" r="1.73"/><circle cx="212.4" cy="269.3" r="1.73"/><circle cx="156.1" cy="290.5" r="1.73"/><circle cx="154.6" cy="290.9" r="1.73"/><circle cx="125.7" cy="277.9" r="1.73"/><circle cx="183.3" cy="238.8" r="1.73"/><circle cx="137.4" cy="277.4" r="1.73"/><circle cx="83.0" cy="317.1" r="1.73"/><circle cx="127.5" cy="294.9" r="1.73"/><circle cx="134.4" cy="221.0" r="1.73"/><circle cx="175.9" cy="259.9" r="1.73"/><circle cx="163.1" cy="294.7" r="1.73"/><circle cx="147.5" cy="267.1" r="1.73"/><circle cx="179.7" cy="289.4" r="1.73"/><circle cx="80.9" cy="296.7" r="1.73"/><circle cx="85.8" cy="323.2" r="1.73"/><circle cx="102.6" cy="294.3" r="1.73"/><circle cx="143.6" cy="290.9" r="1.73"/><circle cx="137.8" cy="276.6" r="1.73"/><circle cx="120.4" cy="273.0" r="1.73"/><circle cx="195.5" cy="300.8" r="1.73"/><circle cx="123.7" cy="320.4" r="1.73"/><circle cx="101.8" cy="292.5" r="1.73"/><circle cx="102.5" cy="309.5" r="1.73"/><circle cx="79.5" cy="309.6" r="1.73"/><circle cx="133.9" cy="305.9" r="1.73"/><circle cx="169.0" cy="265.8" r="1.73"/><circle cx="156.5" cy="333.9" r="1.73"/><circle cx="159.3" cy="307.8" r="1.73"/><circle cx="148.1" cy="221.0" r="1.73"/><circle cx="158.6" cy="314.9" r="1.73"/><circle cx="68.6" cy="290.7" r="1.73"/><circle cx="82.2" cy="311.1" r="1.73"/><circle cx="94.0" cy="274.1" r="1.73"/><circle cx="64.3" cy="314.6" r="1.73"/><circle cx="187.9" cy="286.1" r="1.73"/><circle cx="181.2" cy="289.9" r="1.73"/><circle cx="145.9" cy="290.9" r="1.73"/><circle cx="139.3" cy="293.3" r="1.73"/><circle cx="178.3" cy="279.9" r="1.73"/><circle cx="131.1" cy="285.9" r="1.73"/><circle cx="119.7" cy="296.8" r="1.73"/><circle cx="134.4" cy="328.6" r="1.73"/><circle cx="114.0" cy="294.8" r="1.73"/><circle cx="73.9" cy="311.1" r="1.73"/><circle cx="135.1" cy="300.7" r="1.73"/><circle cx="97.2" cy="289.9" r="1.73"/><circle cx="125.9" cy="275.5" r="1.73"/><circle cx="145.6" cy="291.4" r="1.73"/><circle cx="115.4" cy="251.8" r="1.73"/><circle cx="101.1" cy="286.3" r="1.73"/><circle cx="183.9" cy="293.3" r="1.73"/><circle cx="154.4" cy="279.5" r="1.73"/><circle cx="99.3" cy="312.2" r="1.73"/><circle cx="195.0" cy="290.5" r="1.73"/><circle cx="136.8" cy="280.0" r="1.73"/><circle cx="143.6" cy="275.2" r="1.73"/><circle cx="128.2" cy="292.1" r="1.73"/><circle cx="175.8" cy="250.7" r="1.73"/><circle cx="144.3" cy="294.9" r="1.73"/><circle cx="152.7" cy="294.8" r="1.73"/><circle cx="142.0" cy="282.3" r="1.73"/><circle cx="105.2" cy="299.7" r="1.73"/><circle cx="89.7" cy="317.4" r="1.73"/><circle cx="90.7" cy="296.3" r="1.73"/><circle cx="162.8" cy="297.0" r="1.73"/><circle cx="134.2" cy="300.8" r="1.73"/><circle cx="154.4" cy="262.8" r="1.73"/><circle cx="102.9" cy="307.4" r="1.73"/><circle cx="81.3" cy="305.6" r="1.73"/><circle cx="152.8" cy="296.8" r="1.73"/><circle cx="181.2" cy="290.3" r="1.73"/><circle cx="123.1" cy="283.0" r="1.73"/><circle cx="141.0" cy="292.1" r="1.73"/><circle cx="164.6" cy="293.3" r="1.73"/><circle cx="105.4" cy="311.6" r="1.73"/><circle cx="173.0" cy="255.4" r="1.73"/><circle cx="181.7" cy="299.7" r="1.73"/><circle cx="164.6" cy="303.4" r="1.73"/><circle cx="187.0" cy="295.3" r="1.73"/><circle cx="144.6" cy="274.8" r="1.73"/><circle cx="146.5" cy="302.7" r="1.73"/><circle cx="197.2" cy="280.5" r="1.73"/><circle cx="101.6" cy="303.1" r="1.73"/><circle cx="116.5" cy="297.3" r="1.73"/><circle cx="124.2" cy="274.6" r="1.73"/><circle cx="127.3" cy="291.9" r="1.73"/><circle cx="170.0" cy="303.0" r="1.73"/><circle cx="119.6" cy="312.5" r="1.73"/><circle cx="197.6" cy="298.5" r="1.73"/><circle cx="116.8" cy="281.9" r="1.73"/><circle cx="124.2" cy="281.5" r="1.73"/><circle cx="103.8" cy="273.6" r="1.73"/><circle cx="103.2" cy="312.0" r="1.73"/><circle cx="117.0" cy="290.4" r="1.73"/><circle cx="97.5" cy="282.1" r="1.73"/><circle cx="166.1" cy="267.7" r="1.73"/><circle cx="171.5" cy="263.3" r="1.73"/><circle cx="129.6" cy="290.9" r="1.73"/><circle cx="141.9" cy="261.6" r="1.73"/><circle cx="146.6" cy="317.9" r="1.73"/><circle cx="132.6" cy="277.6" r="1.73"/><circle cx="138.0" cy="301.7" r="1.73"/><circle cx="144.2" cy="250.0" r="1.73"/><circle cx="43.7" cy="322.9" r="1.73"/><circle cx="122.6" cy="297.3" r="1.73"/><circle cx="123.8" cy="232.8" r="1.73"/><circle cx="146.0" cy="247.2" r="1.73"/><circle cx="120.6" cy="316.5" r="1.73"/><circle cx="87.9" cy="278.0" r="1.73"/><circle cx="138.0" cy="268.7" r="1.73"/><circle cx="102.8" cy="276.6" r="1.73"/><circle cx="160.1" cy="307.3" r="1.73"/><circle cx="153.5" cy="309.6" r="1.73"/><circle cx="178.6" cy="276.1" r="1.73"/><circle cx="146.7" cy="307.5" r="1.73"/><circle cx="143.5" cy="261.3" r="1.73"/><circle cx="161.0" cy="290.9" r="1.73"/><circle cx="119.8" cy="290.5" r="1.73"/><circle cx="118.6" cy="298.8" r="1.73"/><circle cx="188.1" cy="300.2" r="1.73"/><circle cx="151.2" cy="277.1" r="1.73"/><circle cx="100.3" cy="304.7" r="1.73"/><circle cx="149.5" cy="268.2" r="1.73"/><circle cx="145.0" cy="289.4" r="1.73"/><circle cx="143.3" cy="304.2" r="1.73"/><circle cx="116.7" cy="296.7" r="1.73"/><circle cx="113.6" cy="270.1" r="1.73"/><circle cx="119.4" cy="302.7" r="1.73"/><circle cx="105.7" cy="292.3" r="1.73"/><circle cx="126.9" cy="300.5" r="1.73"/><circle cx="131.6" cy="300.9" r="1.73"/><circle cx="167.0" cy="310.7" r="1.73"/><circle cx="144.1" cy="280.1" r="1.73"/><circle cx="156.3" cy="295.3" r="1.73"/><circle cx="78.7" cy="299.7" r="1.73"/><circle cx="207.8" cy="297.0" r="1.73"/><circle cx="69.6" cy="303.2" r="1.73"/><circle cx="52.1" cy="332.4" r="1.73"/><circle cx="171.0" cy="266.8" r="1.73"/><circle cx="148.2" cy="258.1" r="1.73"/><circle cx="68.7" cy="317.5" r="1.73"/><circle cx="166.4" cy="288.3" r="1.73"/><circle cx="120.0" cy="309.6" r="1.73"/><circle cx="155.5" cy="286.3" r="1.73"/><circle cx="96.7" cy="271.7" r="1.73"/><circle cx="71.1" cy="309.1" r="1.73"/><circle cx="80.5" cy="309.9" r="1.73"/><circle cx="163.4" cy="275.1" r="1.73"/><circle cx="202.3" cy="249.7" r="1.73"/><circle cx="123.2" cy="280.3" r="1.73"/><circle cx="165.8" cy="298.5" r="1.73"/><circle cx="120.8" cy="272.6" r="1.73"/><circle cx="139.7" cy="315.5" r="1.73"/><circle cx="256.7" cy="266.2" r="1.73"/><circle cx="161.5" cy="323.1" r="1.73"/><circle cx="149.9" cy="317.7" r="1.73"/><circle cx="145.7" cy="315.0" r="1.73"/><circle cx="143.6" cy="295.3" r="1.73"/><circle cx="187.7" cy="282.1" r="1.73"/><circle cx="156.3" cy="275.3" r="1.73"/><circle cx="121.7" cy="280.5" r="1.73"/><circle cx="157.9" cy="294.8" r="1.73"/><circle cx="125.7" cy="292.3" r="1.73"/><circle cx="132.9" cy="283.0" r="1.73"/><circle cx="222.5" cy="250.4" r="1.73"/><circle cx="153.7" cy="272.4" r="1.73"/><circle cx="252.1" cy="256.7" r="1.73"/><circle cx="110.8" cy="305.9" r="1.73"/><circle cx="99.4" cy="292.3" r="1.73"/><circle cx="180.8" cy="238.8" r="1.73"/><circle cx="168.2" cy="298.7" r="1.73"/><circle cx="92.3" cy="316.5" r="1.73"/><circle cx="217.7" cy="270.4" r="1.73"/><circle cx="137.4" cy="292.3" r="1.73"/><circle cx="144.6" cy="281.9" r="1.73"/><circle cx="124.3" cy="275.1" r="1.73"/><circle cx="91.1" cy="278.8" r="1.73"/><circle cx="83.9" cy="296.7" r="1.73"/><circle cx="128.0" cy="267.1" r="1.73"/><circle cx="117.8" cy="312.1" r="1.73"/><circle cx="140.7" cy="250.4" r="1.73"/><circle cx="153.3" cy="314.7" r="1.73"/><circle cx="157.5" cy="282.0" r="1.73"/><circle cx="137.2" cy="277.4" r="1.73"/><circle cx="82.3" cy="298.2" r="1.73"/><circle cx="122.5" cy="277.5" r="1.73"/><circle cx="102.4" cy="264.5" r="1.73"/><circle cx="140.7" cy="275.0" r="1.73"/><circle cx="178.6" cy="272.4" r="1.73"/><circle cx="60.5" cy="292.8" r="1.73"/><circle cx="156.7" cy="277.8" r="1.73"/><circle cx="120.2" cy="324.8" r="1.73"/><circle cx="138.6" cy="292.5" r="1.73"/><circle cx="160.3" cy="289.4" r="1.73"/><circle cx="198.7" cy="244.5" r="1.73"/><circle cx="122.7" cy="285.0" r="1.73"/><circle cx="171.3" cy="241.3" r="1.73"/><circle cx="190.1" cy="254.3" r="1.73"/><circle cx="117.5" cy="322.9" r="1.73"/><circle cx="133.1" cy="323.4" r="1.73"/><circle cx="151.4" cy="303.2" r="1.73"/><circle cx="134.4" cy="286.5" r="1.73"/><circle cx="157.4" cy="284.4" r="1.73"/><circle cx="163.5" cy="290.4" r="1.73"/><circle cx="139.2" cy="315.5" r="1.73"/><circle cx="172.3" cy="288.5" r="1.73"/><circle cx="176.6" cy="275.4" r="1.73"/><circle cx="136.6" cy="298.7" r="1.73"/><circle cx="82.2" cy="285.9" r="1.73"/><circle cx="177.7" cy="294.7" r="1.73"/><circle cx="176.7" cy="298.6" r="1.73"/><circle cx="92.2" cy="287.3" r="1.73"/><circle cx="119.3" cy="272.7" r="1.73"/><circle cx="112.4" cy="295.0" r="1.73"/><circle cx="130.0" cy="314.7" r="1.73"/><circle cx="91.0" cy="281.5" r="1.73"/><circle cx="154.2" cy="293.8" r="1.73"/><circle cx="133.2" cy="307.6" r="1.73"/><circle cx="122.8" cy="298.8" r="1.73"/><circle cx="134.9" cy="282.5" r="1.73"/><circle cx="148.5" cy="317.0" r="1.73"/><circle cx="153.0" cy="257.7" r="1.73"/><circle cx="122.8" cy="254.6" r="1.73"/><circle cx="134.0" cy="267.3" r="1.73"/><circle cx="227.8" cy="285.2" r="1.73"/><circle cx="172.2" cy="270.2" r="1.73"/><circle cx="122.3" cy="305.7" r="1.73"/><circle cx="106.4" cy="303.5" r="1.73"/><circle cx="101.5" cy="300.8" r="1.73"/><circle cx="112.2" cy="263.0" r="1.73"/><circle cx="201.8" cy="256.4" r="1.73"/><circle cx="74.9" cy="273.6" r="1.73"/><circle cx="185.1" cy="294.8" r="1.73"/><circle cx="164.3" cy="271.2" r="1.73"/><circle cx="158.1" cy="281.5" r="1.73"/><circle cx="153.3" cy="254.6" r="1.73"/><circle cx="99.3" cy="315.1" r="1.73"/><circle cx="126.3" cy="303.1" r="1.73"/><circle cx="140.4" cy="292.7" r="1.73"/><circle cx="188.2" cy="282.5" r="1.73"/><circle cx="183.0" cy="272.2" r="1.73"/><circle cx="154.6" cy="299.7" r="1.73"/><circle cx="186.7" cy="261.1" r="1.73"/><circle cx="78.9" cy="317.1" r="1.73"/><circle cx="145.3" cy="282.4" r="1.73"/><circle cx="148.4" cy="270.4" r="1.73"/><circle cx="106.0" cy="294.9" r="1.73"/><circle cx="190.8" cy="282.0" r="1.73"/><circle cx="144.4" cy="305.4" r="1.73"/><circle cx="163.1" cy="297.8" r="1.73"/><circle cx="98.3" cy="311.8" r="1.73"/><circle cx="137.4" cy="309.1" r="1.73"/><circle cx="144.9" cy="254.2" r="1.73"/><circle cx="157.8" cy="272.7" r="1.73"/><circle cx="124.8" cy="301.2" r="1.73"/><circle cx="184.9" cy="267.7" r="1.73"/><circle cx="98.9" cy="262.4" r="1.73"/><circle cx="148.9" cy="313.0" r="1.73"/><circle cx="140.0" cy="280.0" r="1.73"/><circle cx="142.9" cy="290.9" r="1.73"/><circle cx="169.3" cy="292.3" r="1.73"/><circle cx="167.8" cy="303.4" r="1.73"/><circle cx="96.8" cy="310.5" r="1.73"/><circle cx="113.7" cy="317.5" r="1.73"/><circle cx="101.7" cy="330.7" r="1.73"/><circle cx="151.5" cy="305.5" r="1.73"/><circle cx="131.3" cy="307.1" r="1.73"/><circle cx="162.7" cy="272.8" r="1.73"/><circle cx="86.1" cy="312.0" r="1.73"/><circle cx="127.0" cy="258.1" r="1.73"/><circle cx="76.4" cy="302.3" r="1.73"/><circle cx="122.4" cy="262.3" r="1.73"/><circle cx="105.5" cy="286.9" r="1.73"/><circle cx="186.0" cy="283.0" r="1.73"/><circle cx="147.0" cy="292.2" r="1.73"/><circle cx="114.8" cy="306.1" r="1.73"/><circle cx="146.2" cy="301.1" r="1.73"/><circle cx="92.3" cy="284.0" r="1.73"/><circle cx="176.0" cy="241.1" r="1.73"/><circle cx="91.0" cy="294.6" r="1.73"/><circle cx="182.1" cy="292.3" r="1.73"/><circle cx="154.9" cy="276.6" r="1.73"/><circle cx="83.2" cy="314.5" r="1.73"/><circle cx="127.2" cy="290.1" r="1.73"/><circle cx="67.5" cy="311.9" r="1.73"/><circle cx="144.9" cy="277.1" r="1.73"/><circle cx="91.5" cy="294.8" r="1.73"/><circle cx="115.6" cy="290.9" r="1.73"/><circle cx="173.6" cy="277.6" r="1.73"/><circle cx="168.7" cy="248.0" r="1.73"/><circle cx="138.9" cy="292.4" r="1.73"/><circle cx="172.8" cy="267.2" r="1.73"/><circle cx="43.2" cy="314.3" r="1.73"/><circle cx="172.4" cy="302.2" r="1.73"/><circle cx="123.8" cy="329.7" r="1.73"/><circle cx="131.7" cy="283.0" r="1.73"/><circle cx="94.6" cy="294.8" r="1.73"/><circle cx="99.0" cy="286.1" r="1.73"/><circle cx="106.0" cy="281.7" r="1.73"/><circle cx="172.3" cy="305.4" r="1.73"/><circle cx="117.7" cy="289.9" r="1.73"/><circle cx="146.3" cy="285.5" r="1.73"/><circle cx="125.0" cy="301.2" r="1.73"/><circle cx="63.1" cy="343.0" r="1.73"/><circle cx="148.1" cy="264.8" r="1.73"/><circle cx="184.9" cy="279.1" r="1.73"/><circle cx="96.0" cy="299.1" r="1.73"/><circle cx="78.0" cy="301.2" r="1.73"/><circle cx="123.8" cy="277.5" r="1.73"/><circle cx="160.0" cy="292.8" r="1.73"/><circle cx="142.1" cy="290.4" r="1.73"/><circle cx="123.9" cy="284.2" r="1.73"/><circle cx="160.6" cy="297.1" r="1.73"/><circle cx="144.2" cy="294.3" r="1.73"/><circle cx="205.0" cy="266.2" r="1.73"/><circle cx="138.1" cy="266.3" r="1.73"/><circle cx="123.2" cy="257.8" r="1.73"/><circle cx="146.0" cy="235.6" r="1.73"/><circle cx="142.8" cy="296.5" r="1.73"/><circle cx="126.1" cy="267.2" r="1.73"/><circle cx="137.8" cy="293.8" r="1.73"/><circle cx="203.5" cy="294.9" r="1.73"/><circle cx="133.7" cy="261.4" r="1.73"/><circle cx="67.2" cy="320.1" r="1.73"/><circle cx="131.8" cy="302.7" r="1.73"/><circle cx="145.2" cy="290.7" r="1.73"/><circle cx="148.9" cy="293.8" r="1.73"/><circle cx="80.5" cy="310.0" r="1.73"/><circle cx="134.6" cy="281.5" r="1.73"/><circle cx="136.1" cy="294.6" r="1.73"/><circle cx="135.4" cy="255.2" r="1.73"/><circle cx="175.2" cy="290.4" r="1.73"/><circle cx="126.5" cy="314.5" r="1.73"/><circle cx="73.6" cy="320.2" r="1.73"/><circle cx="86.1" cy="299.7" r="1.73"/><circle cx="160.7" cy="289.4" r="1.73"/><circle cx="149.0" cy="290.9" r="1.73"/><circle cx="195.5" cy="264.3" r="1.73"/><circle cx="118.0" cy="272.9" r="1.73"/><circle cx="91.7" cy="286.6" r="1.73"/><circle cx="195.0" cy="255.9" r="1.73"/><circle cx="186.0" cy="315.6" r="1.73"/><circle cx="144.1" cy="288.5" r="1.73"/><circle cx="109.1" cy="269.2" r="1.73"/><circle cx="114.4" cy="263.8" r="1.73"/><circle cx="130.5" cy="276.1" r="1.73"/><circle cx="156.1" cy="298.3" r="1.73"/><circle cx="129.1" cy="261.1" r="1.73"/><circle cx="165.2" cy="284.8" r="1.73"/><circle cx="71.5" cy="310.1" r="1.73"/><circle cx="133.4" cy="279.1" r="1.73"/><circle cx="127.9" cy="263.3" r="1.73"/><circle cx="146.6" cy="275.1" r="1.73"/><circle cx="99.0" cy="303.3" r="1.73"/><circle cx="132.6" cy="287.9" r="1.73"/><circle cx="173.6" cy="243.6" r="1.73"/><circle cx="101.7" cy="322.9" r="1.73"/><circle cx="196.6" cy="249.7" r="1.73"/><circle cx="108.7" cy="306.1" r="1.73"/><circle cx="129.9" cy="280.0" r="1.73"/><circle cx="194.3" cy="277.2" r="1.73"/><circle cx="112.0" cy="283.0" r="1.73"/><circle cx="90.7" cy="294.5" r="1.73"/><circle cx="146.3" cy="263.8" r="1.73"/><circle cx="148.2" cy="291.4" r="1.73"/><circle cx="201.4" cy="270.3" r="1.73"/><circle cx="144.2" cy="309.7" r="1.73"/><circle cx="126.3" cy="259.9" r="1.73"/><circle cx="130.5" cy="279.8" r="1.73"/><circle cx="54.6" cy="343.0" r="1.73"/><circle cx="179.9" cy="293.3" r="1.73"/><circle cx="137.2" cy="311.7" r="1.73"/><circle cx="114.8" cy="288.9" r="1.73"/><circle cx="148.1" cy="292.6" r="1.73"/><circle cx="165.8" cy="290.5" r="1.73"/><circle cx="94.9" cy="311.7" r="1.73"/><circle cx="141.8" cy="304.7" r="1.73"/><circle cx="121.8" cy="312.0" r="1.73"/><circle cx="140.2" cy="277.5" r="1.73"/><circle cx="172.3" cy="225.5" r="1.73"/><circle cx="77.0" cy="246.8" r="1.73"/><circle cx="99.2" cy="289.9" r="1.73"/><circle cx="96.1" cy="290.5" r="1.73"/><circle cx="118.0" cy="279.5" r="1.73"/><circle cx="63.7" cy="300.2" r="1.73"/><circle cx="175.3" cy="303.2" r="1.73"/><circle cx="175.5" cy="296.3" r="1.73"/><circle cx="194.1" cy="254.4" r="1.73"/><circle cx="169.5" cy="284.7" r="1.73"/><circle cx="87.0" cy="279.6" r="1.73"/><circle cx="101.3" cy="303.3" r="1.73"/><circle cx="175.4" cy="267.4" r="1.73"/><circle cx="153.4" cy="296.7" r="1.73"/><circle cx="148.1" cy="329.7" r="1.73"/><circle cx="167.6" cy="243.2" r="1.73"/><circle cx="156.0" cy="277.1" r="1.73"/><circle cx="185.4" cy="250.4" r="1.73"/><circle cx="96.0" cy="290.2" r="1.73"/><circle cx="169.0" cy="298.9" r="1.73"/><circle cx="101.5" cy="313.5" r="1.73"/><circle cx="163.2" cy="286.8" r="1.73"/><circle cx="148.3" cy="284.3" r="1.73"/><circle cx="156.1" cy="291.9" r="1.73"/><circle cx="161.4" cy="290.9" r="1.73"/><circle cx="165.8" cy="305.6" r="1.73"/><circle cx="191.8" cy="264.0" r="1.73"/><circle cx="63.7" cy="330.7" r="1.73"/><circle cx="187.1" cy="225.5" r="1.73"/><circle cx="153.8" cy="292.1" r="1.73"/><circle cx="105.8" cy="307.7" r="1.73"/><circle cx="139.3" cy="290.9" r="1.73"/><circle cx="121.8" cy="281.5" r="1.73"/><circle cx="156.5" cy="299.7" r="1.73"/><circle cx="166.6" cy="264.2" r="1.73"/><circle cx="123.3" cy="298.3" r="1.73"/><circle cx="203.5" cy="302.9" r="1.73"/><circle cx="133.5" cy="281.0" r="1.73"/><circle cx="200.4" cy="270.2" r="1.73"/><circle cx="118.4" cy="296.3" r="1.73"/><circle cx="89.9" cy="314.6" r="1.73"/><circle cx="122.5" cy="269.2" r="1.73"/><circle cx="189.2" cy="303.7" r="1.73"/><circle cx="86.2" cy="298.7" r="1.73"/><circle cx="138.1" cy="320.4" r="1.73"/><circle cx="153.0" cy="323.5" r="1.73"/><circle cx="198.7" cy="285.2" r="1.73"/><circle cx="99.8" cy="288.9" r="1.73"/><circle cx="148.3" cy="288.6" r="1.73"/><circle cx="108.1" cy="296.7" r="1.73"/><circle cx="246.2" cy="260.9" r="1.73"/><circle cx="116.1" cy="322.4" r="1.73"/><circle cx="172.1" cy="254.1" r="1.73"/><circle cx="215.6" cy="269.3" r="1.73"/><circle cx="99.3" cy="307.6" r="1.73"/><circle cx="100.1" cy="273.6" r="1.73"/><circle cx="94.1" cy="303.2" r="1.73"/><circle cx="108.3" cy="301.0" r="1.73"/><circle cx="105.7" cy="312.0" r="1.73"/><circle cx="174.0" cy="276.6" r="1.73"/><circle cx="173.9" cy="292.8" r="1.73"/><circle cx="109.1" cy="322.9" r="1.73"/><circle cx="142.8" cy="312.4" r="1.73"/><circle cx="200.8" cy="244.0" r="1.73"/><circle cx="113.2" cy="270.1" r="1.73"/><circle cx="160.5" cy="261.5" r="1.73"/><circle cx="161.3" cy="247.2" r="1.73"/><circle cx="174.4" cy="273.6" r="1.73"/><circle cx="125.3" cy="355.6" r="1.73"/><circle cx="93.9" cy="246.8" r="1.73"/><circle cx="239.2" cy="249.7" r="1.73"/><circle cx="171.9" cy="314.4" r="1.73"/><circle cx="181.3" cy="277.4" r="1.73"/><circle cx="129.4" cy="309.1" r="1.73"/><circle cx="93.6" cy="309.6" r="1.73"/><circle cx="133.5" cy="295.4" r="1.73"/><circle cx="77.5" cy="314.6" r="1.73"/><circle cx="122.6" cy="296.3" r="1.73"/><circle cx="191.7" cy="255.4" r="1.73"/><circle cx="112.7" cy="298.7" r="1.73"/><circle cx="92.9" cy="317.0" r="1.73"/><circle cx="188.7" cy="271.7" r="1.73"/><circle cx="232.4" cy="260.3" r="1.73"/><circle cx="123.0" cy="287.4" r="1.73"/><circle cx="106.2" cy="287.8" r="1.73"/><circle cx="167.1" cy="275.5" r="1.73"/><circle cx="110.4" cy="301.0" r="1.73"/><circle cx="101.6" cy="295.0" r="1.73"/><circle cx="116.4" cy="347.8" r="1.73"/><circle cx="148.1" cy="267.7" r="1.73"/><circle cx="111.8" cy="286.9" r="1.73"/><circle cx="82.6" cy="320.7" r="1.73"/><circle cx="176.1" cy="248.2" r="1.73"/><circle cx="41.5" cy="322.9" r="1.73"/><circle cx="94.9" cy="305.6" r="1.73"/><circle cx="56.7" cy="322.9" r="1.73"/><circle cx="66.1" cy="319.4" r="1.73"/><circle cx="183.9" cy="293.8" r="1.73"/><circle cx="56.7" cy="332.4" r="1.73"/><circle cx="76.7" cy="307.9" r="1.73"/><circle cx="199.4" cy="274.6" r="1.73"/><circle cx="102.1" cy="286.7" r="1.73"/><circle cx="169.2" cy="316.0" r="1.73"/><circle cx="165.4" cy="296.3" r="1.73"/><circle cx="183.1" cy="297.3" r="1.73"/><circle cx="138.9" cy="298.3" r="1.73"/><circle cx="185.5" cy="284.0" r="1.73"/><circle cx="91.0" cy="315.5" r="1.73"/><circle cx="110.4" cy="280.2" r="1.73"/><circle cx="138.5" cy="307.1" r="1.73"/><circle cx="180.1" cy="280.5" r="1.73"/><circle cx="129.5" cy="281.7" r="1.73"/><circle cx="170.8" cy="298.3" r="1.73"/><circle cx="189.7" cy="292.7" r="1.73"/><circle cx="163.2" cy="288.8" r="1.73"/><circle cx="85.4" cy="267.2" r="1.73"/><circle cx="79.8" cy="294.6" r="1.73"/><circle cx="189.9" cy="292.3" r="1.73"/><circle cx="80.1" cy="310.1" r="1.73"/><circle cx="87.2" cy="316.5" r="1.73"/><circle cx="82.6" cy="287.9" r="1.73"/><circle cx="104.9" cy="314.7" r="1.73"/><circle cx="175.6" cy="295.0" r="1.73"/><circle cx="73.8" cy="305.3" r="1.73"/><circle cx="169.6" cy="285.5" r="1.73"/><circle cx="145.1" cy="284.5" r="1.73"/><circle cx="135.5" cy="277.6" r="1.73"/><circle cx="85.9" cy="287.3" r="1.73"/><circle cx="64.1" cy="314.9" r="1.73"/><circle cx="184.9" cy="306.1" r="1.73"/><circle cx="116.6" cy="296.6" r="1.73"/><circle cx="101.5" cy="286.4" r="1.73"/><circle cx="172.3" cy="277.3" r="1.73"/><circle cx="162.6" cy="312.5" r="1.73"/><circle cx="181.2" cy="279.8" r="1.73"/><circle cx="147.4" cy="292.0" r="1.73"/><circle cx="111.7" cy="297.3" r="1.73"/><circle cx="140.1" cy="275.2" r="1.73"/><circle cx="136.9" cy="300.8" r="1.73"/><circle cx="150.9" cy="272.7" r="1.73"/><circle cx="177.5" cy="284.0" r="1.73"/><circle cx="117.5" cy="301.4" r="1.73"/><circle cx="188.1" cy="238.8" r="1.73"/><circle cx="97.1" cy="289.4" r="1.73"/><circle cx="70.0" cy="317.0" r="1.73"/><circle cx="154.2" cy="292.2" r="1.73"/><circle cx="94.3" cy="284.0" r="1.73"/><circle cx="66.9" cy="317.0" r="1.73"/><circle cx="138.2" cy="290.7" r="1.73"/><circle cx="103.8" cy="329.7" r="1.73"/><circle cx="147.1" cy="267.7" r="1.73"/><circle cx="152.4" cy="301.2" r="1.73"/><circle cx="102.3" cy="284.6" r="1.73"/><circle cx="124.8" cy="303.2" r="1.73"/><circle cx="190.9" cy="329.7" r="1.73"/><circle cx="135.3" cy="304.7" r="1.73"/><circle cx="177.8" cy="263.3" r="1.73"/><circle cx="124.6" cy="277.4" r="1.73"/><circle cx="90.1" cy="270.4" r="1.73"/><circle cx="108.1" cy="294.3" r="1.73"/><circle cx="102.9" cy="290.3" r="1.73"/><circle cx="200.8" cy="278.8" r="1.73"/><circle cx="131.8" cy="314.6" r="1.73"/><circle cx="82.5" cy="289.4" r="1.73"/><circle cx="124.3" cy="270.1" r="1.73"/><circle cx="119.2" cy="303.2" r="1.73"/><circle cx="101.7" cy="347.8" r="1.73"/><circle cx="85.2" cy="281.9" r="1.73"/><circle cx="197.6" cy="278.8" r="1.73"/><circle cx="118.9" cy="267.2" r="1.73"/><circle cx="155.4" cy="311.8" r="1.73"/><circle cx="166.7" cy="281.5" r="1.73"/><circle cx="104.7" cy="296.8" r="1.73"/><circle cx="147.0" cy="300.7" r="1.73"/><circle cx="204.0" cy="248.2" r="1.73"/><circle cx="130.1" cy="300.7" r="1.73"/><circle cx="81.6" cy="277.8" r="1.73"/><circle cx="147.2" cy="281.5" r="1.73"/><circle cx="132.9" cy="261.6" r="1.73"/><circle cx="197.6" cy="289.6" r="1.73"/><circle cx="163.4" cy="288.6" r="1.73"/><circle cx="140.5" cy="301.2" r="1.73"/><circle cx="202.9" cy="272.1" r="1.73"/><circle cx="113.9" cy="297.3" r="1.73"/><circle cx="174.4" cy="257.4" r="1.73"/><circle cx="98.4" cy="300.4" r="1.73"/><circle cx="199.9" cy="277.9" r="1.73"/><circle cx="191.4" cy="297.0" r="1.73"/><circle cx="156.6" cy="261.8" r="1.73"/><circle cx="77.5" cy="293.3" r="1.73"/><circle cx="149.7" cy="266.8" r="1.73"/><circle cx="125.3" cy="287.4" r="1.73"/><circle cx="116.4" cy="332.4" r="1.73"/><circle cx="59.6" cy="319.4" r="1.73"/><circle cx="76.3" cy="307.4" r="1.73"/><circle cx="159.2" cy="272.7" r="1.73"/><circle cx="73.2" cy="301.2" r="1.73"/><circle cx="140.2" cy="292.6" r="1.73"/><circle cx="179.4" cy="292.2" r="1.73"/><circle cx="128.1" cy="317.4" r="1.73"/><circle cx="102.9" cy="293.8" r="1.73"/><circle cx="156.2" cy="257.4" r="1.73"/><circle cx="65.8" cy="314.3" r="1.73"/><circle cx="136.0" cy="284.5" r="1.73"/><circle cx="128.8" cy="277.6" r="1.73"/><circle cx="122.3" cy="277.5" r="1.73"/><circle cx="128.7" cy="221.0" r="1.73"/><circle cx="134.4" cy="263.9" r="1.73"/><circle cx="183.4" cy="272.7" r="1.73"/><circle cx="103.6" cy="295.0" r="1.73"/><circle cx="55.9" cy="295.3" r="1.73"/><circle cx="130.4" cy="258.1" r="1.73"/><circle cx="124.1" cy="313.0" r="1.73"/><circle cx="128.3" cy="290.4" r="1.73"/><circle cx="107.9" cy="284.2" r="1.73"/><circle cx="193.6" cy="270.3" r="1.73"/><circle cx="114.8" cy="293.8" r="1.73"/><circle cx="70.8" cy="317.8" r="1.73"/><circle cx="65.2" cy="322.9" r="1.73"/><circle cx="149.2" cy="282.1" r="1.73"/><circle cx="125.4" cy="293.3" r="1.73"/><circle cx="147.9" cy="292.5" r="1.73"/><circle cx="152.3" cy="258.4" r="1.73"/><circle cx="137.4" cy="307.6" r="1.73"/><circle cx="132.5" cy="250.0" r="1.73"/><circle cx="129.4" cy="314.9" r="1.73"/><circle cx="88.8" cy="317.0" r="1.73"/><circle cx="127.0" cy="251.8" r="1.73"/><circle cx="179.3" cy="291.9" r="1.73"/><circle cx="100.8" cy="285.2" r="1.73"/><circle cx="167.7" cy="308.1" r="1.73"/><circle cx="163.4" cy="277.4" r="1.73"/><circle cx="141.8" cy="298.3" r="1.73"/><circle cx="96.0" cy="267.8" r="1.73"/><circle cx="88.0" cy="277.8" r="1.73"/><circle cx="136.7" cy="297.3" r="1.73"/><circle cx="90.7" cy="275.2" r="1.73"/><circle cx="212.0" cy="226.1" r="1.73"/><circle cx="109.7" cy="323.4" r="1.73"/><circle cx="81.7" cy="292.5" r="1.73"/><circle cx="205.0" cy="245.5" r="1.73"/><circle cx="154.4" cy="307.1" r="1.73"/><circle cx="115.3" cy="272.7" r="1.73"/><circle cx="99.8" cy="276.8" r="1.73"/><circle cx="214.1" cy="226.1" r="1.73"/><circle cx="166.0" cy="301.7" r="1.73"/><circle cx="153.4" cy="313.0" r="1.73"/><circle cx="88.4" cy="313.0" r="1.73"/><circle cx="157.1" cy="323.6" r="1.73"/><circle cx="124.2" cy="317.5" r="1.73"/><circle cx="131.4" cy="267.3" r="1.73"/><circle cx="114.7" cy="289.9" r="1.73"/><circle cx="132.8" cy="304.7" r="1.73"/><circle cx="121.0" cy="286.4" r="1.73"/><circle cx="191.4" cy="284.3" r="1.73"/><circle cx="146.0" cy="221.0" r="1.73"/><circle cx="169.7" cy="286.5" r="1.73"/><circle cx="96.3" cy="312.0" r="1.73"/><circle cx="82.9" cy="284.4" r="1.73"/><circle cx="158.0" cy="317.8" r="1.73"/><circle cx="129.2" cy="298.8" r="1.73"/><circle cx="139.7" cy="279.9" r="1.73"/><circle cx="137.7" cy="292.8" r="1.73"/><circle cx="96.9" cy="267.1" r="1.73"/><circle cx="148.1" cy="320.2" r="1.73"/><circle cx="180.8" cy="304.4" r="1.73"/><circle cx="128.2" cy="286.3" r="1.73"/><circle cx="71.5" cy="301.2" r="1.73"/><circle cx="134.1" cy="270.2" r="1.73"/><circle cx="162.7" cy="307.6" r="1.73"/><circle cx="168.1" cy="241.3" r="1.73"/><circle cx="141.9" cy="250.3" r="1.73"/><circle cx="142.8" cy="241.3" r="1.73"/><circle cx="217.7" cy="272.9" r="1.73"/><circle cx="118.8" cy="300.9" r="1.73"/><circle cx="93.9" cy="283.0" r="1.73"/><circle cx="161.8" cy="225.5" r="1.73"/><circle cx="125.8" cy="296.6" r="1.73"/><circle cx="138.6" cy="332.4" r="1.73"/><circle cx="193.7" cy="291.9" r="1.73"/><circle cx="156.7" cy="277.5" r="1.73"/><circle cx="91.5" cy="293.3" r="1.73"/><circle cx="176.1" cy="286.4" r="1.73"/><circle cx="115.3" cy="318.1" r="1.73"/><circle cx="180.5" cy="274.9" r="1.73"/><circle cx="112.4" cy="305.6" r="1.73"/><circle cx="173.8" cy="297.8" r="1.73"/><circle cx="136.8" cy="264.3" r="1.73"/><circle cx="96.2" cy="306.6" r="1.73"/><circle cx="67.3" cy="274.0" r="1.73"/><circle cx="174.3" cy="269.2" r="1.73"/><circle cx="118.5" cy="277.9" r="1.73"/><circle cx="156.5" cy="320.2" r="1.73"/><circle cx="59.5" cy="332.4" r="1.73"/><circle cx="164.4" cy="306.0" r="1.73"/><circle cx="141.0" cy="290.4" r="1.73"/><circle cx="139.5" cy="300.7" r="1.73"/><circle cx="99.5" cy="318.0" r="1.73"/><circle cx="77.0" cy="279.3" r="1.73"/><circle cx="176.9" cy="292.5" r="1.73"/><circle cx="91.1" cy="267.9" r="1.73"/><circle cx="124.1" cy="292.1" r="1.73"/><circle cx="119.2" cy="331.2" r="1.73"/><circle cx="190.2" cy="240.4" r="1.73"/><circle cx="182.5" cy="272.4" r="1.73"/><circle cx="115.4" cy="305.5" r="1.73"/><circle cx="49.4" cy="343.0" r="1.73"/><circle cx="176.1" cy="310.2" r="1.73"/><circle cx="202.9" cy="268.3" r="1.73"/><circle cx="164.0" cy="282.5" r="1.73"/><circle cx="182.2" cy="277.6" r="1.73"/><circle cx="176.4" cy="277.2" r="1.73"/><circle cx="159.1" cy="323.7" r="1.73"/><circle cx="134.8" cy="255.4" r="1.73"/><circle cx="62.0" cy="313.5" r="1.73"/><circle cx="86.8" cy="294.3" r="1.73"/><circle cx="160.1" cy="329.7" r="1.73"/><circle cx="58.4" cy="322.9" r="1.73"/><circle cx="150.9" cy="295.3" r="1.73"/><circle cx="62.2" cy="299.1" r="1.73"/><circle cx="148.8" cy="264.4" r="1.73"/><circle cx="151.4" cy="294.9" r="1.73"/><circle cx="107.0" cy="305.8" r="1.73"/><circle cx="189.0" cy="261.5" r="1.73"/><circle cx="106.4" cy="296.8" r="1.73"/><circle cx="103.4" cy="302.9" r="1.73"/><circle cx="93.7" cy="311.6" r="1.73"/><circle cx="145.1" cy="257.6" r="1.73"/><circle cx="206.5" cy="249.7" r="1.73"/><circle cx="169.0" cy="286.4" r="1.73"/><circle cx="136.5" cy="330.3" r="1.73"/><circle cx="118.1" cy="303.4" r="1.73"/><circle cx="104.0" cy="265.8" r="1.73"/><circle cx="129.2" cy="320.3" r="1.73"/><circle cx="192.4" cy="249.7" r="1.73"/><circle cx="108.0" cy="312.1" r="1.73"/><circle cx="163.8" cy="286.4" r="1.73"/><circle cx="114.1" cy="295.3" r="1.73"/><circle cx="204.4" cy="262.0" r="1.73"/><circle cx="122.5" cy="293.8" r="1.73"/><circle cx="162.1" cy="259.4" r="1.73"/><circle cx="127.8" cy="305.2" r="1.73"/><circle cx="95.5" cy="288.3" r="1.73"/><circle cx="171.5" cy="286.9" r="1.73"/><circle cx="150.5" cy="317.2" r="1.73"/><circle cx="88.1" cy="299.2" r="1.73"/><circle cx="153.6" cy="292.8" r="1.73"/><circle cx="126.4" cy="279.8" r="1.73"/><circle cx="116.4" cy="272.7" r="1.73"/><circle cx="122.8" cy="284.0" r="1.73"/><circle cx="119.6" cy="255.2" r="1.73"/><circle cx="113.9" cy="267.8" r="1.73"/><circle cx="125.7" cy="314.5" r="1.73"/><circle cx="131.2" cy="234.1" r="1.73"/><circle cx="181.7" cy="256.4" r="1.73"/><circle cx="145.2" cy="266.7" r="1.73"/><circle cx="97.9" cy="269.7" r="1.73"/><circle cx="166.2" cy="314.8" r="1.73"/><circle cx="109.9" cy="288.2" r="1.73"/><circle cx="88.9" cy="308.6" r="1.73"/><circle cx="150.4" cy="291.9" r="1.73"/><circle cx="127.8" cy="266.3" r="1.73"/><circle cx="107.9" cy="310.0" r="1.73"/><circle cx="133.6" cy="282.0" r="1.73"/><circle cx="118.6" cy="286.5" r="1.73"/><circle cx="131.1" cy="277.4" r="1.73"/><circle cx="158.2" cy="267.2" r="1.73"/><circle cx="71.6" cy="304.7" r="1.73"/><circle cx="116.4" cy="288.5" r="1.73"/><circle cx="110.4" cy="264.2" r="1.73"/><circle cx="171.2" cy="267.0" r="1.73"/><circle cx="135.0" cy="305.2" r="1.73"/><circle cx="136.1" cy="318.4" r="1.73"/><circle cx="140.5" cy="277.5" r="1.73"/><circle cx="108.7" cy="314.8" r="1.73"/><circle cx="62.2" cy="332.4" r="1.73"/><circle cx="151.3" cy="297.8" r="1.73"/><circle cx="100.6" cy="272.5" r="1.73"/><circle cx="73.2" cy="277.2" r="1.73"/><circle cx="170.2" cy="310.7" r="1.73"/><circle cx="129.8" cy="303.4" r="1.73"/><circle cx="145.1" cy="317.0" r="1.73"/><circle cx="185.4" cy="239.8" r="1.73"/><circle cx="166.4" cy="280.1" r="1.73"/><circle cx="97.5" cy="329.7" r="1.73"/><circle cx="75.1" cy="300.8" r="1.73"/><circle cx="94.3" cy="277.8" r="1.73"/><circle cx="118.1" cy="324.8" r="1.73"/><circle cx="121.0" cy="280.0" r="1.73"/><circle cx="100.9" cy="317.2" r="1.73"/><circle cx="94.7" cy="310.1" r="1.73"/><circle cx="129.5" cy="278.1" r="1.73"/><circle cx="108.5" cy="301.2" r="1.73"/><circle cx="136.0" cy="314.8" r="1.73"/><circle cx="93.4" cy="263.0" r="1.73"/><circle cx="203.3" cy="264.3" r="1.73"/><circle cx="94.2" cy="290.4" r="1.73"/><circle cx="74.3" cy="295.8" r="1.73"/><circle cx="169.2" cy="225.5" r="1.73"/><circle cx="143.9" cy="228.6" r="1.73"/><circle cx="162.5" cy="295.3" r="1.73"/><circle cx="155.2" cy="315.5" r="1.73"/><circle cx="122.4" cy="284.1" r="1.73"/><circle cx="153.0" cy="312.3" r="1.73"/><circle cx="106.9" cy="282.5" r="1.73"/><circle cx="95.1" cy="299.2" r="1.73"/><circle cx="52.7" cy="322.9" r="1.73"/><circle cx="157.4" cy="261.5" r="1.73"/><circle cx="124.6" cy="286.4" r="1.73"/><circle cx="113.6" cy="313.5" r="1.73"/><circle cx="114.1" cy="287.9" r="1.73"/><circle cx="130.8" cy="286.5" r="1.73"/><circle cx="116.2" cy="274.1" r="1.73"/><circle cx="146.3" cy="284.0" r="1.73"/><circle cx="120.0" cy="314.6" r="1.73"/><circle cx="154.1" cy="284.2" r="1.73"/><circle cx="221.9" cy="270.0" r="1.73"/><circle cx="103.8" cy="258.2" r="1.73"/><circle cx="131.9" cy="308.1" r="1.73"/><circle cx="103.1" cy="296.5" r="1.73"/><circle cx="110.4" cy="268.2" r="1.73"/><circle cx="93.2" cy="287.4" r="1.73"/><circle cx="135.0" cy="280.0" r="1.73"/><circle cx="42.0" cy="332.4" r="1.73"/><circle cx="95.5" cy="317.5" r="1.73"/><circle cx="135.2" cy="273.6" r="1.73"/><circle cx="117.1" cy="289.4" r="1.73"/><circle cx="119.0" cy="301.2" r="1.73"/><circle cx="133.4" cy="320.6" r="1.73"/><circle cx="78.7" cy="301.2" r="1.73"/><circle cx="128.0" cy="235.6" r="1.73"/><circle cx="135.7" cy="257.7" r="1.73"/><circle cx="121.7" cy="307.2" r="1.73"/><circle cx="168.4" cy="253.9" r="1.73"/><circle cx="196.9" cy="253.5" r="1.73"/><circle cx="184.8" cy="254.7" r="1.73"/><circle cx="149.1" cy="285.9" r="1.73"/><circle cx="98.5" cy="298.6" r="1.73"/><circle cx="133.5" cy="299.2" r="1.73"/><circle cx="63.7" cy="293.2" r="1.73"/><circle cx="166.3" cy="257.3" r="1.73"/><circle cx="177.7" cy="292.4" r="1.73"/><circle cx="166.2" cy="290.4" r="1.73"/><circle cx="127.6" cy="286.3" r="1.73"/><circle cx="195.0" cy="271.2" r="1.73"/><circle cx="173.2" cy="291.4" r="1.73"/><circle cx="152.8" cy="261.4" r="1.73"/><circle cx="108.9" cy="272.5" r="1.73"/><circle cx="169.2" cy="247.2" r="1.73"/><circle cx="56.7" cy="343.0" r="1.73"/><circle cx="101.4" cy="292.3" r="1.73"/><circle cx="157.0" cy="276.6" r="1.73"/><circle cx="112.6" cy="298.8" r="1.73"/><circle cx="135.3" cy="294.3" r="1.73"/><circle cx="158.9" cy="273.6" r="1.73"/><circle cx="86.3" cy="246.8" r="1.73"/><circle cx="117.0" cy="307.7" r="1.73"/><circle cx="111.6" cy="314.3" r="1.73"/><circle cx="103.6" cy="303.3" r="1.73"/><circle cx="142.5" cy="302.7" r="1.73"/><circle cx="81.0" cy="304.7" r="1.73"/><circle cx="112.9" cy="284.5" r="1.73"/><circle cx="83.9" cy="282.2" r="1.73"/><circle cx="177.9" cy="301.7" r="1.73"/><circle cx="138.6" cy="255.2" r="1.73"/><circle cx="159.0" cy="293.3" r="1.73"/><circle cx="60.1" cy="311.8" r="1.73"/><circle cx="199.7" cy="293.2" r="1.73"/><circle cx="138.5" cy="284.9" r="1.73"/><circle cx="155.1" cy="297.1" r="1.73"/><circle cx="167.7" cy="289.9" r="1.73"/><circle cx="89.1" cy="281.9" r="1.73"/><circle cx="122.4" cy="305.7" r="1.73"/><circle cx="108.4" cy="284.8" r="1.73"/><circle cx="107.1" cy="286.9" r="1.73"/><circle cx="93.8" cy="288.7" r="1.73"/><circle cx="169.2" cy="272.7" r="1.73"/><circle cx="129.9" cy="279.9" r="1.73"/><circle cx="149.0" cy="274.6" r="1.73"/><circle cx="168.5" cy="306.6" r="1.73"/><circle cx="176.9" cy="285.5" r="1.73"/><circle cx="171.5" cy="255.9" r="1.73"/><circle cx="73.0" cy="319.4" r="1.73"/><circle cx="176.4" cy="240.6" r="1.73"/><circle cx="184.6" cy="302.9" r="1.73"/><circle cx="170.8" cy="294.5" r="1.73"/><circle cx="145.3" cy="305.7" r="1.73"/><circle cx="143.8" cy="275.1" r="1.73"/><circle cx="114.3" cy="248.2" r="1.73"/><circle cx="177.3" cy="308.1" r="1.73"/><circle cx="94.5" cy="302.9" r="1.73"/><circle cx="116.0" cy="294.9" r="1.73"/><circle cx="163.0" cy="281.3" r="1.73"/><circle cx="166.3" cy="270.4" r="1.73"/><circle cx="155.4" cy="236.0" r="1.73"/><circle cx="81.4" cy="298.5" r="1.73"/><circle cx="138.9" cy="294.5" r="1.73"/><circle cx="113.2" cy="282.1" r="1.73"/><circle cx="139.8" cy="286.6" r="1.73"/><circle cx="109.1" cy="262.4" r="1.73"/><circle cx="124.2" cy="297.3" r="1.73"/><circle cx="95.1" cy="303.7" r="1.73"/><circle cx="119.9" cy="288.4" r="1.73"/><circle cx="181.0" cy="295.0" r="1.73"/><circle cx="173.3" cy="277.5" r="1.73"/><circle cx="106.6" cy="301.2" r="1.73"/><circle cx="117.2" cy="296.4" r="1.73"/><circle cx="157.6" cy="318.1" r="1.73"/><circle cx="102.1" cy="310.1" r="1.73"/><circle cx="160.3" cy="298.7" r="1.73"/><circle cx="108.1" cy="288.4" r="1.73"/><circle cx="126.5" cy="300.8" r="1.73"/><circle cx="176.5" cy="240.4" r="1.73"/><circle cx="229.9" cy="260.3" r="1.73"/><circle cx="165.0" cy="286.6" r="1.73"/><circle cx="100.0" cy="299.0" r="1.73"/><circle cx="155.3" cy="298.8" r="1.73"/><circle cx="84.1" cy="305.7" r="1.73"/><circle cx="202.3" cy="260.3" r="1.73"/><circle cx="101.9" cy="289.7" r="1.73"/><circle cx="147.2" cy="265.8" r="1.73"/><circle cx="238.1" cy="256.7" r="1.73"/><circle cx="232.4" cy="266.2" r="1.73"/><circle cx="104.7" cy="270.1" r="1.73"/><circle cx="115.5" cy="296.3" r="1.73"/><circle cx="131.3" cy="283.0" r="1.73"/><circle cx="192.4" cy="295.9" r="1.73"/><circle cx="75.3" cy="316.0" r="1.73"/><circle cx="97.1" cy="305.6" r="1.73"/><circle cx="163.6" cy="288.2" r="1.73"/><circle cx="109.1" cy="272.9" r="1.73"/><circle cx="154.4" cy="225.5" r="1.73"/><circle cx="182.6" cy="289.4" r="1.73"/><circle cx="142.3" cy="298.6" r="1.73"/><circle cx="157.3" cy="295.8" r="1.73"/><circle cx="108.7" cy="290.2" r="1.73"/><circle cx="131.7" cy="307.6" r="1.73"/><circle cx="112.9" cy="255.2" r="1.73"/><circle cx="86.8" cy="281.0" r="1.73"/><circle cx="209.2" cy="244.5" r="1.73"/><circle cx="159.3" cy="303.7" r="1.73"/><circle cx="91.6" cy="281.8" r="1.73"/><circle cx="174.5" cy="306.0" r="1.73"/><circle cx="135.4" cy="294.3" r="1.73"/><circle cx="151.7" cy="300.2" r="1.73"/><circle cx="123.2" cy="315.5" r="1.73"/><circle cx="156.5" cy="315.6" r="1.73"/><circle cx="97.8" cy="303.7" r="1.73"/><circle cx="137.2" cy="310.2" r="1.73"/><circle cx="86.1" cy="296.7" r="1.73"/><circle cx="173.9" cy="269.6" r="1.73"/><circle cx="91.9" cy="277.5" r="1.73"/><circle cx="75.7" cy="314.7" r="1.73"/><circle cx="160.7" cy="320.2" r="1.73"/><circle cx="197.6" cy="246.8" r="1.73"/><circle cx="145.3" cy="307.6" r="1.73"/><circle cx="149.6" cy="243.4" r="1.73"/><circle cx="217.7" cy="285.2" r="1.73"/><circle cx="81.0" cy="343.0" r="1.73"/><circle cx="75.2" cy="288.4" r="1.73"/><circle cx="129.5" cy="316.5" r="1.73"/><circle cx="189.6" cy="314.5" r="1.73"/><circle cx="159.3" cy="276.1" r="1.73"/><circle cx="174.4" cy="311.8" r="1.73"/><circle cx="167.5" cy="265.8" r="1.73"/><circle cx="80.6" cy="288.4" r="1.73"/><circle cx="127.7" cy="267.4" r="1.73"/><circle cx="168.7" cy="286.2" r="1.73"/><circle cx="173.4" cy="320.2" r="1.73"/><circle cx="169.1" cy="291.9" r="1.73"/><circle cx="77.0" cy="329.7" r="1.73"/><circle cx="94.2" cy="314.4" r="1.73"/>
</g>
<path class="ax" d="M31.3 208.3V362.8H267.0M49.60 362.8v2M88.40 362.8v2M127.20 362.8v2M166.00 362.8v2M204.80 362.8v2M243.60 362.8v2M31.3 353.90h-2M31.3 329.28h-2M31.3 304.66h-2M31.3 280.04h-2M31.3 255.42h-2M31.3 230.80h-2"/>
<g class="tk">
<text x="49.6" y="372.1" text-anchor="middle">350</text>
<text x="88.4" y="372.1" text-anchor="middle">400</text>
<text x="127.2" y="372.1" text-anchor="middle">450</text>
<text x="166.0" y="372.1" text-anchor="middle">500</text>
<text x="204.8" y="372.1" text-anchor="middle">550</text>
<text x="243.6" y="372.1" text-anchor="middle">600</text>
<text x="26.0" y="356.0" text-anchor="end">300</text>
<text x="26.0" y="331.4" text-anchor="end">350</text>
<text x="26.0" y="306.8" text-anchor="end">400</text>
<text x="26.0" y="282.1" text-anchor="end">450</text>
<text x="26.0" y="257.5" text-anchor="end">500</text>
<text x="26.0" y="232.9" text-anchor="end">550</text>
<text class="lb" x="148.7" y="380.1" text-anchor="middle">Chest width (mm)</text>
<text class="lb" transform="translate(10.5 285.6) rotate(-90)" text-anchor="middle">Weight (kg)</text>
</g>
<text class="r" x="56.2" y="214.8">R = 0.428</text>
<text class="cap" x="136.2" y="397.7" text-anchor="middle" letter-spacing="0.5">(<tspan font-weight="bold">c</tspan>)</text>
</g>
</svg>
</body></html>
